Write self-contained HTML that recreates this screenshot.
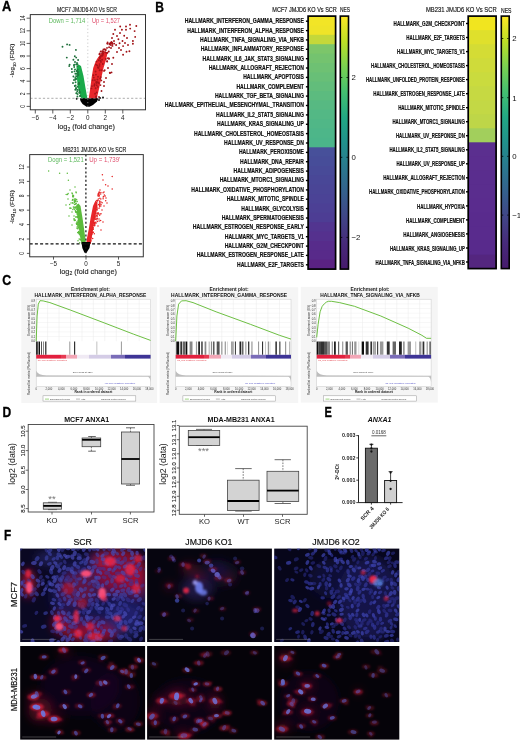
<!DOCTYPE html>
<html><head><meta charset="utf-8"><title>Figure</title><style>html,body{margin:0;padding:0;background:#fff;overflow:hidden}svg{display:block}text{font-family:"Liberation Sans",Arial,sans-serif}</style></head><body>
<svg width="520" height="742" viewBox="0 0 520 742">
<rect width="520" height="742" fill="#fff"/>
<text x="2" y="11.3" font-size="13.9" font-weight="bold" stroke="#000" stroke-width="0.3" textLength="9.3" lengthAdjust="spacingAndGlyphs">A</text>
<text x="155.2" y="11.5" font-size="13.9" font-weight="bold" stroke="#000" stroke-width="0.3" textLength="8.7" lengthAdjust="spacingAndGlyphs">B</text>
<text x="2.2" y="285.2" font-size="13.9" font-weight="bold" stroke="#000" stroke-width="0.3" textLength="8.9" lengthAdjust="spacingAndGlyphs">C</text>
<text x="2.6" y="416.7" font-size="13.9" font-weight="bold" stroke="#000" stroke-width="0.3" textLength="8.7" lengthAdjust="spacingAndGlyphs">D</text>
<text x="324.4" y="416.9" font-size="13.9" font-weight="bold" stroke="#000" stroke-width="0.3" textLength="7.4" lengthAdjust="spacingAndGlyphs">E</text>
<text x="3.9" y="539.8" font-size="13.9" font-weight="bold" stroke="#000" stroke-width="0.3" textLength="7.2" lengthAdjust="spacingAndGlyphs">F</text>
<clipPath id="cpA"><rect x="30.3" y="14.6" width="115.2" height="95.2"/></clipPath>
<g clip-path="url(#cpA)">
<polygon points="81.5,99.5 87.6,99.5 85.5,88 83.5,76 81,66 78.6,64.5 76.5,67 76.8,77 77.8,87 80,95" fill="#1aaa4a"/>
<polygon points="88.5,99.5 96.5,99.5 99,89 101.5,77 103.5,68 106,60 107.5,53 104,51 100.5,54 97,59 95,63 93.2,68 91.7,77 90,90" fill="#e8262a"/>
<circle cx="98.9" cy="83.1" r="0.95" fill="#a8141a"/>
<circle cx="109.5" cy="44.4" r="0.95" fill="#a8141a"/>
<circle cx="106.7" cy="52.9" r="0.95" fill="#a8141a"/>
<circle cx="93.8" cy="77.6" r="0.95" fill="#a8141a"/>
<circle cx="96.2" cy="82" r="0.95" fill="#a8141a"/>
<circle cx="93.3" cy="75.2" r="0.95" fill="#a8141a"/>
<circle cx="107.4" cy="52.7" r="0.95" fill="#a8141a"/>
<circle cx="114.2" cy="43.6" r="0.95" fill="#a8141a"/>
<circle cx="91.4" cy="88.4" r="0.95" fill="#a8141a"/>
<circle cx="108.9" cy="58.4" r="0.95" fill="#a8141a"/>
<circle cx="103.4" cy="49.4" r="0.95" fill="#a8141a"/>
<circle cx="100.7" cy="51.5" r="0.95" fill="#a8141a"/>
<circle cx="109.8" cy="43.4" r="0.95" fill="#a8141a"/>
<circle cx="101.2" cy="55.6" r="0.95" fill="#a8141a"/>
<circle cx="107.6" cy="43.6" r="0.95" fill="#a8141a"/>
<circle cx="102.6" cy="53.5" r="0.95" fill="#a8141a"/>
<circle cx="97.2" cy="82.1" r="0.95" fill="#a8141a"/>
<circle cx="97.3" cy="65.4" r="0.95" fill="#a8141a"/>
<circle cx="96.4" cy="98.2" r="0.95" fill="#a8141a"/>
<circle cx="109.1" cy="47.3" r="0.95" fill="#a8141a"/>
<circle cx="104" cy="70.9" r="0.95" fill="#a8141a"/>
<circle cx="108.8" cy="51.5" r="0.95" fill="#a8141a"/>
<circle cx="98" cy="67.6" r="0.95" fill="#a8141a"/>
<circle cx="107.2" cy="61.5" r="0.95" fill="#a8141a"/>
<circle cx="96.6" cy="83" r="0.95" fill="#a8141a"/>
<circle cx="96.5" cy="61.6" r="0.95" fill="#a8141a"/>
<circle cx="112.5" cy="44" r="0.95" fill="#a8141a"/>
<circle cx="102.3" cy="51.1" r="0.95" fill="#a8141a"/>
<circle cx="105.8" cy="58.9" r="0.95" fill="#a8141a"/>
<circle cx="98.7" cy="67.9" r="0.95" fill="#a8141a"/>
<circle cx="105.3" cy="52.3" r="0.95" fill="#a8141a"/>
<circle cx="98" cy="76.7" r="0.95" fill="#a8141a"/>
<circle cx="105.8" cy="50" r="0.95" fill="#a8141a"/>
<circle cx="104.7" cy="70.2" r="0.95" fill="#a8141a"/>
<circle cx="100.9" cy="61.9" r="0.95" fill="#a8141a"/>
<circle cx="111.5" cy="42" r="0.95" fill="#a8141a"/>
<circle cx="95.9" cy="97" r="0.95" fill="#a8141a"/>
<circle cx="107.9" cy="58.3" r="0.95" fill="#a8141a"/>
<circle cx="110.2" cy="43.7" r="0.95" fill="#a8141a"/>
<circle cx="95.1" cy="93.8" r="0.95" fill="#a8141a"/>
<circle cx="102.4" cy="53.4" r="0.95" fill="#a8141a"/>
<circle cx="109" cy="58.8" r="0.95" fill="#a8141a"/>
<circle cx="100.8" cy="77.1" r="0.95" fill="#a8141a"/>
<circle cx="97.9" cy="86.9" r="0.95" fill="#a8141a"/>
<circle cx="97.4" cy="79.5" r="0.95" fill="#a8141a"/>
<circle cx="102.1" cy="59.7" r="0.95" fill="#a8141a"/>
<circle cx="96.7" cy="85.3" r="0.95" fill="#a8141a"/>
<circle cx="110.9" cy="42.8" r="0.95" fill="#a8141a"/>
<circle cx="102.8" cy="54.9" r="0.95" fill="#a8141a"/>
<circle cx="107" cy="47.9" r="0.95" fill="#a8141a"/>
<circle cx="102.8" cy="64" r="0.95" fill="#a8141a"/>
<circle cx="99.8" cy="53.4" r="0.95" fill="#a8141a"/>
<circle cx="107.3" cy="43.6" r="0.95" fill="#a8141a"/>
<circle cx="107" cy="61.3" r="0.95" fill="#a8141a"/>
<circle cx="100.2" cy="78.5" r="0.95" fill="#a8141a"/>
<circle cx="94.9" cy="80.1" r="0.95" fill="#a8141a"/>
<circle cx="98.2" cy="82.5" r="0.95" fill="#a8141a"/>
<circle cx="95.9" cy="74.6" r="0.95" fill="#a8141a"/>
<circle cx="99.6" cy="64.1" r="0.95" fill="#a8141a"/>
<circle cx="99.7" cy="57.5" r="0.95" fill="#a8141a"/>
<circle cx="110.9" cy="45" r="0.95" fill="#a8141a"/>
<circle cx="103.1" cy="53.2" r="0.95" fill="#a8141a"/>
<circle cx="99.4" cy="54.3" r="0.95" fill="#a8141a"/>
<circle cx="105.2" cy="49.7" r="0.95" fill="#a8141a"/>
<circle cx="107.6" cy="42.5" r="0.95" fill="#a8141a"/>
<circle cx="95.6" cy="88.3" r="0.95" fill="#a8141a"/>
<circle cx="111.6" cy="43" r="0.95" fill="#a8141a"/>
<circle cx="92.7" cy="80.2" r="0.95" fill="#a8141a"/>
<circle cx="95.6" cy="71.5" r="0.95" fill="#a8141a"/>
<circle cx="101.4" cy="70.3" r="0.95" fill="#a8141a"/>
<circle cx="99.9" cy="58.6" r="0.95" fill="#a8141a"/>
<circle cx="96.3" cy="96.3" r="0.95" fill="#a8141a"/>
<circle cx="100.6" cy="56.8" r="0.95" fill="#a8141a"/>
<circle cx="99.5" cy="65.9" r="0.95" fill="#a8141a"/>
<circle cx="100.4" cy="60.7" r="0.95" fill="#a8141a"/>
<circle cx="96" cy="64.6" r="0.95" fill="#a8141a"/>
<circle cx="112.4" cy="45.9" r="0.95" fill="#a8141a"/>
<circle cx="94.3" cy="85.8" r="0.95" fill="#a8141a"/>
<circle cx="94.6" cy="84.2" r="0.95" fill="#a8141a"/>
<circle cx="96.7" cy="92.4" r="0.95" fill="#a8141a"/>
<circle cx="103.1" cy="51.2" r="0.95" fill="#a8141a"/>
<circle cx="91.9" cy="86.1" r="0.95" fill="#a8141a"/>
<circle cx="101.3" cy="80.4" r="0.95" fill="#a8141a"/>
<circle cx="98.6" cy="60.3" r="0.95" fill="#a8141a"/>
<circle cx="100.4" cy="85.1" r="0.95" fill="#a8141a"/>
<circle cx="99.6" cy="70.3" r="0.95" fill="#a8141a"/>
<circle cx="104.7" cy="49.3" r="0.95" fill="#a8141a"/>
<circle cx="112.3" cy="42.9" r="0.95" fill="#a8141a"/>
<circle cx="102.2" cy="52" r="0.95" fill="#a8141a"/>
<circle cx="98" cy="67.3" r="0.95" fill="#a8141a"/>
<circle cx="102.2" cy="55.8" r="0.95" fill="#a8141a"/>
<circle cx="120.2" cy="26.5" r="0.95" fill="#a01216"/>
<circle cx="121.9" cy="29.8" r="0.95" fill="#a01216"/>
<circle cx="126" cy="26.5" r="0.95" fill="#a01216"/>
<circle cx="126" cy="29.8" r="0.95" fill="#a01216"/>
<circle cx="130" cy="24.8" r="0.95" fill="#a01216"/>
<circle cx="130.2" cy="28.6" r="0.95" fill="#a01216"/>
<circle cx="136.3" cy="26" r="0.95" fill="#a01216"/>
<circle cx="134.6" cy="31.1" r="0.95" fill="#a01216"/>
<circle cx="115" cy="29.8" r="0.95" fill="#a01216"/>
<circle cx="113.3" cy="34" r="0.95" fill="#a01216"/>
<circle cx="124.2" cy="35.8" r="0.95" fill="#a01216"/>
<circle cx="135.2" cy="36.9" r="0.95" fill="#a01216"/>
<circle cx="132.9" cy="41" r="0.95" fill="#a01216"/>
<circle cx="132.9" cy="43.8" r="0.95" fill="#a01216"/>
<circle cx="118.4" cy="39.2" r="0.95" fill="#a01216"/>
<circle cx="122.5" cy="41" r="0.95" fill="#a01216"/>
<circle cx="119.6" cy="43.3" r="0.95" fill="#a01216"/>
<circle cx="116.1" cy="45" r="0.95" fill="#a01216"/>
<circle cx="123.1" cy="46.1" r="0.95" fill="#a01216"/>
<circle cx="126.5" cy="51.7" r="0.95" fill="#a01216"/>
<circle cx="129.4" cy="51.3" r="0.95" fill="#a01216"/>
<circle cx="123.1" cy="54.8" r="0.95" fill="#a01216"/>
<circle cx="113.3" cy="57.7" r="0.95" fill="#a01216"/>
<circle cx="109.8" cy="72.7" r="0.95" fill="#a01216"/>
<circle cx="111.5" cy="72.4" r="0.95" fill="#a01216"/>
<circle cx="110" cy="73" r="0.95" fill="#a01216"/>
<circle cx="104" cy="86" r="0.95" fill="#a01216"/>
<circle cx="101.5" cy="91" r="0.95" fill="#a01216"/>
<circle cx="99" cy="97" r="0.95" fill="#a01216"/>
<circle cx="112" cy="38" r="0.95" fill="#a01216"/>
<circle cx="117" cy="36" r="0.95" fill="#a01216"/>
<circle cx="120" cy="33" r="0.95" fill="#a01216"/>
<circle cx="127" cy="38" r="0.95" fill="#a01216"/>
<circle cx="114" cy="41" r="0.95" fill="#a01216"/>
<circle cx="119" cy="48" r="0.95" fill="#a01216"/>
<circle cx="121" cy="50" r="0.95" fill="#a01216"/>
<circle cx="117" cy="52" r="0.95" fill="#a01216"/>
<circle cx="125" cy="43" r="0.95" fill="#a01216"/>
<circle cx="111" cy="48" r="0.95" fill="#a01216"/>
<circle cx="128" cy="45" r="0.95" fill="#a01216"/>
<circle cx="112" cy="64" r="0.95" fill="#a01216"/>
<circle cx="108" cy="68" r="0.95" fill="#a01216"/>
<circle cx="106" cy="78" r="0.95" fill="#a01216"/>
<circle cx="104" cy="82" r="0.95" fill="#a01216"/>
<circle cx="62.5" cy="46.8" r="0.95" fill="#1d6e3a"/>
<circle cx="67.1" cy="44.4" r="0.95" fill="#1d6e3a"/>
<circle cx="69.6" cy="44.9" r="0.95" fill="#1d6e3a"/>
<circle cx="75.9" cy="49.9" r="0.95" fill="#1d6e3a"/>
<circle cx="66.8" cy="57.6" r="0.95" fill="#1d6e3a"/>
<circle cx="74.8" cy="56.2" r="0.95" fill="#1d6e3a"/>
<circle cx="76.2" cy="57.6" r="0.95" fill="#1d6e3a"/>
<circle cx="73.4" cy="59.7" r="0.95" fill="#1d6e3a"/>
<circle cx="78.1" cy="60" r="0.95" fill="#1d6e3a"/>
<circle cx="69.6" cy="64.7" r="0.95" fill="#1d6e3a"/>
<circle cx="69.2" cy="66.1" r="0.95" fill="#1d6e3a"/>
<circle cx="71.8" cy="69" r="0.95" fill="#1d6e3a"/>
<circle cx="73.4" cy="76.5" r="0.95" fill="#1d6e3a"/>
<circle cx="74.8" cy="86" r="0.95" fill="#1d6e3a"/>
<circle cx="75.3" cy="89.7" r="0.95" fill="#1d6e3a"/>
<circle cx="75" cy="62" r="0.95" fill="#1d6e3a"/>
<circle cx="77" cy="63" r="0.95" fill="#1d6e3a"/>
<circle cx="72" cy="72" r="0.95" fill="#1d6e3a"/>
<circle cx="74" cy="80" r="0.95" fill="#1d6e3a"/>
<circle cx="73" cy="83" r="0.95" fill="#1d6e3a"/>
<circle cx="79.7" cy="92.8" r="0.95" fill="#1f7a3e"/>
<circle cx="74.4" cy="64.6" r="0.95" fill="#1f7a3e"/>
<circle cx="78.4" cy="74.8" r="0.95" fill="#1f7a3e"/>
<circle cx="77.2" cy="89.8" r="0.95" fill="#1f7a3e"/>
<circle cx="76.8" cy="71" r="0.95" fill="#1f7a3e"/>
<circle cx="79.7" cy="91.6" r="0.95" fill="#1f7a3e"/>
<circle cx="78.1" cy="75.3" r="0.95" fill="#1f7a3e"/>
<circle cx="77.5" cy="86.7" r="0.95" fill="#1f7a3e"/>
<circle cx="77.4" cy="96.5" r="0.95" fill="#1f7a3e"/>
<circle cx="76" cy="87.9" r="0.95" fill="#1f7a3e"/>
<circle cx="77.7" cy="69.6" r="0.95" fill="#1f7a3e"/>
<circle cx="77.2" cy="71" r="0.95" fill="#1f7a3e"/>
<circle cx="78.7" cy="83.8" r="0.95" fill="#1f7a3e"/>
<circle cx="76" cy="76.1" r="0.95" fill="#1f7a3e"/>
<circle cx="77.8" cy="73.6" r="0.95" fill="#1f7a3e"/>
<circle cx="79.1" cy="83.9" r="0.95" fill="#1f7a3e"/>
<circle cx="76.7" cy="93.3" r="0.95" fill="#1f7a3e"/>
<circle cx="75.6" cy="82.2" r="0.95" fill="#1f7a3e"/>
<circle cx="73.9" cy="65.3" r="0.95" fill="#1f7a3e"/>
<circle cx="79.3" cy="92.6" r="0.95" fill="#1f7a3e"/>
<circle cx="77.3" cy="91.3" r="0.95" fill="#1f7a3e"/>
<circle cx="78.5" cy="84.3" r="0.95" fill="#1f7a3e"/>
<circle cx="76.9" cy="76.5" r="0.95" fill="#1f7a3e"/>
<circle cx="74.5" cy="71.4" r="0.95" fill="#1f7a3e"/>
<circle cx="77.9" cy="72.8" r="0.95" fill="#1f7a3e"/>
<circle cx="78.9" cy="82.6" r="0.95" fill="#1f7a3e"/>
<circle cx="76" cy="79.1" r="0.95" fill="#1f7a3e"/>
<circle cx="79.2" cy="90" r="0.95" fill="#1f7a3e"/>
<circle cx="76.2" cy="64.4" r="0.95" fill="#1f7a3e"/>
<circle cx="74.2" cy="67" r="0.95" fill="#1f7a3e"/>
<circle cx="76.3" cy="93.2" r="0.95" fill="#1f7a3e"/>
<circle cx="78.2" cy="71.9" r="0.95" fill="#1f7a3e"/>
<circle cx="75.2" cy="77.9" r="0.95" fill="#1f7a3e"/>
<circle cx="75" cy="69.5" r="0.95" fill="#1f7a3e"/>
<circle cx="76.1" cy="88.6" r="0.95" fill="#1f7a3e"/>
<circle cx="77.7" cy="94.1" r="0.95" fill="#1f7a3e"/>
<circle cx="80" cy="96" r="0.95" fill="#1f7a3e"/>
<circle cx="75.4" cy="73.7" r="0.95" fill="#1f7a3e"/>
<circle cx="75.3" cy="79.7" r="0.95" fill="#1f7a3e"/>
<circle cx="75.6" cy="85.5" r="0.95" fill="#1f7a3e"/>
<circle cx="77.5" cy="64.3" r="0.95" fill="#1f7a3e"/>
<circle cx="76.8" cy="73.8" r="0.95" fill="#1f7a3e"/>
<circle cx="76.1" cy="78.8" r="0.95" fill="#1f7a3e"/>
<circle cx="77.3" cy="66.1" r="0.95" fill="#1f7a3e"/>
<circle cx="80.3" cy="96" r="0.95" fill="#1f7a3e"/>
<circle cx="76.7" cy="98.7" r="0.95" fill="#000"/>
<circle cx="100" cy="98" r="0.95" fill="#000"/>
<circle cx="103" cy="97.5" r="0.95" fill="#000"/>
<circle cx="99" cy="100" r="0.95" fill="#000"/>
<polygon points="79.8,98.2 98.5,98.2 97,101.5 93,105 89.5,106.8 86.5,106.8 82.5,104 80.5,101" fill="#000"/>
<line x1="30.3" y1="98.3" x2="145.5" y2="98.3" stroke="#8a8a8a" stroke-width="0.7" stroke-dasharray="2.2,2"/>
<line x1="87.8" y1="14.6" x2="87.8" y2="109.8" stroke="#b0b0b0" stroke-width="0.7" stroke-dasharray="1.1,2.4"/>
</g>
<rect x="30.3" y="14.6" width="115.2" height="95.2" fill="none" stroke="#333" stroke-width="1"/>
<line x1="26.6" y1="106.4" x2="30.3" y2="106.4" stroke="#333" stroke-width="0.8"/>
<text transform="translate(24.6,106.4) rotate(-90)" text-anchor="middle" font-size="6.3" fill="#1a1a1a" textLength="2.8" lengthAdjust="spacingAndGlyphs">0</text>
<line x1="26.6" y1="93.8" x2="30.3" y2="93.8" stroke="#333" stroke-width="0.8"/>
<text transform="translate(24.6,93.8) rotate(-90)" text-anchor="middle" font-size="6.3" fill="#1a1a1a" textLength="2.8" lengthAdjust="spacingAndGlyphs">2</text>
<line x1="26.6" y1="81.2" x2="30.3" y2="81.2" stroke="#333" stroke-width="0.8"/>
<text transform="translate(24.6,81.2) rotate(-90)" text-anchor="middle" font-size="6.3" fill="#1a1a1a" textLength="2.8" lengthAdjust="spacingAndGlyphs">4</text>
<line x1="26.6" y1="68.6" x2="30.3" y2="68.6" stroke="#333" stroke-width="0.8"/>
<text transform="translate(24.6,68.6) rotate(-90)" text-anchor="middle" font-size="6.3" fill="#1a1a1a" textLength="2.8" lengthAdjust="spacingAndGlyphs">6</text>
<line x1="26.6" y1="56" x2="30.3" y2="56" stroke="#333" stroke-width="0.8"/>
<text transform="translate(24.6,56) rotate(-90)" text-anchor="middle" font-size="6.3" fill="#1a1a1a" textLength="2.8" lengthAdjust="spacingAndGlyphs">8</text>
<line x1="26.6" y1="43.4" x2="30.3" y2="43.4" stroke="#333" stroke-width="0.8"/>
<text transform="translate(24.6,43.4) rotate(-90)" text-anchor="middle" font-size="6.3" fill="#1a1a1a" textLength="5.6" lengthAdjust="spacingAndGlyphs">10</text>
<line x1="26.6" y1="30.8" x2="30.3" y2="30.8" stroke="#333" stroke-width="0.8"/>
<text transform="translate(24.6,30.8) rotate(-90)" text-anchor="middle" font-size="6.3" fill="#1a1a1a" textLength="5.6" lengthAdjust="spacingAndGlyphs">12</text>
<line x1="26.6" y1="18.2" x2="30.3" y2="18.2" stroke="#333" stroke-width="0.8"/>
<text transform="translate(24.6,18.2) rotate(-90)" text-anchor="middle" font-size="6.3" fill="#1a1a1a" textLength="5.6" lengthAdjust="spacingAndGlyphs">14</text>
<line x1="35.3" y1="109.8" x2="35.3" y2="113.5" stroke="#333" stroke-width="0.8"/>
<text x="35.3" y="120.4" text-anchor="middle" font-size="6.3" fill="#1a1a1a">&#8722;6</text>
<line x1="52.8" y1="109.8" x2="52.8" y2="113.5" stroke="#333" stroke-width="0.8"/>
<text x="52.8" y="120.4" text-anchor="middle" font-size="6.3" fill="#1a1a1a">&#8722;4</text>
<line x1="70.3" y1="109.8" x2="70.3" y2="113.5" stroke="#333" stroke-width="0.8"/>
<text x="70.3" y="120.4" text-anchor="middle" font-size="6.3" fill="#1a1a1a">&#8722;2</text>
<line x1="87.8" y1="109.8" x2="87.8" y2="113.5" stroke="#333" stroke-width="0.8"/>
<text x="87.8" y="120.4" text-anchor="middle" font-size="6.3" fill="#1a1a1a">0</text>
<line x1="105.3" y1="109.8" x2="105.3" y2="113.5" stroke="#333" stroke-width="0.8"/>
<text x="105.3" y="120.4" text-anchor="middle" font-size="6.3" fill="#1a1a1a">2</text>
<line x1="122.8" y1="109.8" x2="122.8" y2="113.5" stroke="#333" stroke-width="0.8"/>
<text x="122.8" y="120.4" text-anchor="middle" font-size="6.3" fill="#1a1a1a">4</text>
<clipPath id="cpB"><rect x="29.7" y="154.6" width="113.6" height="102.2"/></clipPath>
<g clip-path="url(#cpB)">
<polygon points="81.5,244 86,244 84.5,232 82.5,218 80.5,206 78.5,203.5 76.3,205 77.2,215 78.8,228 80.3,238" fill="#5cbb3c"/>
<polygon points="86.2,244 90.8,244 92.3,234 94.3,222 96.6,210 97.6,202.5 95.5,200.5 93,206 90.6,218 88.6,230 87,238" fill="#e8262a"/>
<circle cx="99" cy="194.7" r="0.75" fill="#e52222"/>
<circle cx="91.8" cy="234.6" r="0.75" fill="#e52222"/>
<circle cx="97.3" cy="208" r="0.75" fill="#e52222"/>
<circle cx="96.8" cy="209.2" r="0.75" fill="#e52222"/>
<circle cx="97.1" cy="218.5" r="0.75" fill="#e52222"/>
<circle cx="103.1" cy="192.8" r="0.75" fill="#e52222"/>
<circle cx="94" cy="217.1" r="0.75" fill="#e52222"/>
<circle cx="90.8" cy="240.4" r="0.75" fill="#e52222"/>
<circle cx="95.7" cy="219.2" r="0.75" fill="#e52222"/>
<circle cx="94.9" cy="211.8" r="0.75" fill="#e52222"/>
<circle cx="94.7" cy="223.6" r="0.75" fill="#e52222"/>
<circle cx="99.2" cy="192.5" r="0.75" fill="#e52222"/>
<circle cx="99.2" cy="195.7" r="0.75" fill="#e52222"/>
<circle cx="97.9" cy="195" r="0.75" fill="#e52222"/>
<circle cx="99.1" cy="220.9" r="0.75" fill="#e52222"/>
<circle cx="91.5" cy="229.8" r="0.75" fill="#e52222"/>
<circle cx="97.1" cy="215.8" r="0.75" fill="#e52222"/>
<circle cx="105.2" cy="196" r="0.75" fill="#e52222"/>
<circle cx="96.9" cy="219.8" r="0.75" fill="#e52222"/>
<circle cx="99.6" cy="215.2" r="0.75" fill="#e52222"/>
<circle cx="98.5" cy="204.5" r="0.75" fill="#e52222"/>
<circle cx="93.4" cy="222.1" r="0.75" fill="#e52222"/>
<circle cx="98.4" cy="198.9" r="0.75" fill="#e52222"/>
<circle cx="96.1" cy="223" r="0.75" fill="#e52222"/>
<circle cx="98.5" cy="213.9" r="0.75" fill="#e52222"/>
<circle cx="95.9" cy="210.9" r="0.75" fill="#e52222"/>
<circle cx="98.1" cy="213.2" r="0.75" fill="#e52222"/>
<circle cx="91.4" cy="235.2" r="0.75" fill="#e52222"/>
<circle cx="99.8" cy="198.3" r="0.75" fill="#e52222"/>
<circle cx="90.9" cy="237.2" r="0.75" fill="#e52222"/>
<circle cx="92.7" cy="227.4" r="0.75" fill="#e52222"/>
<circle cx="95.9" cy="212.7" r="0.75" fill="#e52222"/>
<circle cx="93.3" cy="227.9" r="0.75" fill="#e52222"/>
<circle cx="99.3" cy="204.9" r="0.75" fill="#e52222"/>
<circle cx="91.9" cy="230.4" r="0.75" fill="#e52222"/>
<circle cx="104.4" cy="195.1" r="0.75" fill="#e52222"/>
<circle cx="90" cy="242.5" r="0.75" fill="#e52222"/>
<circle cx="92.4" cy="233" r="0.75" fill="#e52222"/>
<circle cx="100.6" cy="220.5" r="0.75" fill="#e52222"/>
<circle cx="92.8" cy="232.2" r="0.75" fill="#e52222"/>
<circle cx="95.3" cy="208.6" r="0.75" fill="#e52222"/>
<circle cx="95.5" cy="222.3" r="0.75" fill="#e52222"/>
<circle cx="96.9" cy="200.5" r="0.75" fill="#e52222"/>
<circle cx="99.9" cy="201.9" r="0.75" fill="#e52222"/>
<circle cx="94.8" cy="217" r="0.75" fill="#e52222"/>
<circle cx="94.8" cy="223.7" r="0.75" fill="#e52222"/>
<circle cx="100.8" cy="199" r="0.75" fill="#e52222"/>
<circle cx="94.9" cy="219.3" r="0.75" fill="#e52222"/>
<circle cx="98.1" cy="196" r="0.75" fill="#e52222"/>
<circle cx="97" cy="218.2" r="0.75" fill="#e52222"/>
<circle cx="91.6" cy="232.7" r="0.75" fill="#e52222"/>
<circle cx="93.4" cy="232.2" r="0.75" fill="#e52222"/>
<circle cx="101" cy="213.7" r="0.75" fill="#e52222"/>
<circle cx="98.5" cy="194.3" r="0.75" fill="#e52222"/>
<circle cx="94.6" cy="225.7" r="0.75" fill="#e52222"/>
<circle cx="97.3" cy="200.4" r="0.75" fill="#e52222"/>
<circle cx="94" cy="217.9" r="0.75" fill="#e52222"/>
<circle cx="90.5" cy="239.8" r="0.75" fill="#e52222"/>
<circle cx="96.2" cy="204.9" r="0.75" fill="#e52222"/>
<circle cx="91.8" cy="230.9" r="0.75" fill="#e52222"/>
<circle cx="97" cy="213.5" r="0.75" fill="#e52222"/>
<circle cx="97.1" cy="210.1" r="0.75" fill="#e52222"/>
<circle cx="98.3" cy="193.4" r="0.75" fill="#e52222"/>
<circle cx="95.3" cy="213.6" r="0.75" fill="#e52222"/>
<circle cx="95.3" cy="218" r="0.75" fill="#e52222"/>
<circle cx="91.2" cy="234.6" r="0.75" fill="#e52222"/>
<circle cx="98" cy="212.8" r="0.75" fill="#e52222"/>
<circle cx="94.7" cy="224.3" r="0.75" fill="#e52222"/>
<circle cx="90" cy="240.5" r="0.75" fill="#e52222"/>
<circle cx="94.5" cy="222.4" r="0.75" fill="#e52222"/>
<circle cx="90.7" cy="241.5" r="0.75" fill="#e52222"/>
<circle cx="95.2" cy="216.2" r="0.75" fill="#e52222"/>
<circle cx="90.8" cy="237.7" r="0.75" fill="#e52222"/>
<circle cx="103.7" cy="196.4" r="0.75" fill="#e52222"/>
<circle cx="93.3" cy="229.2" r="0.75" fill="#e52222"/>
<circle cx="94.2" cy="215" r="0.75" fill="#e52222"/>
<circle cx="91.5" cy="234" r="0.75" fill="#e52222"/>
<circle cx="103.2" cy="197.1" r="0.75" fill="#e52222"/>
<circle cx="100.8" cy="206" r="0.75" fill="#e52222"/>
<circle cx="97.2" cy="201" r="0.75" fill="#e52222"/>
<circle cx="97.3" cy="221.5" r="0.75" fill="#e52222"/>
<circle cx="94.7" cy="225.3" r="0.75" fill="#e52222"/>
<circle cx="100.9" cy="192.6" r="0.75" fill="#e52222"/>
<circle cx="97.7" cy="200.4" r="0.75" fill="#e52222"/>
<circle cx="94.5" cy="215.9" r="0.75" fill="#e52222"/>
<circle cx="99.6" cy="205.7" r="0.75" fill="#e52222"/>
<circle cx="99.7" cy="201" r="0.75" fill="#e52222"/>
<circle cx="100.7" cy="193.9" r="0.75" fill="#e52222"/>
<circle cx="92.7" cy="238.4" r="0.75" fill="#e52222"/>
<circle cx="99.3" cy="193" r="0.75" fill="#e52222"/>
<circle cx="93.1" cy="225.6" r="0.75" fill="#e52222"/>
<circle cx="99.6" cy="206.7" r="0.75" fill="#e52222"/>
<circle cx="94.3" cy="233.7" r="0.75" fill="#e52222"/>
<circle cx="99.9" cy="203.7" r="0.75" fill="#e52222"/>
<circle cx="96.3" cy="206.9" r="0.75" fill="#e52222"/>
<circle cx="94.9" cy="215.1" r="0.75" fill="#e52222"/>
<circle cx="99.1" cy="191.9" r="0.75" fill="#e52222"/>
<circle cx="91.7" cy="232.4" r="0.75" fill="#e52222"/>
<circle cx="96.6" cy="209.6" r="0.75" fill="#e52222"/>
<circle cx="97.3" cy="213.9" r="0.75" fill="#e52222"/>
<circle cx="101" cy="204.4" r="0.75" fill="#e52222"/>
<circle cx="96.5" cy="215.3" r="0.75" fill="#e52222"/>
<circle cx="99.5" cy="202" r="0.75" fill="#e52222"/>
<circle cx="97.8" cy="200.4" r="0.75" fill="#e52222"/>
<circle cx="97" cy="216.5" r="0.75" fill="#e52222"/>
<circle cx="99" cy="208.3" r="0.75" fill="#e52222"/>
<circle cx="99.7" cy="203.9" r="0.75" fill="#e52222"/>
<circle cx="105.7" cy="200.8" r="0.75" fill="#e52222"/>
<circle cx="102.1" cy="202.8" r="0.75" fill="#e52222"/>
<circle cx="103.1" cy="198.8" r="0.75" fill="#e52222"/>
<circle cx="102.4" cy="174.8" r="0.75" fill="#e52222"/>
<circle cx="112.2" cy="176.6" r="0.75" fill="#e52222"/>
<circle cx="105.6" cy="184.7" r="0.75" fill="#e52222"/>
<circle cx="112.2" cy="189" r="0.75" fill="#e52222"/>
<circle cx="103" cy="180" r="0.75" fill="#e52222"/>
<circle cx="108" cy="186" r="0.75" fill="#e52222"/>
<circle cx="100" cy="190" r="0.75" fill="#e52222"/>
<circle cx="104" cy="192" r="0.75" fill="#e52222"/>
<circle cx="106" cy="198" r="0.75" fill="#e52222"/>
<circle cx="99" cy="196" r="0.75" fill="#e52222"/>
<circle cx="101" cy="202" r="0.75" fill="#e52222"/>
<circle cx="97" cy="206" r="0.75" fill="#e52222"/>
<circle cx="104" cy="206" r="0.75" fill="#e52222"/>
<circle cx="107" cy="203" r="0.75" fill="#e52222"/>
<circle cx="102" cy="210" r="0.75" fill="#e52222"/>
<circle cx="100" cy="214" r="0.75" fill="#e52222"/>
<circle cx="99" cy="219" r="0.75" fill="#e52222"/>
<circle cx="103" cy="222" r="0.75" fill="#e52222"/>
<circle cx="98" cy="226" r="0.75" fill="#e52222"/>
<circle cx="101" cy="230" r="0.75" fill="#e52222"/>
<circle cx="75.3" cy="204.1" r="0.75" fill="#5cbb3c"/>
<circle cx="75.9" cy="212.1" r="0.75" fill="#5cbb3c"/>
<circle cx="78.9" cy="232.1" r="0.75" fill="#5cbb3c"/>
<circle cx="77.5" cy="225.9" r="0.75" fill="#5cbb3c"/>
<circle cx="79.1" cy="228.8" r="0.75" fill="#5cbb3c"/>
<circle cx="79.6" cy="242.7" r="0.75" fill="#5cbb3c"/>
<circle cx="77.5" cy="206.1" r="0.75" fill="#5cbb3c"/>
<circle cx="76.2" cy="207.2" r="0.75" fill="#5cbb3c"/>
<circle cx="77.2" cy="214.2" r="0.75" fill="#5cbb3c"/>
<circle cx="74.5" cy="204.6" r="0.75" fill="#5cbb3c"/>
<circle cx="72.5" cy="202.7" r="0.75" fill="#5cbb3c"/>
<circle cx="75.8" cy="201.3" r="0.75" fill="#5cbb3c"/>
<circle cx="78.7" cy="232.1" r="0.75" fill="#5cbb3c"/>
<circle cx="76.6" cy="224.3" r="0.75" fill="#5cbb3c"/>
<circle cx="72.8" cy="195.3" r="0.75" fill="#5cbb3c"/>
<circle cx="74.3" cy="220.5" r="0.75" fill="#5cbb3c"/>
<circle cx="77.8" cy="222.6" r="0.75" fill="#5cbb3c"/>
<circle cx="77.1" cy="212.3" r="0.75" fill="#5cbb3c"/>
<circle cx="75.1" cy="201.5" r="0.75" fill="#5cbb3c"/>
<circle cx="74.9" cy="200.5" r="0.75" fill="#5cbb3c"/>
<circle cx="72.3" cy="200.3" r="0.75" fill="#5cbb3c"/>
<circle cx="74.1" cy="219" r="0.75" fill="#5cbb3c"/>
<circle cx="74.8" cy="200.6" r="0.75" fill="#5cbb3c"/>
<circle cx="78.3" cy="227.6" r="0.75" fill="#5cbb3c"/>
<circle cx="78.4" cy="224.9" r="0.75" fill="#5cbb3c"/>
<circle cx="74.3" cy="201.1" r="0.75" fill="#5cbb3c"/>
<circle cx="77" cy="223.5" r="0.75" fill="#5cbb3c"/>
<circle cx="78.7" cy="231.4" r="0.75" fill="#5cbb3c"/>
<circle cx="72.8" cy="196.8" r="0.75" fill="#5cbb3c"/>
<circle cx="75.1" cy="207.6" r="0.75" fill="#5cbb3c"/>
<circle cx="80.3" cy="235.8" r="0.75" fill="#5cbb3c"/>
<circle cx="75.3" cy="207" r="0.75" fill="#5cbb3c"/>
<circle cx="76.3" cy="203.2" r="0.75" fill="#5cbb3c"/>
<circle cx="72.9" cy="209.4" r="0.75" fill="#5cbb3c"/>
<circle cx="75.3" cy="220.2" r="0.75" fill="#5cbb3c"/>
<circle cx="75.8" cy="211.9" r="0.75" fill="#5cbb3c"/>
<circle cx="77.2" cy="201.6" r="0.75" fill="#5cbb3c"/>
<circle cx="76.2" cy="192.8" r="0.75" fill="#5cbb3c"/>
<circle cx="77.1" cy="223.3" r="0.75" fill="#5cbb3c"/>
<circle cx="77.8" cy="220.9" r="0.75" fill="#5cbb3c"/>
<circle cx="73.5" cy="195.6" r="0.75" fill="#5cbb3c"/>
<circle cx="72.7" cy="199.6" r="0.75" fill="#5cbb3c"/>
<circle cx="78.9" cy="233.6" r="0.75" fill="#5cbb3c"/>
<circle cx="74.8" cy="219.9" r="0.75" fill="#5cbb3c"/>
<circle cx="73" cy="203.3" r="0.75" fill="#5cbb3c"/>
<circle cx="78.7" cy="226.3" r="0.75" fill="#5cbb3c"/>
<circle cx="78.6" cy="224.3" r="0.75" fill="#5cbb3c"/>
<circle cx="78.3" cy="222.9" r="0.75" fill="#5cbb3c"/>
<circle cx="79.8" cy="233.2" r="0.75" fill="#5cbb3c"/>
<circle cx="78.7" cy="218.9" r="0.75" fill="#5cbb3c"/>
<circle cx="79.4" cy="228.1" r="0.75" fill="#5cbb3c"/>
<circle cx="76.4" cy="223.3" r="0.75" fill="#5cbb3c"/>
<circle cx="79.2" cy="239.1" r="0.75" fill="#5cbb3c"/>
<circle cx="78.4" cy="217" r="0.75" fill="#5cbb3c"/>
<circle cx="76.7" cy="212.5" r="0.75" fill="#5cbb3c"/>
<circle cx="74.4" cy="201.9" r="0.75" fill="#5cbb3c"/>
<circle cx="72.4" cy="193.8" r="0.75" fill="#5cbb3c"/>
<circle cx="75.3" cy="210.7" r="0.75" fill="#5cbb3c"/>
<circle cx="74.6" cy="209.2" r="0.75" fill="#5cbb3c"/>
<circle cx="68.1" cy="193.5" r="0.75" fill="#5cbb3c"/>
<circle cx="75.8" cy="217" r="0.75" fill="#5cbb3c"/>
<circle cx="78" cy="240.8" r="0.75" fill="#5cbb3c"/>
<circle cx="78.2" cy="232.8" r="0.75" fill="#5cbb3c"/>
<circle cx="73.5" cy="196.8" r="0.75" fill="#5cbb3c"/>
<circle cx="75.3" cy="201.3" r="0.75" fill="#5cbb3c"/>
<circle cx="78.4" cy="221.9" r="0.75" fill="#5cbb3c"/>
<circle cx="70.1" cy="208.2" r="0.75" fill="#5cbb3c"/>
<circle cx="71" cy="208.3" r="0.75" fill="#5cbb3c"/>
<circle cx="77.2" cy="227.1" r="0.75" fill="#5cbb3c"/>
<circle cx="79.6" cy="232.7" r="0.75" fill="#5cbb3c"/>
<circle cx="77" cy="228.3" r="0.75" fill="#5cbb3c"/>
<circle cx="75.8" cy="211.4" r="0.75" fill="#5cbb3c"/>
<circle cx="79.4" cy="232.7" r="0.75" fill="#5cbb3c"/>
<circle cx="79.5" cy="234.5" r="0.75" fill="#5cbb3c"/>
<circle cx="80.5" cy="239.2" r="0.75" fill="#5cbb3c"/>
<circle cx="73.4" cy="207.1" r="0.75" fill="#5cbb3c"/>
<circle cx="69.6" cy="204.6" r="0.75" fill="#5cbb3c"/>
<circle cx="77.7" cy="232.4" r="0.75" fill="#5cbb3c"/>
<circle cx="77" cy="209.5" r="0.75" fill="#5cbb3c"/>
<circle cx="77.3" cy="224.5" r="0.75" fill="#5cbb3c"/>
<circle cx="77.5" cy="217.3" r="0.75" fill="#5cbb3c"/>
<circle cx="75.6" cy="211.6" r="0.75" fill="#5cbb3c"/>
<circle cx="74.6" cy="202.6" r="0.75" fill="#5cbb3c"/>
<circle cx="75.8" cy="203.9" r="0.75" fill="#5cbb3c"/>
<circle cx="80.2" cy="239.7" r="0.75" fill="#5cbb3c"/>
<circle cx="77.7" cy="228.8" r="0.75" fill="#5cbb3c"/>
<circle cx="77.5" cy="207.1" r="0.75" fill="#5cbb3c"/>
<circle cx="74" cy="215.9" r="0.75" fill="#5cbb3c"/>
<circle cx="74.3" cy="199.1" r="0.75" fill="#5cbb3c"/>
<circle cx="80.7" cy="239.8" r="0.75" fill="#5cbb3c"/>
<circle cx="75.7" cy="208" r="0.75" fill="#5cbb3c"/>
<circle cx="67.5" cy="194.5" r="0.75" fill="#5cbb3c"/>
<circle cx="78" cy="216.6" r="0.75" fill="#5cbb3c"/>
<circle cx="76" cy="199.4" r="0.75" fill="#5cbb3c"/>
<circle cx="72.8" cy="196.5" r="0.75" fill="#5cbb3c"/>
<circle cx="78.2" cy="217.2" r="0.75" fill="#5cbb3c"/>
<circle cx="73.9" cy="208.3" r="0.75" fill="#5cbb3c"/>
<circle cx="78.2" cy="225" r="0.75" fill="#5cbb3c"/>
<circle cx="76.9" cy="222" r="0.75" fill="#5cbb3c"/>
<circle cx="76.5" cy="212.8" r="0.75" fill="#5cbb3c"/>
<circle cx="74.9" cy="200.7" r="0.75" fill="#5cbb3c"/>
<circle cx="76.2" cy="217" r="0.75" fill="#5cbb3c"/>
<circle cx="78.4" cy="216.2" r="0.75" fill="#5cbb3c"/>
<circle cx="77.3" cy="216.4" r="0.75" fill="#5cbb3c"/>
<circle cx="77.3" cy="211.5" r="0.75" fill="#5cbb3c"/>
<circle cx="76.4" cy="209" r="0.75" fill="#5cbb3c"/>
<circle cx="74.2" cy="207.3" r="0.75" fill="#5cbb3c"/>
<circle cx="76.7" cy="206.8" r="0.75" fill="#5cbb3c"/>
<circle cx="76.7" cy="199.8" r="0.75" fill="#5cbb3c"/>
<circle cx="75.6" cy="199.1" r="0.75" fill="#5cbb3c"/>
<circle cx="48.6" cy="171.1" r="0.75" fill="#5cbb3c"/>
<circle cx="59.6" cy="173.3" r="0.75" fill="#5cbb3c"/>
<circle cx="67.3" cy="173.3" r="0.75" fill="#5cbb3c"/>
<circle cx="68.4" cy="180.3" r="0.75" fill="#5cbb3c"/>
<circle cx="75" cy="186.9" r="0.75" fill="#5cbb3c"/>
<circle cx="66.2" cy="194.6" r="0.75" fill="#5cbb3c"/>
<circle cx="70" cy="190" r="0.75" fill="#5cbb3c"/>
<circle cx="72" cy="193" r="0.75" fill="#5cbb3c"/>
<circle cx="68" cy="199" r="0.75" fill="#5cbb3c"/>
<circle cx="74" cy="200" r="0.75" fill="#5cbb3c"/>
<circle cx="71" cy="203" r="0.75" fill="#5cbb3c"/>
<circle cx="66" cy="205" r="0.75" fill="#5cbb3c"/>
<circle cx="73" cy="196" r="0.75" fill="#5cbb3c"/>
<circle cx="76" cy="192" r="0.75" fill="#5cbb3c"/>
<circle cx="70" cy="208" r="0.75" fill="#5cbb3c"/>
<circle cx="72" cy="212" r="0.75" fill="#5cbb3c"/>
<circle cx="69" cy="216" r="0.75" fill="#5cbb3c"/>
<circle cx="74" cy="219" r="0.75" fill="#5cbb3c"/>
<circle cx="72" cy="225" r="0.75" fill="#5cbb3c"/>
<polygon points="81.5,242 90.5,242 89.5,248 86.5,252.8 84.5,252.8 82.3,248" fill="#000"/>
<line x1="29.7" y1="243.9" x2="143.3" y2="243.9" stroke="#111" stroke-width="1.2" stroke-dasharray="3,2.2"/>
<line x1="85.9" y1="154.6" x2="85.9" y2="256.8" stroke="#111" stroke-width="1.2" stroke-dasharray="2,2.2"/>
</g>
<rect x="29.7" y="154.6" width="113.6" height="102.2" fill="none" stroke="#333" stroke-width="1"/>
<line x1="26.9" y1="253.4" x2="29.7" y2="253.4" stroke="#333" stroke-width="0.8"/>
<text transform="translate(24.4,253.4) rotate(-90)" text-anchor="middle" font-size="6.3" fill="#1a1a1a" textLength="2.8" lengthAdjust="spacingAndGlyphs">0</text>
<line x1="26.9" y1="239" x2="29.7" y2="239" stroke="#333" stroke-width="0.8"/>
<text transform="translate(24.4,239) rotate(-90)" text-anchor="middle" font-size="6.3" fill="#1a1a1a" textLength="2.8" lengthAdjust="spacingAndGlyphs">2</text>
<line x1="26.9" y1="224.6" x2="29.7" y2="224.6" stroke="#333" stroke-width="0.8"/>
<text transform="translate(24.4,224.6) rotate(-90)" text-anchor="middle" font-size="6.3" fill="#1a1a1a" textLength="2.8" lengthAdjust="spacingAndGlyphs">4</text>
<line x1="26.9" y1="210.2" x2="29.7" y2="210.2" stroke="#333" stroke-width="0.8"/>
<text transform="translate(24.4,210.2) rotate(-90)" text-anchor="middle" font-size="6.3" fill="#1a1a1a" textLength="2.8" lengthAdjust="spacingAndGlyphs">6</text>
<line x1="26.9" y1="195.8" x2="29.7" y2="195.8" stroke="#333" stroke-width="0.8"/>
<text transform="translate(24.4,195.8) rotate(-90)" text-anchor="middle" font-size="6.3" fill="#1a1a1a" textLength="2.8" lengthAdjust="spacingAndGlyphs">8</text>
<line x1="26.9" y1="181.4" x2="29.7" y2="181.4" stroke="#333" stroke-width="0.8"/>
<text transform="translate(24.4,181.4) rotate(-90)" text-anchor="middle" font-size="6.3" fill="#1a1a1a" textLength="5.6" lengthAdjust="spacingAndGlyphs">10</text>
<line x1="26.9" y1="167" x2="29.7" y2="167" stroke="#333" stroke-width="0.8"/>
<text transform="translate(24.4,167) rotate(-90)" text-anchor="middle" font-size="6.3" fill="#1a1a1a" textLength="5.6" lengthAdjust="spacingAndGlyphs">12</text>
<line x1="53.5" y1="256.8" x2="53.5" y2="259.6" stroke="#333" stroke-width="0.8"/>
<text x="53.5" y="266.2" text-anchor="middle" font-size="6.3" fill="#1a1a1a">&#8722;5</text>
<line x1="86" y1="256.8" x2="86" y2="259.6" stroke="#333" stroke-width="0.8"/>
<text x="86" y="266.2" text-anchor="middle" font-size="6.3" fill="#1a1a1a">0</text>
<line x1="118.5" y1="256.8" x2="118.5" y2="259.6" stroke="#333" stroke-width="0.8"/>
<text x="118.5" y="266.2" text-anchor="middle" font-size="6.3" fill="#1a1a1a">5</text>
<text x="57" y="12.4" font-size="6.9" textLength="60" lengthAdjust="spacingAndGlyphs" fill="#111" stroke="#111" stroke-width="0.12">MCF7 JMJD6-KO Vs SCR</text>
<text x="48.7" y="23.3" font-size="6.3" textLength="36.6" lengthAdjust="spacingAndGlyphs" fill="#5cb85c">Down = 1,714</text>
<text x="91.9" y="23.3" font-size="6.3" textLength="28.1" lengthAdjust="spacingAndGlyphs" fill="#e0506e">Up = 1,527</text>
<text x="62.8" y="151.8" font-size="6.9" textLength="63.4" lengthAdjust="spacingAndGlyphs" fill="#111" stroke="#111" stroke-width="0.12">MB231 JMJD6-KO Vs SCR</text>
<text x="48" y="162.3" font-size="6.3" textLength="35.7" lengthAdjust="spacingAndGlyphs" fill="#5cb85c">Dogn = 1,521</text>
<text x="89.2" y="162.3" font-size="6.3" textLength="31.1" lengthAdjust="spacingAndGlyphs" fill="#e0506e">Up = 1,739'</text>
<text x="86.3" y="129" text-anchor="middle" font-size="7.3" fill="#222" stroke="#222" stroke-width="0.12">log<tspan font-size="5.1" dy="1.6">2</tspan><tspan dy="-1.6"> (fold change)</tspan></text>
<text transform="translate(14.2,60.6) rotate(-90)" text-anchor="middle" font-size="6.2" fill="#222" stroke="#222" stroke-width="0.12">-log<tspan font-size="4.3" dy="1.4">10</tspan><tspan dy="-1.4"> (FDR)</tspan></text>
<text x="88.3" y="273.5" text-anchor="middle" font-size="7.3" fill="#222" stroke="#222" stroke-width="0.12">log<tspan font-size="5.1" dy="1.6">2</tspan><tspan dy="-1.6"> (fold change)</tspan></text>
<text transform="translate(14.2,207) rotate(-90)" text-anchor="middle" font-size="6.2" fill="#222" stroke="#222" stroke-width="0.12">-log<tspan font-size="4.3" dy="1.4">10</tspan><tspan dy="-1.4"> (FDR)</tspan></text>
<rect x="308.1" y="16.1" width="27.5" height="10.6" fill="#f2e526"/>
<text x="303.9" y="23.1" text-anchor="end" font-size="6.7" font-weight="bold" fill="#111" stroke="#111" stroke-width="0.22" textLength="119.2" lengthAdjust="spacingAndGlyphs">HALLMARK_INTERFERON_GAMMA_RESPONSE</text>
<line x1="305.9" y1="21.2" x2="308.1" y2="21.2" stroke="#000" stroke-width="1.4"/>
<rect x="308.1" y="25.5" width="27.5" height="10.6" fill="#efe428"/>
<text x="303.9" y="32.5" text-anchor="end" font-size="6.7" font-weight="bold" fill="#111" stroke="#111" stroke-width="0.22" textLength="116.7" lengthAdjust="spacingAndGlyphs">HALLMARK_INTERFERON_ALPHA_RESPONSE</text>
<line x1="305.9" y1="30.6" x2="308.1" y2="30.6" stroke="#000" stroke-width="1.4"/>
<rect x="308.1" y="34.8" width="27.5" height="10.6" fill="#c4d83a"/>
<text x="303.9" y="41.8" text-anchor="end" font-size="6.7" font-weight="bold" fill="#111" stroke="#111" stroke-width="0.22" textLength="103.8" lengthAdjust="spacingAndGlyphs">HALLMARK_TNFA_SIGNALING_VIA_NFKB</text>
<line x1="305.9" y1="39.9" x2="308.1" y2="39.9" stroke="#000" stroke-width="1.4"/>
<rect x="308.1" y="44.2" width="27.5" height="10.6" fill="#7cc66a"/>
<text x="303.9" y="51.2" text-anchor="end" font-size="6.7" font-weight="bold" fill="#111" stroke="#111" stroke-width="0.22" textLength="103.2" lengthAdjust="spacingAndGlyphs">HALLMARK_INFLAMMATORY_RESPONSE</text>
<line x1="305.9" y1="49.3" x2="308.1" y2="49.3" stroke="#000" stroke-width="1.4"/>
<rect x="308.1" y="53.6" width="27.5" height="10.6" fill="#74c36f"/>
<text x="303.9" y="60.6" text-anchor="end" font-size="6.7" font-weight="bold" fill="#111" stroke="#111" stroke-width="0.22" textLength="101.3" lengthAdjust="spacingAndGlyphs">HALLMARK_IL6_JAK_STAT3_SIGNALING</text>
<line x1="305.9" y1="58.7" x2="308.1" y2="58.7" stroke="#000" stroke-width="1.4"/>
<rect x="308.1" y="63" width="27.5" height="10.6" fill="#6ec173"/>
<text x="303.9" y="69.9" text-anchor="end" font-size="6.7" font-weight="bold" fill="#111" stroke="#111" stroke-width="0.22" textLength="95.2" lengthAdjust="spacingAndGlyphs">HALLMARK_ALLOGRAFT_REJECTION</text>
<line x1="305.9" y1="68" x2="308.1" y2="68" stroke="#000" stroke-width="1.4"/>
<rect x="308.1" y="72.3" width="27.5" height="10.6" fill="#68bf77"/>
<text x="303.9" y="79.3" text-anchor="end" font-size="6.7" font-weight="bold" fill="#111" stroke="#111" stroke-width="0.22" textLength="60.7" lengthAdjust="spacingAndGlyphs">HALLMARK_APOPTOSIS</text>
<line x1="305.9" y1="77.4" x2="308.1" y2="77.4" stroke="#000" stroke-width="1.4"/>
<rect x="308.1" y="81.7" width="27.5" height="10.6" fill="#62bd7b"/>
<text x="303.9" y="88.7" text-anchor="end" font-size="6.7" font-weight="bold" fill="#111" stroke="#111" stroke-width="0.22" textLength="67.5" lengthAdjust="spacingAndGlyphs">HALLMARK_COMPLEMENT</text>
<line x1="305.9" y1="86.8" x2="308.1" y2="86.8" stroke="#000" stroke-width="1.4"/>
<rect x="308.1" y="91.1" width="27.5" height="10.6" fill="#5cbb7f"/>
<text x="303.9" y="98.1" text-anchor="end" font-size="6.7" font-weight="bold" fill="#111" stroke="#111" stroke-width="0.22" textLength="89" lengthAdjust="spacingAndGlyphs">HALLMARK_TGF_BETA_SIGNALING</text>
<line x1="305.9" y1="96.1" x2="308.1" y2="96.1" stroke="#000" stroke-width="1.4"/>
<rect x="308.1" y="100.4" width="27.5" height="10.6" fill="#57b982"/>
<text x="303.9" y="107.4" text-anchor="end" font-size="6.7" font-weight="bold" fill="#111" stroke="#111" stroke-width="0.22" textLength="139.2" lengthAdjust="spacingAndGlyphs">HALLMARK_EPITHELIAL_MESENCHYMAL_TRANSITION</text>
<line x1="305.9" y1="105.5" x2="308.1" y2="105.5" stroke="#000" stroke-width="1.4"/>
<rect x="308.1" y="109.8" width="27.5" height="10.6" fill="#53b885"/>
<text x="303.9" y="116.8" text-anchor="end" font-size="6.7" font-weight="bold" fill="#111" stroke="#111" stroke-width="0.22" textLength="87.8" lengthAdjust="spacingAndGlyphs">HALLMARK_IL2_STAT5_SIGNALING</text>
<line x1="305.9" y1="114.9" x2="308.1" y2="114.9" stroke="#000" stroke-width="1.4"/>
<rect x="308.1" y="119.2" width="27.5" height="10.6" fill="#50b787"/>
<text x="303.9" y="126.2" text-anchor="end" font-size="6.7" font-weight="bold" fill="#111" stroke="#111" stroke-width="0.22" textLength="86.8" lengthAdjust="spacingAndGlyphs">HALLMARK_KRAS_SIGNALING_UP</text>
<line x1="305.9" y1="124.3" x2="308.1" y2="124.3" stroke="#000" stroke-width="1.4"/>
<rect x="308.1" y="128.5" width="27.5" height="10.6" fill="#4db689"/>
<text x="303.9" y="135.5" text-anchor="end" font-size="6.7" font-weight="bold" fill="#111" stroke="#111" stroke-width="0.22" textLength="109.9" lengthAdjust="spacingAndGlyphs">HALLMARK_CHOLESTEROL_HOMEOSTASIS</text>
<line x1="305.9" y1="133.6" x2="308.1" y2="133.6" stroke="#000" stroke-width="1.4"/>
<rect x="308.1" y="137.9" width="27.5" height="10.6" fill="#4bb58a"/>
<text x="303.9" y="144.9" text-anchor="end" font-size="6.7" font-weight="bold" fill="#111" stroke="#111" stroke-width="0.22" textLength="79.8" lengthAdjust="spacingAndGlyphs">HALLMARK_UV_RESPONSE_DN</text>
<line x1="305.9" y1="143" x2="308.1" y2="143" stroke="#000" stroke-width="1.4"/>
<rect x="308.1" y="147.3" width="27.5" height="10.6" fill="#47509a"/>
<text x="303.9" y="154.3" text-anchor="end" font-size="6.7" font-weight="bold" fill="#111" stroke="#111" stroke-width="0.22" textLength="64.9" lengthAdjust="spacingAndGlyphs">HALLMARK_PEROXISOME</text>
<line x1="305.9" y1="152.4" x2="308.1" y2="152.4" stroke="#000" stroke-width="1.4"/>
<rect x="308.1" y="156.7" width="27.5" height="10.6" fill="#474d99"/>
<text x="303.9" y="163.7" text-anchor="end" font-size="6.7" font-weight="bold" fill="#111" stroke="#111" stroke-width="0.22" textLength="63.8" lengthAdjust="spacingAndGlyphs">HALLMARK_DNA_REPAIR</text>
<line x1="305.9" y1="161.7" x2="308.1" y2="161.7" stroke="#000" stroke-width="1.4"/>
<rect x="308.1" y="166" width="27.5" height="10.6" fill="#484a98"/>
<text x="303.9" y="173" text-anchor="end" font-size="6.7" font-weight="bold" fill="#111" stroke="#111" stroke-width="0.22" textLength="70.3" lengthAdjust="spacingAndGlyphs">HALLMARK_ADIPOGENESIS</text>
<line x1="305.9" y1="171.1" x2="308.1" y2="171.1" stroke="#000" stroke-width="1.4"/>
<rect x="308.1" y="175.4" width="27.5" height="10.6" fill="#494797"/>
<text x="303.9" y="182.4" text-anchor="end" font-size="6.7" font-weight="bold" fill="#111" stroke="#111" stroke-width="0.22" textLength="84.2" lengthAdjust="spacingAndGlyphs">HALLMARK_MTORC1_SIGNALING</text>
<line x1="305.9" y1="180.5" x2="308.1" y2="180.5" stroke="#000" stroke-width="1.4"/>
<rect x="308.1" y="184.8" width="27.5" height="10.6" fill="#4a4596"/>
<text x="303.9" y="191.8" text-anchor="end" font-size="6.7" font-weight="bold" fill="#111" stroke="#111" stroke-width="0.22" textLength="112.6" lengthAdjust="spacingAndGlyphs">HALLMARK_OXIDATIVE_PHOSPHORYLATION</text>
<line x1="305.9" y1="189.9" x2="308.1" y2="189.9" stroke="#000" stroke-width="1.4"/>
<rect x="308.1" y="194.1" width="27.5" height="10.6" fill="#4b4396"/>
<text x="303.9" y="201.1" text-anchor="end" font-size="6.7" font-weight="bold" fill="#111" stroke="#111" stroke-width="0.22" textLength="77.2" lengthAdjust="spacingAndGlyphs">HALLMARK_MITOTIC_SPINDLE</text>
<line x1="305.9" y1="199.2" x2="308.1" y2="199.2" stroke="#000" stroke-width="1.4"/>
<rect x="308.1" y="203.5" width="27.5" height="10.6" fill="#4c4095"/>
<text x="303.9" y="210.5" text-anchor="end" font-size="6.7" font-weight="bold" fill="#111" stroke="#111" stroke-width="0.22" textLength="62.6" lengthAdjust="spacingAndGlyphs">HALLMARK_GLYCOLYSIS</text>
<line x1="305.9" y1="208.6" x2="308.1" y2="208.6" stroke="#000" stroke-width="1.4"/>
<rect x="308.1" y="212.9" width="27.5" height="10.6" fill="#4d3d94"/>
<text x="303.9" y="219.9" text-anchor="end" font-size="6.7" font-weight="bold" fill="#111" stroke="#111" stroke-width="0.22" textLength="82.2" lengthAdjust="spacingAndGlyphs">HALLMARK_SPERMATOGENESIS</text>
<line x1="305.9" y1="218" x2="308.1" y2="218" stroke="#000" stroke-width="1.4"/>
<rect x="308.1" y="222.2" width="27.5" height="10.6" fill="#523590"/>
<text x="303.9" y="229.2" text-anchor="end" font-size="6.7" font-weight="bold" fill="#111" stroke="#111" stroke-width="0.22" textLength="111.1" lengthAdjust="spacingAndGlyphs">HALLMARK_ESTROGEN_RESPONSE_EARLY</text>
<line x1="305.9" y1="227.3" x2="308.1" y2="227.3" stroke="#000" stroke-width="1.4"/>
<rect x="308.1" y="231.6" width="27.5" height="10.6" fill="#55318e"/>
<text x="303.9" y="238.6" text-anchor="end" font-size="6.7" font-weight="bold" fill="#111" stroke="#111" stroke-width="0.22" textLength="79.2" lengthAdjust="spacingAndGlyphs">HALLMARK_MYC_TARGETS_V1</text>
<line x1="305.9" y1="236.7" x2="308.1" y2="236.7" stroke="#000" stroke-width="1.4"/>
<rect x="308.1" y="241" width="27.5" height="10.6" fill="#572c8b"/>
<text x="303.9" y="248" text-anchor="end" font-size="6.7" font-weight="bold" fill="#111" stroke="#111" stroke-width="0.22" textLength="79.2" lengthAdjust="spacingAndGlyphs">HALLMARK_G2M_CHECKPOINT</text>
<line x1="305.9" y1="246.1" x2="308.1" y2="246.1" stroke="#000" stroke-width="1.4"/>
<rect x="308.1" y="250.4" width="27.5" height="10.6" fill="#582a8a"/>
<text x="303.9" y="257.4" text-anchor="end" font-size="6.7" font-weight="bold" fill="#111" stroke="#111" stroke-width="0.22" textLength="107.2" lengthAdjust="spacingAndGlyphs">HALLMARK_ESTROGEN_RESPONSE_LATE</text>
<line x1="305.9" y1="255.4" x2="308.1" y2="255.4" stroke="#000" stroke-width="1.4"/>
<rect x="308.1" y="259.7" width="27.5" height="9.4" fill="#5a2282"/>
<text x="303.9" y="266.7" text-anchor="end" font-size="6.7" font-weight="bold" fill="#111" stroke="#111" stroke-width="0.22" textLength="66.8" lengthAdjust="spacingAndGlyphs">HALLMARK_E2F_TARGETS</text>
<line x1="305.9" y1="264.8" x2="308.1" y2="264.8" stroke="#000" stroke-width="1.4"/>
<rect x="308.1" y="16.1" width="27.5" height="253" fill="none" stroke="#000" stroke-width="1.7"/>
<linearGradient id="cb1" x1="0" y1="0" x2="0" y2="1"><stop offset="0" stop-color="#fde725"/><stop offset="0.1" stop-color="#bddf26"/><stop offset="0.2" stop-color="#7ad151"/><stop offset="0.3" stop-color="#44bf70"/><stop offset="0.4" stop-color="#22a884"/><stop offset="0.5" stop-color="#21918c"/><stop offset="0.6" stop-color="#2a788e"/><stop offset="0.7" stop-color="#355f8d"/><stop offset="0.8" stop-color="#414487"/><stop offset="0.9" stop-color="#472a7a"/><stop offset="1" stop-color="#461a6c"/></linearGradient>
<rect x="340.3" y="16.1" width="8.2" height="253" fill="url(#cb1)" stroke="#000" stroke-width="1.6"/>
<line x1="340.9" y1="77.5" x2="342.3" y2="77.5" stroke="#000" stroke-width="0.8"/>
<line x1="346.5" y1="77.5" x2="347.9" y2="77.5" stroke="#000" stroke-width="0.8"/>
<text x="351.5" y="80.3" font-size="7.8" fill="#111">2</text>
<line x1="340.9" y1="157.3" x2="342.3" y2="157.3" stroke="#000" stroke-width="0.8"/>
<line x1="346.5" y1="157.3" x2="347.9" y2="157.3" stroke="#000" stroke-width="0.8"/>
<text x="351.5" y="160.1" font-size="7.8" fill="#111">0</text>
<line x1="340.9" y1="237.4" x2="342.3" y2="237.4" stroke="#000" stroke-width="0.8"/>
<line x1="346.5" y1="237.4" x2="347.9" y2="237.4" stroke="#000" stroke-width="0.8"/>
<text x="351.5" y="240.2" font-size="7.8" fill="#111">&#8722;2</text>
<text x="272.3" y="11.8" font-size="8" fill="#1a1a1a" stroke="#1a1a1a" stroke-width="0.2" textLength="64.5" lengthAdjust="spacingAndGlyphs">MCF7 JMJD6 KO Vs SCR</text>
<text x="340" y="11.8" font-size="8" fill="#1a1a1a" stroke="#1a1a1a" stroke-width="0.2" textLength="10" lengthAdjust="spacingAndGlyphs">NES</text>
<rect x="468.2" y="16.1" width="27.9" height="15.2" fill="#f1e51f"/>
<text x="464.9" y="26.1" text-anchor="end" font-size="6.9" font-weight="bold" fill="#111" stroke="#111" stroke-width="0.22" textLength="71.3" lengthAdjust="spacingAndGlyphs">HALLMARK_G2M_CHECKPOINT</text>
<line x1="466" y1="23.5" x2="468.2" y2="23.5" stroke="#000" stroke-width="1.4"/>
<rect x="468.2" y="30.1" width="27.9" height="15.2" fill="#dfe02c"/>
<text x="464.9" y="40.1" text-anchor="end" font-size="6.9" font-weight="bold" fill="#111" stroke="#111" stroke-width="0.22" textLength="58.6" lengthAdjust="spacingAndGlyphs">HALLMARK_E2F_TARGETS</text>
<line x1="466" y1="37.5" x2="468.2" y2="37.5" stroke="#000" stroke-width="1.4"/>
<rect x="468.2" y="44.2" width="27.9" height="15.2" fill="#d4dc35"/>
<text x="464.9" y="54.2" text-anchor="end" font-size="6.9" font-weight="bold" fill="#111" stroke="#111" stroke-width="0.22" textLength="67.9" lengthAdjust="spacingAndGlyphs">HALLMARK_MYC_TARGETS_V1</text>
<line x1="466" y1="51.6" x2="468.2" y2="51.6" stroke="#000" stroke-width="1.4"/>
<rect x="468.2" y="58.2" width="27.9" height="15.2" fill="#cfdb3a"/>
<text x="464.9" y="68.2" text-anchor="end" font-size="6.9" font-weight="bold" fill="#111" stroke="#111" stroke-width="0.22" textLength="93.9" lengthAdjust="spacingAndGlyphs">HALLMARK_CHOLESTEROL_HOMEOSTASIS</text>
<line x1="466" y1="65.6" x2="468.2" y2="65.6" stroke="#000" stroke-width="1.4"/>
<rect x="468.2" y="72.2" width="27.9" height="15.2" fill="#cadb3e"/>
<text x="464.9" y="82.2" text-anchor="end" font-size="6.9" font-weight="bold" fill="#111" stroke="#111" stroke-width="0.22" textLength="99" lengthAdjust="spacingAndGlyphs">HALLMARK_UNFOLDED_PROTEIN_RESPONSE</text>
<line x1="466" y1="79.6" x2="468.2" y2="79.6" stroke="#000" stroke-width="1.4"/>
<rect x="468.2" y="86.2" width="27.9" height="15.2" fill="#c6d942"/>
<text x="464.9" y="96.2" text-anchor="end" font-size="6.9" font-weight="bold" fill="#111" stroke="#111" stroke-width="0.22" textLength="91.6" lengthAdjust="spacingAndGlyphs">HALLMARK_ESTROGEN_RESPONSE_LATE</text>
<line x1="466" y1="93.7" x2="468.2" y2="93.7" stroke="#000" stroke-width="1.4"/>
<rect x="468.2" y="100.3" width="27.9" height="15.2" fill="#c3d845"/>
<text x="464.9" y="110.3" text-anchor="end" font-size="6.9" font-weight="bold" fill="#111" stroke="#111" stroke-width="0.22" textLength="66.7" lengthAdjust="spacingAndGlyphs">HALLMARK_MITOTIC_SPINDLE</text>
<line x1="466" y1="107.7" x2="468.2" y2="107.7" stroke="#000" stroke-width="1.4"/>
<rect x="468.2" y="114.3" width="27.9" height="15.2" fill="#bed648"/>
<text x="464.9" y="124.3" text-anchor="end" font-size="6.9" font-weight="bold" fill="#111" stroke="#111" stroke-width="0.22" textLength="72.5" lengthAdjust="spacingAndGlyphs">HALLMARK_MTORC1_SIGNALING</text>
<line x1="466" y1="121.7" x2="468.2" y2="121.7" stroke="#000" stroke-width="1.4"/>
<rect x="468.2" y="128.3" width="27.9" height="15.2" fill="#a2cf5c"/>
<text x="464.9" y="138.3" text-anchor="end" font-size="6.9" font-weight="bold" fill="#111" stroke="#111" stroke-width="0.22" textLength="69" lengthAdjust="spacingAndGlyphs">HALLMARK_UV_RESPONSE_DN</text>
<line x1="466" y1="135.7" x2="468.2" y2="135.7" stroke="#000" stroke-width="1.4"/>
<rect x="468.2" y="142.3" width="27.9" height="15.2" fill="#5b2f8f"/>
<text x="464.9" y="152.3" text-anchor="end" font-size="6.9" font-weight="bold" fill="#111" stroke="#111" stroke-width="0.22" textLength="75.5" lengthAdjust="spacingAndGlyphs">HALLMARK_IL2_STAT5_SIGNALING</text>
<line x1="466" y1="149.8" x2="468.2" y2="149.8" stroke="#000" stroke-width="1.4"/>
<rect x="468.2" y="156.4" width="27.9" height="15.2" fill="#5b2e8f"/>
<text x="464.9" y="166.4" text-anchor="end" font-size="6.9" font-weight="bold" fill="#111" stroke="#111" stroke-width="0.22" textLength="68.5" lengthAdjust="spacingAndGlyphs">HALLMARK_UV_RESPONSE_UP</text>
<line x1="466" y1="163.8" x2="468.2" y2="163.8" stroke="#000" stroke-width="1.4"/>
<rect x="468.2" y="170.4" width="27.9" height="15.2" fill="#5a2d8e"/>
<text x="464.9" y="180.4" text-anchor="end" font-size="6.9" font-weight="bold" fill="#111" stroke="#111" stroke-width="0.22" textLength="81.7" lengthAdjust="spacingAndGlyphs">HALLMARK_ALLOGRAFT_REJECTION</text>
<line x1="466" y1="177.8" x2="468.2" y2="177.8" stroke="#000" stroke-width="1.4"/>
<rect x="468.2" y="184.4" width="27.9" height="15.2" fill="#5a2d8e"/>
<text x="464.9" y="194.4" text-anchor="end" font-size="6.9" font-weight="bold" fill="#111" stroke="#111" stroke-width="0.22" textLength="95.8" lengthAdjust="spacingAndGlyphs">HALLMARK_OXIDATIVE_PHOSPHORYLATION</text>
<line x1="466" y1="191.8" x2="468.2" y2="191.8" stroke="#000" stroke-width="1.4"/>
<rect x="468.2" y="198.5" width="27.9" height="15.2" fill="#5a2c8e"/>
<text x="464.9" y="208.5" text-anchor="end" font-size="6.9" font-weight="bold" fill="#111" stroke="#111" stroke-width="0.22" textLength="47.8" lengthAdjust="spacingAndGlyphs">HALLMARK_HYPOXIA</text>
<line x1="466" y1="205.9" x2="468.2" y2="205.9" stroke="#000" stroke-width="1.4"/>
<rect x="468.2" y="212.5" width="27.9" height="15.2" fill="#592b8d"/>
<text x="464.9" y="222.5" text-anchor="end" font-size="6.9" font-weight="bold" fill="#111" stroke="#111" stroke-width="0.22" textLength="58.9" lengthAdjust="spacingAndGlyphs">HALLMARK_COMPLEMENT</text>
<line x1="466" y1="219.9" x2="468.2" y2="219.9" stroke="#000" stroke-width="1.4"/>
<rect x="468.2" y="226.5" width="27.9" height="15.2" fill="#592b8d"/>
<text x="464.9" y="236.5" text-anchor="end" font-size="6.9" font-weight="bold" fill="#111" stroke="#111" stroke-width="0.22" textLength="61.6" lengthAdjust="spacingAndGlyphs">HALLMARK_ANGIOGENESIS</text>
<line x1="466" y1="233.9" x2="468.2" y2="233.9" stroke="#000" stroke-width="1.4"/>
<rect x="468.2" y="240.5" width="27.9" height="15.2" fill="#582a8c"/>
<text x="464.9" y="250.5" text-anchor="end" font-size="6.9" font-weight="bold" fill="#111" stroke="#111" stroke-width="0.22" textLength="75" lengthAdjust="spacingAndGlyphs">HALLMARK_KRAS_SIGNALING_UP</text>
<line x1="466" y1="248" x2="468.2" y2="248" stroke="#000" stroke-width="1.4"/>
<rect x="468.2" y="254.6" width="27.9" height="14" fill="#54267f"/>
<text x="464.9" y="264.6" text-anchor="end" font-size="6.9" font-weight="bold" fill="#111" stroke="#111" stroke-width="0.22" textLength="89.3" lengthAdjust="spacingAndGlyphs">HALLMARK_TNFA_SIGNALING_VIA_NFKB</text>
<line x1="466" y1="262" x2="468.2" y2="262" stroke="#000" stroke-width="1.4"/>
<rect x="468.2" y="16.1" width="27.9" height="252.5" fill="none" stroke="#000" stroke-width="1.7"/>
<linearGradient id="cb2" x1="0" y1="0" x2="0" y2="1"><stop offset="0" stop-color="#fde725"/><stop offset="0.1" stop-color="#bddf26"/><stop offset="0.2" stop-color="#7ad151"/><stop offset="0.3" stop-color="#44bf70"/><stop offset="0.4" stop-color="#22a884"/><stop offset="0.5" stop-color="#21918c"/><stop offset="0.6" stop-color="#2a788e"/><stop offset="0.7" stop-color="#355f8d"/><stop offset="0.8" stop-color="#414487"/><stop offset="0.9" stop-color="#472a7a"/><stop offset="1" stop-color="#461a6c"/></linearGradient>
<rect x="501.3" y="16.1" width="7.9" height="252.5" fill="url(#cb2)" stroke="#000" stroke-width="1.6"/>
<line x1="501.9" y1="38.5" x2="503.3" y2="38.5" stroke="#000" stroke-width="0.8"/>
<line x1="507.2" y1="38.5" x2="508.6" y2="38.5" stroke="#000" stroke-width="0.8"/>
<text x="512.2" y="41.3" font-size="7.8" fill="#111">2</text>
<line x1="501.9" y1="97.7" x2="503.3" y2="97.7" stroke="#000" stroke-width="0.8"/>
<line x1="507.2" y1="97.7" x2="508.6" y2="97.7" stroke="#000" stroke-width="0.8"/>
<text x="512.2" y="100.5" font-size="7.8" fill="#111">1</text>
<line x1="501.9" y1="156.3" x2="503.3" y2="156.3" stroke="#000" stroke-width="0.8"/>
<line x1="507.2" y1="156.3" x2="508.6" y2="156.3" stroke="#000" stroke-width="0.8"/>
<text x="512.2" y="159.1" font-size="7.8" fill="#111">0</text>
<line x1="501.9" y1="215.1" x2="503.3" y2="215.1" stroke="#000" stroke-width="0.8"/>
<line x1="507.2" y1="215.1" x2="508.6" y2="215.1" stroke="#000" stroke-width="0.8"/>
<text x="512.2" y="217.9" font-size="7.8" fill="#111">&#8722;1</text>
<text x="426" y="11.8" font-size="8" fill="#1a1a1a" stroke="#1a1a1a" stroke-width="0.2" textLength="70.7" lengthAdjust="spacingAndGlyphs">MB231 JMJD6 KO Vs SCR</text>
<text x="501" y="12.8" font-size="8" fill="#1a1a1a" stroke="#1a1a1a" stroke-width="0.2" textLength="10.5" lengthAdjust="spacingAndGlyphs">NES</text>
<filter id="fbc" x="-20%" y="-5%" width="140%" height="110%"><feGaussianBlur stdDeviation="0.35,0.01"/></filter>
<rect x="21.3" y="287.2" width="135.8" height="115.8" fill="#f5f5f5"/>
<rect x="36.2" y="299.2" width="114.4" height="87.4" fill="#fff" stroke="#c8c8c8" stroke-width="0.5"/>
<line x1="47.6" y1="299.2" x2="47.6" y2="341.2" stroke="#e6e6e6" stroke-width="0.4"/>
<line x1="59.1" y1="299.2" x2="59.1" y2="341.2" stroke="#e6e6e6" stroke-width="0.4"/>
<line x1="70.5" y1="299.2" x2="70.5" y2="341.2" stroke="#e6e6e6" stroke-width="0.4"/>
<line x1="82" y1="299.2" x2="82" y2="341.2" stroke="#e6e6e6" stroke-width="0.4"/>
<line x1="93.4" y1="299.2" x2="93.4" y2="341.2" stroke="#e6e6e6" stroke-width="0.4"/>
<line x1="104.8" y1="299.2" x2="104.8" y2="341.2" stroke="#e6e6e6" stroke-width="0.4"/>
<line x1="116.3" y1="299.2" x2="116.3" y2="341.2" stroke="#e6e6e6" stroke-width="0.4"/>
<line x1="127.7" y1="299.2" x2="127.7" y2="341.2" stroke="#e6e6e6" stroke-width="0.4"/>
<line x1="139.2" y1="299.2" x2="139.2" y2="341.2" stroke="#e6e6e6" stroke-width="0.4"/>
<line x1="36.2" y1="303.9" x2="150.6" y2="303.9" stroke="#ececec" stroke-width="0.4"/>
<line x1="36.2" y1="308.5" x2="150.6" y2="308.5" stroke="#ececec" stroke-width="0.4"/>
<line x1="36.2" y1="313.2" x2="150.6" y2="313.2" stroke="#ececec" stroke-width="0.4"/>
<line x1="36.2" y1="317.9" x2="150.6" y2="317.9" stroke="#ececec" stroke-width="0.4"/>
<line x1="36.2" y1="322.5" x2="150.6" y2="322.5" stroke="#ececec" stroke-width="0.4"/>
<line x1="36.2" y1="327.2" x2="150.6" y2="327.2" stroke="#ececec" stroke-width="0.4"/>
<line x1="36.2" y1="331.9" x2="150.6" y2="331.9" stroke="#ececec" stroke-width="0.4"/>
<line x1="36.2" y1="336.5" x2="150.6" y2="336.5" stroke="#ececec" stroke-width="0.4"/>
<polyline points="36.2,341.2 37.1,316 38.3,304.2 40,300.7 43.1,300.9 49.9,302.6 70.5,310.1 104.8,323.1 133.4,334.1 150.6,340.4" fill="none" stroke="#5cb82e" stroke-width="0.9"/>
<g filter="url(#fbc)">
<rect x="36.2" y="341.5" width="1.5" height="13.3" fill="#000"/>
<rect x="38.5" y="341.5" width="1.5" height="13.3" fill="#111"/>
<rect x="41" y="341.5" width="1" height="13.3" fill="#555"/>
<rect x="43" y="341.5" width="1" height="13.3" fill="#888"/>
<rect x="45.2" y="341.5" width="1.2" height="13.3" fill="#222"/>
<rect x="69.3" y="341.5" width="1" height="13.3" fill="#999"/>
<rect x="74" y="341.5" width="1.2" height="13.3" fill="#333"/>
<rect x="96.4" y="341.5" width="0.9" height="13.3" fill="#bbb"/>
<rect x="120.9" y="341.5" width="1" height="13.3" fill="#999"/>
</g>
<linearGradient id="g1" x1="0" y1="0" x2="1" y2="0"><stop offset="0.000" stop-color="#e2203e"/><stop offset="0.221" stop-color="#e2203e"/><stop offset="0.221" stop-color="#e63a52"/><stop offset="0.260" stop-color="#e63a52"/><stop offset="0.260" stop-color="#f2a6b6"/><stop offset="0.360" stop-color="#f2a6b6"/><stop offset="0.360" stop-color="#f0eaf4"/><stop offset="0.460" stop-color="#f0eaf4"/><stop offset="0.460" stop-color="#d4cce6"/><stop offset="0.650" stop-color="#d4cce6"/><stop offset="0.650" stop-color="#7a6cb8"/><stop offset="0.780" stop-color="#7a6cb8"/><stop offset="0.780" stop-color="#3e3496"/><stop offset="1.000" stop-color="#3e3496"/></linearGradient>
<rect x="36.2" y="354.8" width="114.4" height="3.8" fill="url(#g1)"/>
<text x="37.7" y="360.8" font-size="2.2" fill="#e0303a">'na_pos' (positively correlated)</text>
<line x1="36.2" y1="376.2" x2="150.6" y2="376.2" stroke="#999" stroke-width="0.6"/>
<path d="M36.2,376.2 L36.2,370.7 Q38.2,375 46.2,375.6 L147.6,376 L147.6,376.4 Q150.1,377.2 150.6,382.2 L150.6,376.2 Z" fill="#bdbdbd"/>
<text x="72.8" y="373.2" font-size="2.4" fill="#444">Zero cross at 7279</text>
<text x="104.8" y="383.7" font-size="2.2" fill="#4040c0">'na_neg' (negatively correlated)</text>
<text x="36.2" y="389.8" text-anchor="middle" font-size="2.7" fill="#333">0</text>
<text x="48.8" y="389.8" text-anchor="middle" font-size="2.7" fill="#333">2,000</text>
<text x="61.3" y="389.8" text-anchor="middle" font-size="2.7" fill="#333">4,000</text>
<text x="73.9" y="389.8" text-anchor="middle" font-size="2.7" fill="#333">6,000</text>
<text x="86.5" y="389.8" text-anchor="middle" font-size="2.7" fill="#333">8,000</text>
<text x="99.1" y="389.8" text-anchor="middle" font-size="2.7" fill="#333">10,000</text>
<text x="111.6" y="389.8" text-anchor="middle" font-size="2.7" fill="#333">12,000</text>
<text x="124.2" y="389.8" text-anchor="middle" font-size="2.7" fill="#333">14,000</text>
<text x="136.8" y="389.8" text-anchor="middle" font-size="2.7" fill="#333">16,000</text>
<text x="149.3" y="389.8" text-anchor="middle" font-size="2.7" fill="#333">18,000</text>
<text x="35.2" y="342.2" text-anchor="end" font-size="2.9" fill="#333">0.0</text>
<text x="35.2" y="337.7" text-anchor="end" font-size="2.9" fill="#333">0.1</text>
<text x="35.2" y="333.3" text-anchor="end" font-size="2.9" fill="#333">0.2</text>
<text x="35.2" y="328.8" text-anchor="end" font-size="2.9" fill="#333">0.3</text>
<text x="35.2" y="324.3" text-anchor="end" font-size="2.9" fill="#333">0.4</text>
<text x="35.2" y="319.9" text-anchor="end" font-size="2.9" fill="#333">0.5</text>
<text x="35.2" y="315.4" text-anchor="end" font-size="2.9" fill="#333">0.6</text>
<text x="35.2" y="310.9" text-anchor="end" font-size="2.9" fill="#333">0.7</text>
<text x="35.2" y="306.5" text-anchor="end" font-size="2.9" fill="#333">0.8</text>
<text x="35.2" y="302" text-anchor="end" font-size="2.9" fill="#333">0.9</text>
<text transform="translate(29.7,320.2) rotate(-90)" text-anchor="middle" font-size="3.1" fill="#333">Enrichment score (ES)</text>
<text transform="translate(29.7,373.6) rotate(-90)" text-anchor="middle" font-size="3.1" fill="#333">Ranked list metric (PreRanked)</text>
<text x="93.4" y="393.2" text-anchor="middle" font-size="4.4" font-weight="bold" fill="#222" textLength="38" lengthAdjust="spacingAndGlyphs">Rank in ordered dataset</text>
<rect x="43" y="395.8" width="92.8" height="5.3" fill="#fff" stroke="#999" stroke-width="0.5"/>
<line x1="45" y1="399.1" x2="49" y2="399.1" stroke="#5cb82e" stroke-width="0.6"/>
<text x="50" y="400" font-size="2.5" fill="#444">Enrichment profile</text>
<line x1="76" y1="399.1" x2="80" y2="399.1" stroke="#888" stroke-width="0.6"/>
<text x="81" y="400" font-size="2.5" fill="#444">Hits</text>
<text x="101" y="400" font-size="2.5" fill="#444">Ranking metric scores</text>
<text x="90.4" y="291.3" text-anchor="middle" font-size="4.6" font-weight="bold" fill="#222" textLength="39" lengthAdjust="spacingAndGlyphs">Enrichment plot:</text>
<text x="34.6" y="297.2" font-size="5.1" font-weight="bold" fill="#111" textLength="111.6" lengthAdjust="spacingAndGlyphs">HALLMARK_INTERFERON_ALPHA_RESPONSE</text>
<rect x="159.6" y="287.2" width="138.6" height="115.8" fill="#f5f5f5"/>
<rect x="175.7" y="299.2" width="115.3" height="87.4" fill="#fff" stroke="#c8c8c8" stroke-width="0.5"/>
<line x1="187.2" y1="299.2" x2="187.2" y2="341.2" stroke="#e6e6e6" stroke-width="0.4"/>
<line x1="198.8" y1="299.2" x2="198.8" y2="341.2" stroke="#e6e6e6" stroke-width="0.4"/>
<line x1="210.3" y1="299.2" x2="210.3" y2="341.2" stroke="#e6e6e6" stroke-width="0.4"/>
<line x1="221.8" y1="299.2" x2="221.8" y2="341.2" stroke="#e6e6e6" stroke-width="0.4"/>
<line x1="233.3" y1="299.2" x2="233.3" y2="341.2" stroke="#e6e6e6" stroke-width="0.4"/>
<line x1="244.9" y1="299.2" x2="244.9" y2="341.2" stroke="#e6e6e6" stroke-width="0.4"/>
<line x1="256.4" y1="299.2" x2="256.4" y2="341.2" stroke="#e6e6e6" stroke-width="0.4"/>
<line x1="267.9" y1="299.2" x2="267.9" y2="341.2" stroke="#e6e6e6" stroke-width="0.4"/>
<line x1="279.5" y1="299.2" x2="279.5" y2="341.2" stroke="#e6e6e6" stroke-width="0.4"/>
<line x1="175.7" y1="303.9" x2="291" y2="303.9" stroke="#ececec" stroke-width="0.4"/>
<line x1="175.7" y1="308.5" x2="291" y2="308.5" stroke="#ececec" stroke-width="0.4"/>
<line x1="175.7" y1="313.2" x2="291" y2="313.2" stroke="#ececec" stroke-width="0.4"/>
<line x1="175.7" y1="317.9" x2="291" y2="317.9" stroke="#ececec" stroke-width="0.4"/>
<line x1="175.7" y1="322.5" x2="291" y2="322.5" stroke="#ececec" stroke-width="0.4"/>
<line x1="175.7" y1="327.2" x2="291" y2="327.2" stroke="#ececec" stroke-width="0.4"/>
<line x1="175.7" y1="331.9" x2="291" y2="331.9" stroke="#ececec" stroke-width="0.4"/>
<line x1="175.7" y1="336.5" x2="291" y2="336.5" stroke="#ececec" stroke-width="0.4"/>
<polyline points="175.7,341.2 176.9,316 178.6,304.2 181.5,300.9 186.1,300.7 193,302.6 216.1,311.8 250.6,324.4 279.5,335.3 291,339.1" fill="none" stroke="#5cb82e" stroke-width="0.9"/>
<g filter="url(#fbc)">
<rect x="176.3" y="341.5" width="2.9" height="13.3" fill="#111"/>
<rect x="180.3" y="341.5" width="1.8" height="13.3" fill="#333"/>
<rect x="182.7" y="341.5" width="2.3" height="13.3" fill="#666"/>
<rect x="185.5" y="341.5" width="1.8" height="13.3" fill="#111"/>
<rect x="189.6" y="341.5" width="2.9" height="13.3" fill="#888"/>
<rect x="195.9" y="341.5" width="1.2" height="13.3" fill="#999"/>
<rect x="198.2" y="341.5" width="1.8" height="13.3" fill="#222"/>
<rect x="201.1" y="341.5" width="1.7" height="13.3" fill="#555"/>
<rect x="204.6" y="341.5" width="1.7" height="13.3" fill="#888"/>
<rect x="208.6" y="341.5" width="1.2" height="13.3" fill="#bbb"/>
<rect x="210.9" y="341.5" width="1.2" height="13.3" fill="#888"/>
<rect x="213.2" y="341.5" width="1.2" height="13.3" fill="#333"/>
<rect x="216.7" y="341.5" width="2.9" height="13.3" fill="#555"/>
<rect x="221.3" y="341.5" width="1.1" height="13.3" fill="#888"/>
<rect x="224.7" y="341.5" width="1.2" height="13.3" fill="#999"/>
<rect x="227.3" y="341.5" width="0.7" height="13.3" fill="#ccc"/>
<rect x="231.1" y="341.5" width="1.1" height="13.3" fill="#999"/>
<rect x="232.2" y="341.5" width="1.5" height="13.3" fill="#999"/>
<rect x="234.9" y="341.5" width="1.1" height="13.3" fill="#444"/>
<rect x="239.5" y="341.5" width="1.7" height="13.3" fill="#222"/>
<rect x="241.8" y="341.5" width="1.7" height="13.3" fill="#666"/>
<rect x="245.3" y="341.5" width="1.1" height="13.3" fill="#999"/>
<rect x="248.1" y="341.5" width="1.2" height="13.3" fill="#222"/>
<rect x="251" y="341.5" width="1.8" height="13.3" fill="#bbb"/>
<rect x="258" y="341.5" width="1.1" height="13.3" fill="#999"/>
<rect x="262" y="341.5" width="1.1" height="13.3" fill="#333"/>
<rect x="265" y="341.5" width="0.8" height="13.3" fill="#bbb"/>
<rect x="267.8" y="341.5" width="1.1" height="13.3" fill="#888"/>
<rect x="269.6" y="341.5" width="0.8" height="13.3" fill="#ccc"/>
<rect x="275.3" y="341.5" width="1.7" height="13.3" fill="#444"/>
<rect x="279.3" y="341.5" width="1.1" height="13.3" fill="#333"/>
<rect x="285" y="341.5" width="1.2" height="13.3" fill="#999"/>
<rect x="289" y="341.5" width="1.2" height="13.3" fill="#bbb"/>
</g>
<linearGradient id="g2" x1="0" y1="0" x2="1" y2="0"><stop offset="0.000" stop-color="#e2203e"/><stop offset="0.246" stop-color="#e2203e"/><stop offset="0.246" stop-color="#e63a52"/><stop offset="0.290" stop-color="#e63a52"/><stop offset="0.290" stop-color="#f2a6b6"/><stop offset="0.390" stop-color="#f2a6b6"/><stop offset="0.390" stop-color="#f0eaf4"/><stop offset="0.490" stop-color="#f0eaf4"/><stop offset="0.490" stop-color="#d4cce6"/><stop offset="0.650" stop-color="#d4cce6"/><stop offset="0.650" stop-color="#7a6cb8"/><stop offset="0.780" stop-color="#7a6cb8"/><stop offset="0.780" stop-color="#3e3496"/><stop offset="1.000" stop-color="#3e3496"/></linearGradient>
<rect x="175.7" y="354.8" width="115.3" height="3.8" fill="url(#g2)"/>
<text x="177.2" y="360.8" font-size="2.2" fill="#e0303a">'na_pos' (positively correlated)</text>
<line x1="175.7" y1="376.2" x2="291" y2="376.2" stroke="#999" stroke-width="0.6"/>
<path d="M175.7,376.2 L175.7,370.7 Q177.7,375 185.7,375.6 L288,376 L288,376.4 Q290.5,377.2 291,382.2 L291,376.2 Z" fill="#bdbdbd"/>
<text x="212.6" y="373.2" font-size="2.4" fill="#444">Zero cross at 7279</text>
<text x="244.9" y="383.7" font-size="2.2" fill="#4040c0">'na_neg' (negatively correlated)</text>
<text x="175.7" y="389.8" text-anchor="middle" font-size="2.7" fill="#333">0</text>
<text x="188.4" y="389.8" text-anchor="middle" font-size="2.7" fill="#333">2,000</text>
<text x="201" y="389.8" text-anchor="middle" font-size="2.7" fill="#333">4,000</text>
<text x="213.7" y="389.8" text-anchor="middle" font-size="2.7" fill="#333">6,000</text>
<text x="226.4" y="389.8" text-anchor="middle" font-size="2.7" fill="#333">8,000</text>
<text x="239.1" y="389.8" text-anchor="middle" font-size="2.7" fill="#333">10,000</text>
<text x="251.7" y="389.8" text-anchor="middle" font-size="2.7" fill="#333">12,000</text>
<text x="264.4" y="389.8" text-anchor="middle" font-size="2.7" fill="#333">14,000</text>
<text x="277.1" y="389.8" text-anchor="middle" font-size="2.7" fill="#333">16,000</text>
<text x="289.7" y="389.8" text-anchor="middle" font-size="2.7" fill="#333">18,000</text>
<text x="174.7" y="342.2" text-anchor="end" font-size="2.9" fill="#333">0.0</text>
<text x="174.7" y="337.7" text-anchor="end" font-size="2.9" fill="#333">0.1</text>
<text x="174.7" y="333.3" text-anchor="end" font-size="2.9" fill="#333">0.2</text>
<text x="174.7" y="328.8" text-anchor="end" font-size="2.9" fill="#333">0.3</text>
<text x="174.7" y="324.3" text-anchor="end" font-size="2.9" fill="#333">0.4</text>
<text x="174.7" y="319.9" text-anchor="end" font-size="2.9" fill="#333">0.5</text>
<text x="174.7" y="315.4" text-anchor="end" font-size="2.9" fill="#333">0.6</text>
<text x="174.7" y="310.9" text-anchor="end" font-size="2.9" fill="#333">0.7</text>
<text x="174.7" y="306.5" text-anchor="end" font-size="2.9" fill="#333">0.8</text>
<text x="174.7" y="302" text-anchor="end" font-size="2.9" fill="#333">0.9</text>
<text transform="translate(169.2,320.2) rotate(-90)" text-anchor="middle" font-size="3.1" fill="#333">Enrichment score (ES)</text>
<text transform="translate(169.2,373.6) rotate(-90)" text-anchor="middle" font-size="3.1" fill="#333">Ranked list metric (PreRanked)</text>
<text x="233.3" y="393.2" text-anchor="middle" font-size="4.4" font-weight="bold" fill="#222" textLength="38" lengthAdjust="spacingAndGlyphs">Rank in ordered dataset</text>
<rect x="182.9" y="395.8" width="92.8" height="5.3" fill="#fff" stroke="#999" stroke-width="0.5"/>
<line x1="184.9" y1="399.1" x2="188.9" y2="399.1" stroke="#5cb82e" stroke-width="0.6"/>
<text x="189.9" y="400" font-size="2.5" fill="#444">Enrichment profile</text>
<line x1="215.9" y1="399.1" x2="219.9" y2="399.1" stroke="#888" stroke-width="0.6"/>
<text x="220.9" y="400" font-size="2.5" fill="#444">Hits</text>
<text x="240.9" y="400" font-size="2.5" fill="#444">Ranking metric scores</text>
<text x="229.1" y="291.3" text-anchor="middle" font-size="4.6" font-weight="bold" fill="#222" textLength="39" lengthAdjust="spacingAndGlyphs">Enrichment plot:</text>
<text x="171.1" y="297.2" font-size="5.1" font-weight="bold" fill="#111" textLength="116.1" lengthAdjust="spacingAndGlyphs">HALLMARK_INTERFERON_GAMMA_RESPONSE</text>
<rect x="300.8" y="286.9" width="137" height="115.7" fill="#f5f5f5"/>
<rect x="316.7" y="299.2" width="114.4" height="87.4" fill="#fff" stroke="#c8c8c8" stroke-width="0.5"/>
<line x1="328.1" y1="299.2" x2="328.1" y2="341.2" stroke="#e6e6e6" stroke-width="0.4"/>
<line x1="339.6" y1="299.2" x2="339.6" y2="341.2" stroke="#e6e6e6" stroke-width="0.4"/>
<line x1="351" y1="299.2" x2="351" y2="341.2" stroke="#e6e6e6" stroke-width="0.4"/>
<line x1="362.5" y1="299.2" x2="362.5" y2="341.2" stroke="#e6e6e6" stroke-width="0.4"/>
<line x1="373.9" y1="299.2" x2="373.9" y2="341.2" stroke="#e6e6e6" stroke-width="0.4"/>
<line x1="385.3" y1="299.2" x2="385.3" y2="341.2" stroke="#e6e6e6" stroke-width="0.4"/>
<line x1="396.8" y1="299.2" x2="396.8" y2="341.2" stroke="#e6e6e6" stroke-width="0.4"/>
<line x1="408.2" y1="299.2" x2="408.2" y2="341.2" stroke="#e6e6e6" stroke-width="0.4"/>
<line x1="419.7" y1="299.2" x2="419.7" y2="341.2" stroke="#e6e6e6" stroke-width="0.4"/>
<line x1="316.7" y1="303.9" x2="431.1" y2="303.9" stroke="#ececec" stroke-width="0.4"/>
<line x1="316.7" y1="308.5" x2="431.1" y2="308.5" stroke="#ececec" stroke-width="0.4"/>
<line x1="316.7" y1="313.2" x2="431.1" y2="313.2" stroke="#ececec" stroke-width="0.4"/>
<line x1="316.7" y1="317.9" x2="431.1" y2="317.9" stroke="#ececec" stroke-width="0.4"/>
<line x1="316.7" y1="322.5" x2="431.1" y2="322.5" stroke="#ececec" stroke-width="0.4"/>
<line x1="316.7" y1="327.2" x2="431.1" y2="327.2" stroke="#ececec" stroke-width="0.4"/>
<line x1="316.7" y1="331.9" x2="431.1" y2="331.9" stroke="#ececec" stroke-width="0.4"/>
<line x1="316.7" y1="336.5" x2="431.1" y2="336.5" stroke="#ececec" stroke-width="0.4"/>
<polyline points="316.7,337.4 318.1,324.4 320.1,311.8 322.2,306.3 324.3,303.8 326.4,302.1 328.4,301.3 331.6,301.3 339.6,302.6 354.5,306.3 380.8,316 408.2,328.2 421.9,335.3 426.5,338.3 431.1,338.3" fill="none" stroke="#5cb82e" stroke-width="0.9"/>
<g filter="url(#fbc)">
<rect x="316.7" y="341.5" width="1.8" height="13.3" fill="#111"/>
<rect x="318.5" y="341.5" width="2.5" height="13.3" fill="#444"/>
<rect x="321" y="341.5" width="3" height="13.3" fill="#333"/>
<rect x="324" y="341.5" width="3" height="13.3" fill="#555"/>
<rect x="327" y="341.5" width="3" height="13.3" fill="#888"/>
<rect x="331.7" y="341.5" width="1.2" height="13.3" fill="#999"/>
<rect x="334" y="341.5" width="1.8" height="13.3" fill="#222"/>
<rect x="338" y="341.5" width="1.2" height="13.3" fill="#666"/>
<rect x="342.1" y="341.5" width="1.2" height="13.3" fill="#999"/>
<rect x="345.6" y="341.5" width="2.3" height="13.3" fill="#555"/>
<rect x="349.6" y="341.5" width="1.2" height="13.3" fill="#888"/>
<rect x="351.9" y="341.5" width="1.1" height="13.3" fill="#777"/>
<rect x="354.2" y="341.5" width="2.3" height="13.3" fill="#999"/>
<rect x="358.5" y="341.5" width="0.7" height="13.3" fill="#ccc"/>
<rect x="361.7" y="341.5" width="2.3" height="13.3" fill="#111"/>
<rect x="365.7" y="341.5" width="2.9" height="13.3" fill="#333"/>
<rect x="370.4" y="341.5" width="1.7" height="13.3" fill="#333"/>
<rect x="373.2" y="341.5" width="1.2" height="13.3" fill="#888"/>
<rect x="374.4" y="341.5" width="1.5" height="13.3" fill="#999"/>
<rect x="377" y="341.5" width="1.2" height="13.3" fill="#444"/>
<rect x="379.9" y="341.5" width="3.5" height="13.3" fill="#999"/>
<rect x="386.8" y="341.5" width="2.9" height="13.3" fill="#333"/>
<rect x="392.6" y="341.5" width="3.4" height="13.3" fill="#666"/>
<rect x="399" y="341.5" width="2.8" height="13.3" fill="#222"/>
<rect x="403" y="341.5" width="1.7" height="13.3" fill="#999"/>
<rect x="407.6" y="341.5" width="3.4" height="13.3" fill="#999"/>
<rect x="415" y="341.5" width="1.3" height="13.3" fill="#ccc"/>
<rect x="419.1" y="341.5" width="2.3" height="13.3" fill="#999"/>
<rect x="422.6" y="341.5" width="1.7" height="13.3" fill="#333"/>
<rect x="426.6" y="341.5" width="1.2" height="13.3" fill="#999"/>
<rect x="429.5" y="341.5" width="1.2" height="13.3" fill="#333"/>
</g>
<linearGradient id="g3" x1="0" y1="0" x2="1" y2="0"><stop offset="0.000" stop-color="#e2203e"/><stop offset="0.246" stop-color="#e2203e"/><stop offset="0.246" stop-color="#e63a52"/><stop offset="0.290" stop-color="#e63a52"/><stop offset="0.290" stop-color="#f2a6b6"/><stop offset="0.390" stop-color="#f2a6b6"/><stop offset="0.390" stop-color="#f0eaf4"/><stop offset="0.490" stop-color="#f0eaf4"/><stop offset="0.490" stop-color="#d4cce6"/><stop offset="0.645" stop-color="#d4cce6"/><stop offset="0.645" stop-color="#7a6cb8"/><stop offset="0.775" stop-color="#7a6cb8"/><stop offset="0.775" stop-color="#3e3496"/><stop offset="1.000" stop-color="#3e3496"/></linearGradient>
<rect x="316.7" y="354.8" width="114.4" height="3.8" fill="url(#g3)"/>
<text x="318.2" y="360.8" font-size="2.2" fill="#e0303a">'na_pos' (positively correlated)</text>
<line x1="316.7" y1="376.2" x2="431.1" y2="376.2" stroke="#999" stroke-width="0.6"/>
<path d="M316.7,376.2 L316.7,370.7 Q318.7,375 326.7,375.6 L428.1,376 L428.1,376.4 Q430.6,377.2 431.1,382.2 L431.1,376.2 Z" fill="#bdbdbd"/>
<text x="353.3" y="373.2" font-size="2.4" fill="#444">Zero cross at 7279</text>
<text x="385.3" y="383.7" font-size="2.2" fill="#4040c0">'na_neg' (negatively correlated)</text>
<text x="316.7" y="389.8" text-anchor="middle" font-size="2.7" fill="#333">0</text>
<text x="329.3" y="389.8" text-anchor="middle" font-size="2.7" fill="#333">2,000</text>
<text x="341.8" y="389.8" text-anchor="middle" font-size="2.7" fill="#333">4,000</text>
<text x="354.4" y="389.8" text-anchor="middle" font-size="2.7" fill="#333">6,000</text>
<text x="367" y="389.8" text-anchor="middle" font-size="2.7" fill="#333">8,000</text>
<text x="379.6" y="389.8" text-anchor="middle" font-size="2.7" fill="#333">10,000</text>
<text x="392.1" y="389.8" text-anchor="middle" font-size="2.7" fill="#333">12,000</text>
<text x="404.7" y="389.8" text-anchor="middle" font-size="2.7" fill="#333">14,000</text>
<text x="417.3" y="389.8" text-anchor="middle" font-size="2.7" fill="#333">16,000</text>
<text x="429.8" y="389.8" text-anchor="middle" font-size="2.7" fill="#333">18,000</text>
<text x="315.7" y="342.2" text-anchor="end" font-size="2.9" fill="#333">0.0</text>
<text x="315.7" y="337.7" text-anchor="end" font-size="2.9" fill="#333">0.1</text>
<text x="315.7" y="333.3" text-anchor="end" font-size="2.9" fill="#333">0.2</text>
<text x="315.7" y="328.8" text-anchor="end" font-size="2.9" fill="#333">0.3</text>
<text x="315.7" y="324.3" text-anchor="end" font-size="2.9" fill="#333">0.4</text>
<text x="315.7" y="319.9" text-anchor="end" font-size="2.9" fill="#333">0.5</text>
<text x="315.7" y="315.4" text-anchor="end" font-size="2.9" fill="#333">0.6</text>
<text x="315.7" y="310.9" text-anchor="end" font-size="2.9" fill="#333">0.7</text>
<text x="315.7" y="306.5" text-anchor="end" font-size="2.9" fill="#333">0.8</text>
<text x="315.7" y="302" text-anchor="end" font-size="2.9" fill="#333">0.9</text>
<text transform="translate(310.2,320.2) rotate(-90)" text-anchor="middle" font-size="3.1" fill="#333">Enrichment score (ES)</text>
<text transform="translate(310.2,373.6) rotate(-90)" text-anchor="middle" font-size="3.1" fill="#333">Ranked list metric (PreRanked)</text>
<text x="373.9" y="393.2" text-anchor="middle" font-size="4.4" font-weight="bold" fill="#222" textLength="38" lengthAdjust="spacingAndGlyphs">Rank in ordered dataset</text>
<rect x="323.5" y="395.8" width="92.8" height="5.3" fill="#fff" stroke="#999" stroke-width="0.5"/>
<line x1="325.5" y1="399.1" x2="329.5" y2="399.1" stroke="#5cb82e" stroke-width="0.6"/>
<text x="330.5" y="400" font-size="2.5" fill="#444">Enrichment profile</text>
<line x1="356.5" y1="399.1" x2="360.5" y2="399.1" stroke="#888" stroke-width="0.6"/>
<text x="361.5" y="400" font-size="2.5" fill="#444">Hits</text>
<text x="381.5" y="400" font-size="2.5" fill="#444">Ranking metric scores</text>
<text x="370" y="291.3" text-anchor="middle" font-size="4.6" font-weight="bold" fill="#222" textLength="39" lengthAdjust="spacingAndGlyphs">Enrichment plot:</text>
<text x="320.2" y="297.2" font-size="5.1" font-weight="bold" fill="#111" textLength="99.6" lengthAdjust="spacingAndGlyphs">HALLMARK_TNFA_SIGNALING_VIA_NFKB</text>
<rect x="28.2" y="424.5" width="125.8" height="87.5" fill="none" stroke="#444" stroke-width="0.9"/>
<line x1="25.7" y1="508.6" x2="28.2" y2="508.6" stroke="#444" stroke-width="0.8"/>
<text transform="translate(25.4,508.6) rotate(-90)" text-anchor="middle" font-size="6" fill="#222" stroke="#222" stroke-width="0.12">8.5</text>
<line x1="25.7" y1="489.5" x2="28.2" y2="489.5" stroke="#444" stroke-width="0.8"/>
<text transform="translate(25.4,489.5) rotate(-90)" text-anchor="middle" font-size="6" fill="#222" stroke="#222" stroke-width="0.12">9.0</text>
<line x1="25.7" y1="470.2" x2="28.2" y2="470.2" stroke="#444" stroke-width="0.8"/>
<text transform="translate(25.4,470.2) rotate(-90)" text-anchor="middle" font-size="6" fill="#222" stroke="#222" stroke-width="0.12">9.5</text>
<line x1="25.7" y1="450.6" x2="28.2" y2="450.6" stroke="#444" stroke-width="0.8"/>
<text transform="translate(25.4,450.6) rotate(-90)" text-anchor="middle" font-size="6" fill="#222" stroke="#222" stroke-width="0.12">10.0</text>
<line x1="25.7" y1="431.2" x2="28.2" y2="431.2" stroke="#444" stroke-width="0.8"/>
<text transform="translate(25.4,431.2) rotate(-90)" text-anchor="middle" font-size="6" fill="#222" stroke="#222" stroke-width="0.12">10.5</text>
<line x1="52.3" y1="502.3" x2="52.3" y2="502.8" stroke="#555" stroke-width="0.8" stroke-dasharray="1.6,1.2"/>
<line x1="52.3" y1="509.2" x2="52.3" y2="509.6" stroke="#555" stroke-width="0.8" stroke-dasharray="1.6,1.2"/>
<line x1="48" y1="502.3" x2="57" y2="502.3" stroke="#444" stroke-width="0.8"/>
<line x1="48" y1="509.6" x2="57" y2="509.6" stroke="#444" stroke-width="0.8"/>
<rect x="43.3" y="502.8" width="18.1" height="6.4" fill="#d3d3d3" stroke="#444" stroke-width="0.8"/>
<line x1="43.3" y1="505.9" x2="61.4" y2="505.9" stroke="#000" stroke-width="1.8"/>
<text x="52" y="501.8" text-anchor="middle" font-size="9.5" fill="#777">**</text>
<line x1="91.4" y1="436.5" x2="91.4" y2="438" stroke="#555" stroke-width="0.8" stroke-dasharray="1.6,1.2"/>
<line x1="91.4" y1="446.7" x2="91.4" y2="451.2" stroke="#555" stroke-width="0.8" stroke-dasharray="1.6,1.2"/>
<line x1="88.2" y1="436.5" x2="95.8" y2="436.5" stroke="#444" stroke-width="0.8"/>
<line x1="88.2" y1="451.2" x2="95.8" y2="451.2" stroke="#444" stroke-width="0.8"/>
<rect x="82.1" y="438" width="18.6" height="8.7" fill="#d3d3d3" stroke="#444" stroke-width="0.8"/>
<line x1="82.1" y1="439.8" x2="100.7" y2="439.8" stroke="#000" stroke-width="1.8"/>
<line x1="130.5" y1="427.8" x2="130.5" y2="432" stroke="#555" stroke-width="0.8" stroke-dasharray="1.6,1.2"/>
<line x1="130.5" y1="484" x2="130.5" y2="485.3" stroke="#555" stroke-width="0.8" stroke-dasharray="1.6,1.2"/>
<line x1="126" y1="427.8" x2="135" y2="427.8" stroke="#444" stroke-width="0.8"/>
<line x1="126" y1="485.3" x2="135" y2="485.3" stroke="#444" stroke-width="0.8"/>
<rect x="121.4" y="432" width="18.2" height="52" fill="#d3d3d3" stroke="#444" stroke-width="0.8"/>
<line x1="121.4" y1="459" x2="139.6" y2="459" stroke="#000" stroke-width="1.8"/>
<line x1="52" y1="512" x2="52" y2="514.5" stroke="#444" stroke-width="0.8"/>
<text x="52" y="523" text-anchor="middle" font-size="7.6" fill="#222">KO</text>
<line x1="91.5" y1="512" x2="91.5" y2="514.5" stroke="#444" stroke-width="0.8"/>
<text x="91.5" y="523" text-anchor="middle" font-size="7.6" fill="#222">WT</text>
<line x1="130.4" y1="512" x2="130.4" y2="514.5" stroke="#444" stroke-width="0.8"/>
<text x="130.4" y="523" text-anchor="middle" font-size="7.6" fill="#222">SCR</text>
<text x="64.2" y="421.8" font-size="6.6" font-weight="bold" fill="#111" textLength="45" lengthAdjust="spacingAndGlyphs">MCF7 ANXA1</text>
<text transform="translate(14.6,463.9) rotate(-90)" text-anchor="middle" font-size="8.7" fill="#1a1a1a">log2 (data)</text>
<rect x="179.3" y="426.2" width="127.9" height="88.1" fill="none" stroke="#444" stroke-width="0.9"/>
<line x1="176.8" y1="510.3" x2="179.3" y2="510.3" stroke="#444" stroke-width="0.8"/>
<text transform="translate(175.8,510.3) rotate(-90)" text-anchor="middle" font-size="6" fill="#222" stroke="#222" stroke-width="0.12">12.8</text>
<line x1="176.8" y1="496.3" x2="179.3" y2="496.3" stroke="#444" stroke-width="0.8"/>
<text transform="translate(175.8,496.3) rotate(-90)" text-anchor="middle" font-size="6" fill="#222" stroke="#222" stroke-width="0.12">12.9</text>
<line x1="176.8" y1="482.1" x2="179.3" y2="482.1" stroke="#444" stroke-width="0.8"/>
<text transform="translate(175.8,482.1) rotate(-90)" text-anchor="middle" font-size="6" fill="#222" stroke="#222" stroke-width="0.12">12.9</text>
<line x1="176.8" y1="468" x2="179.3" y2="468" stroke="#444" stroke-width="0.8"/>
<text transform="translate(175.8,468) rotate(-90)" text-anchor="middle" font-size="6" fill="#222" stroke="#222" stroke-width="0.12">13.0</text>
<line x1="176.8" y1="453.8" x2="179.3" y2="453.8" stroke="#444" stroke-width="0.8"/>
<text transform="translate(175.8,453.8) rotate(-90)" text-anchor="middle" font-size="6" fill="#222" stroke="#222" stroke-width="0.12">13.0</text>
<line x1="176.8" y1="439.7" x2="179.3" y2="439.7" stroke="#444" stroke-width="0.8"/>
<text transform="translate(175.8,439.7) rotate(-90)" text-anchor="middle" font-size="6" fill="#222" stroke="#222" stroke-width="0.12">13.1</text>
<line x1="176.8" y1="425.5" x2="179.3" y2="425.5" stroke="#444" stroke-width="0.8"/>
<text transform="translate(175.8,425.5) rotate(-90)" text-anchor="middle" font-size="6" fill="#222" stroke="#222" stroke-width="0.12">13.1</text>
<line x1="204" y1="429.4" x2="204" y2="430.4" stroke="#555" stroke-width="0.8" stroke-dasharray="1.6,1.2"/>
<line x1="204" y1="445.5" x2="204" y2="445.5" stroke="#555" stroke-width="0.8" stroke-dasharray="1.6,1.2"/>
<line x1="196" y1="429.4" x2="212" y2="429.4" stroke="#444" stroke-width="0.8"/>
<line x1="196" y1="445.5" x2="212" y2="445.5" stroke="#444" stroke-width="0.8"/>
<rect x="188.3" y="430.4" width="31.4" height="15.1" fill="#d3d3d3" stroke="#444" stroke-width="0.8"/>
<line x1="188.3" y1="437.2" x2="219.7" y2="437.2" stroke="#000" stroke-width="1.8"/>
<text x="203.5" y="454" text-anchor="middle" font-size="9.5" fill="#777">***</text>
<line x1="243.2" y1="468.6" x2="243.2" y2="480.2" stroke="#555" stroke-width="0.8" stroke-dasharray="1.6,1.2"/>
<line x1="243.2" y1="510.5" x2="243.2" y2="511.1" stroke="#555" stroke-width="0.8" stroke-dasharray="1.6,1.2"/>
<line x1="235.2" y1="468.6" x2="251.7" y2="468.6" stroke="#444" stroke-width="0.8"/>
<line x1="235.2" y1="511.1" x2="251.7" y2="511.1" stroke="#444" stroke-width="0.8"/>
<rect x="227.4" y="480.2" width="31.7" height="30.3" fill="#d3d3d3" stroke="#444" stroke-width="0.8"/>
<line x1="227.4" y1="501" x2="259.1" y2="501" stroke="#000" stroke-width="1.8"/>
<line x1="282.9" y1="459.7" x2="282.9" y2="471.3" stroke="#555" stroke-width="0.8" stroke-dasharray="1.6,1.2"/>
<line x1="282.9" y1="501.6" x2="282.9" y2="503.5" stroke="#555" stroke-width="0.8" stroke-dasharray="1.6,1.2"/>
<line x1="274.6" y1="459.7" x2="290.9" y2="459.7" stroke="#444" stroke-width="0.8"/>
<line x1="274.6" y1="503.5" x2="290.9" y2="503.5" stroke="#444" stroke-width="0.8"/>
<rect x="267" y="471.3" width="31.7" height="30.3" fill="#d3d3d3" stroke="#444" stroke-width="0.8"/>
<line x1="267" y1="490.6" x2="298.7" y2="490.6" stroke="#000" stroke-width="1.8"/>
<line x1="204.5" y1="514.3" x2="204.5" y2="516.8" stroke="#444" stroke-width="0.8"/>
<text x="204.5" y="523.5" text-anchor="middle" font-size="7.6" fill="#222">KO</text>
<line x1="243.5" y1="514.3" x2="243.5" y2="516.8" stroke="#444" stroke-width="0.8"/>
<text x="243.5" y="523.5" text-anchor="middle" font-size="7.6" fill="#222">WT</text>
<line x1="282.5" y1="514.3" x2="282.5" y2="516.8" stroke="#444" stroke-width="0.8"/>
<text x="282.5" y="523.5" text-anchor="middle" font-size="7.6" fill="#222">SCR</text>
<text x="207.6" y="421.8" font-size="6.6" font-weight="bold" fill="#111" textLength="67" lengthAdjust="spacingAndGlyphs">MDA-MB231 ANXA1</text>
<text transform="translate(166.2,464) rotate(-90)" text-anchor="middle" font-size="8.7" fill="#1a1a1a">log2 (data)</text>
<line x1="358.5" y1="435.2" x2="358.5" y2="502.6" stroke="#111" stroke-width="0.9"/>
<line x1="358.5" y1="502.6" x2="402.6" y2="502.6" stroke="#111" stroke-width="0.9"/>
<line x1="371.4" y1="502.6" x2="371.4" y2="504.6" stroke="#111" stroke-width="0.8"/><line x1="390.6" y1="502.6" x2="390.6" y2="504.6" stroke="#111" stroke-width="0.8"/>
<line x1="356.3" y1="502.6" x2="358.5" y2="502.6" stroke="#111" stroke-width="0.8"/>
<text x="355.5" y="504.3" text-anchor="end" font-size="4.8" font-weight="bold" fill="#222" textLength="13.4" lengthAdjust="spacingAndGlyphs">0.000</text>
<line x1="356.3" y1="480.2" x2="358.5" y2="480.2" stroke="#111" stroke-width="0.8"/>
<text x="355.5" y="481.9" text-anchor="end" font-size="4.8" font-weight="bold" fill="#222" textLength="13.4" lengthAdjust="spacingAndGlyphs">0.001</text>
<line x1="356.3" y1="457.9" x2="358.5" y2="457.9" stroke="#111" stroke-width="0.8"/>
<text x="355.5" y="459.6" text-anchor="end" font-size="4.8" font-weight="bold" fill="#222" textLength="13.4" lengthAdjust="spacingAndGlyphs">0.002</text>
<line x1="356.3" y1="435.6" x2="358.5" y2="435.6" stroke="#111" stroke-width="0.8"/>
<text x="355.5" y="437.2" text-anchor="end" font-size="4.8" font-weight="bold" fill="#222" textLength="13.4" lengthAdjust="spacingAndGlyphs">0.003</text>
<rect x="365.4" y="448.2" width="12" height="54.4" fill="#6b6b6b" stroke="#111" stroke-width="0.9"/>
<rect x="384.6" y="480.5" width="12" height="22.1" fill="#d0d0d0" stroke="#111" stroke-width="0.9"/>
<line x1="371.4" y1="444.3" x2="371.4" y2="448.2" stroke="#111" stroke-width="0.8"/><line x1="369.4" y1="444.3" x2="373.4" y2="444.3" stroke="#111" stroke-width="0.8"/>
<line x1="390.6" y1="471.6" x2="390.6" y2="480.5" stroke="#111" stroke-width="0.8"/><line x1="388.6" y1="471.6" x2="392.6" y2="471.6" stroke="#111" stroke-width="0.8"/>
<circle cx="371.4" cy="444.6" r="1.15" fill="#111"/>
<circle cx="371.4" cy="448.3" r="1.15" fill="#111"/>
<circle cx="371.4" cy="451.5" r="1.15" fill="#111"/>
<circle cx="390.6" cy="472.6" r="1.15" fill="#111"/>
<circle cx="390.6" cy="480.8" r="1.15" fill="#111"/>
<circle cx="390.6" cy="489" r="1.15" fill="#111"/>
<line x1="371.4" y1="435.8" x2="386.3" y2="435.8" stroke="#222" stroke-width="0.7"/>
<text x="378.9" y="434.3" text-anchor="middle" font-size="4.6" fill="#333" textLength="14" lengthAdjust="spacingAndGlyphs">0.0168</text>
<text x="379.6" y="421.6" text-anchor="middle" font-size="6.8" font-weight="bold" font-style="italic" fill="#111" textLength="23.8" lengthAdjust="spacingAndGlyphs">ANXA1</text>
<text transform="translate(338.6,472) rotate(-90)" text-anchor="middle" font-size="4.8" font-weight="bold" fill="#222">2^-DCt</text>
<text transform="translate(374.2,508.8) rotate(-46)" text-anchor="end" font-size="5.4" font-weight="bold" fill="#222" textLength="16.6" lengthAdjust="spacingAndGlyphs">SCR 4</text>
<text transform="translate(389.6,509.4) rotate(-48)" text-anchor="end" font-size="5.4" font-weight="bold" fill="#222" textLength="27" lengthAdjust="spacingAndGlyphs">JMJD6 KO 6</text>
<filter id="fb0" x="-50%" y="-50%" width="200%" height="200%"><feGaussianBlur stdDeviation="0.45"/></filter>
<filter id="fb1" x="-50%" y="-50%" width="200%" height="200%"><feGaussianBlur stdDeviation="0.9"/></filter>
<filter id="fb2" x="-50%" y="-50%" width="200%" height="200%"><feGaussianBlur stdDeviation="1.8"/></filter>
<filter id="fb3" x="-50%" y="-50%" width="200%" height="200%"><feGaussianBlur stdDeviation="4"/></filter>
<clipPath id="cf0"><rect x="20.2" y="548.6" width="124.9" height="93.4"/></clipPath>
<rect x="20.2" y="548.6" width="124.9" height="93.4" fill="#0a0822"/>
<g clip-path="url(#cf0)">
<g filter="url(#fb3)">
<ellipse cx="100.2" cy="593.6" rx="50" ry="40" fill="#24247a" fill-opacity="0.50"/>
<ellipse cx="120.2" cy="570.6" rx="26" ry="22" fill="#b01030" fill-opacity="0.70"/>
<ellipse cx="102.2" cy="558.6" rx="10" ry="8" fill="#c01838" fill-opacity="0.60"/>
<ellipse cx="137.2" cy="580.6" rx="9" ry="16" fill="#b81030" fill-opacity="0.60"/>
<ellipse cx="78.2" cy="588.6" rx="18" ry="16" fill="#901040" fill-opacity="0.60"/>
<ellipse cx="90.2" cy="632.6" rx="28" ry="10" fill="#b01030" fill-opacity="0.70"/>
<ellipse cx="28.2" cy="583.6" rx="6" ry="14" fill="#d01838" fill-opacity="0.80"/>
<ellipse cx="125.2" cy="620.6" rx="18" ry="18" fill="#2a3090" fill-opacity="0.45"/>
<ellipse cx="50.2" cy="558.6" rx="15" ry="8" fill="#30308a" fill-opacity="0.45"/>
<ellipse cx="60.2" cy="623.6" rx="8" ry="10" fill="#c01030" fill-opacity="0.70"/>
</g>
<g filter="url(#fb0)">
<g fill="#363aa0" fill-opacity="0.5">
<ellipse transform="translate(20.7,548.4) rotate(121)" rx="2.6" ry="1.8"/>
<ellipse transform="translate(46.4,550.5) rotate(59)" rx="2.3" ry="1.6"/>
<ellipse transform="translate(62.8,549.2) rotate(116)" rx="2.9" ry="2"/>
<ellipse transform="translate(78.5,548.4) rotate(143)" rx="2.8" ry="1.9"/>
<ellipse transform="translate(109,549.2) rotate(44)" rx="2.4" ry="1.6"/>
<ellipse transform="translate(79.1,555.4) rotate(36)" rx="2.9" ry="2"/>
<ellipse transform="translate(86.4,554.2) rotate(18)" rx="2.6" ry="1.8"/>
<ellipse transform="translate(106.2,553.5) rotate(2)" rx="2.8" ry="1.9"/>
<ellipse transform="translate(84.1,560.4) rotate(141)" rx="2.8" ry="1.9"/>
<ellipse transform="translate(109.8,558.8) rotate(174)" rx="2.7" ry="1.8"/>
<ellipse transform="translate(114.9,560) rotate(100)" rx="2.8" ry="1.9"/>
<ellipse transform="translate(118.8,559.1) rotate(170)" rx="2.5" ry="1.7"/>
<ellipse transform="translate(125.1,559.2) rotate(89)" rx="3" ry="2"/>
<ellipse transform="translate(134.5,557.8) rotate(139)" rx="2.5" ry="1.7"/>
<ellipse transform="translate(141.4,558.5) rotate(94)" rx="2.5" ry="1.7"/>
<ellipse transform="translate(144.2,557.8) rotate(79)" rx="2.6" ry="1.8"/>
<ellipse transform="translate(60.5,563.8) rotate(149)" rx="2.3" ry="1.6"/>
<ellipse transform="translate(64.8,562) rotate(59)" rx="2.4" ry="1.6"/>
<ellipse transform="translate(96.9,561.3) rotate(79)" rx="2.7" ry="1.8"/>
<ellipse transform="translate(103.8,562.4) rotate(90)" rx="2.9" ry="1.9"/>
<ellipse transform="translate(113.2,563) rotate(131)" rx="2.6" ry="1.8"/>
<ellipse transform="translate(128.7,563.3) rotate(170)" rx="2.7" ry="1.8"/>
<ellipse transform="translate(83.6,569.3) rotate(152)" rx="2.9" ry="1.9"/>
<ellipse transform="translate(99.5,568.7) rotate(8)" rx="2.8" ry="1.9"/>
<ellipse transform="translate(103.7,568.8) rotate(36)" rx="2.5" ry="1.7"/>
<ellipse transform="translate(136.8,566.8) rotate(42)" rx="2.5" ry="1.7"/>
<ellipse transform="translate(140.6,569.1) rotate(116)" rx="2.5" ry="1.7"/>
<ellipse transform="translate(146.7,568.7) rotate(141)" rx="2.9" ry="2"/>
<ellipse transform="translate(23.4,572.1) rotate(52)" rx="2.6" ry="1.8"/>
<ellipse transform="translate(39.5,571.6) rotate(52)" rx="2.7" ry="1.8"/>
<ellipse transform="translate(64.1,573.1) rotate(163)" rx="2.6" ry="1.8"/>
<ellipse transform="translate(80.1,571.7) rotate(38)" rx="2.9" ry="2"/>
<ellipse transform="translate(85.6,572.7) rotate(12)" rx="2.8" ry="1.9"/>
<ellipse transform="translate(107.1,572.8) rotate(170)" rx="3" ry="2"/>
<ellipse transform="translate(117.9,573.5) rotate(177)" rx="2.9" ry="2"/>
<ellipse transform="translate(127.8,570.8) rotate(14)" rx="2.8" ry="1.9"/>
<ellipse transform="translate(133.8,572.2) rotate(101)" rx="2.6" ry="1.7"/>
<ellipse transform="translate(40.8,577.3) rotate(132)" rx="2.5" ry="1.7"/>
<ellipse transform="translate(67.5,578) rotate(135)" rx="2.9" ry="2"/>
<ellipse transform="translate(74,576.4) rotate(71)" rx="2.7" ry="1.9"/>
<ellipse transform="translate(89.8,575.3) rotate(155)" rx="2.7" ry="1.9"/>
<ellipse transform="translate(104.1,577.4) rotate(21)" rx="2.6" ry="1.8"/>
<ellipse transform="translate(110.4,576.2) rotate(47)" rx="2.8" ry="1.9"/>
<ellipse transform="translate(126.9,575.6) rotate(157)" rx="2.9" ry="2"/>
<ellipse transform="translate(130.4,576.5) rotate(162)" rx="2.5" ry="1.7"/>
<ellipse transform="translate(23,581.8) rotate(144)" rx="2.8" ry="1.9"/>
<ellipse transform="translate(29.1,580.6) rotate(40)" rx="2.3" ry="1.6"/>
<ellipse transform="translate(42.6,581.1) rotate(117)" rx="2.7" ry="1.9"/>
<ellipse transform="translate(66.5,581.1) rotate(47)" rx="2.9" ry="2"/>
<ellipse transform="translate(70.6,580.3) rotate(128)" rx="2.7" ry="1.8"/>
<ellipse transform="translate(76.7,580.3) rotate(75)" rx="2.7" ry="1.9"/>
<ellipse transform="translate(83.6,582.4) rotate(130)" rx="2.4" ry="1.6"/>
<ellipse transform="translate(121.9,581.2) rotate(47)" rx="2.4" ry="1.6"/>
<ellipse transform="translate(131,580.9) rotate(13)" rx="2.7" ry="1.9"/>
<ellipse transform="translate(136.4,581.5) rotate(101)" rx="2.7" ry="1.9"/>
<ellipse transform="translate(31.9,586.8) rotate(86)" rx="2.4" ry="1.6"/>
<ellipse transform="translate(46.5,586.6) rotate(116)" rx="2.5" ry="1.7"/>
<ellipse transform="translate(76.7,583.9) rotate(127)" rx="2.3" ry="1.6"/>
<ellipse transform="translate(89.4,583.5) rotate(134)" rx="2.5" ry="1.7"/>
<ellipse transform="translate(94.1,585.3) rotate(51)" rx="2.7" ry="1.8"/>
<ellipse transform="translate(115.3,585.6) rotate(70)" rx="2.9" ry="1.9"/>
<ellipse transform="translate(131.3,584) rotate(176)" rx="2.9" ry="2"/>
<ellipse transform="translate(142.3,585.6) rotate(138)" rx="2.5" ry="1.7"/>
<ellipse transform="translate(34.2,589.5) rotate(152)" rx="2.8" ry="1.9"/>
<ellipse transform="translate(74.8,590.1) rotate(36)" rx="2.5" ry="1.7"/>
<ellipse transform="translate(101.3,590.7) rotate(87)" rx="2.9" ry="2"/>
<ellipse transform="translate(25.7,596.1) rotate(111)" rx="2.5" ry="1.7"/>
<ellipse transform="translate(31.9,594.3) rotate(154)" rx="2.7" ry="1.9"/>
<ellipse transform="translate(73.9,593.7) rotate(52)" rx="2.8" ry="1.9"/>
<ellipse transform="translate(33.8,599.8) rotate(117)" rx="2.8" ry="1.9"/>
<ellipse transform="translate(60,600.2) rotate(54)" rx="2.5" ry="1.7"/>
<ellipse transform="translate(75.4,598.8) rotate(99)" rx="2.7" ry="1.8"/>
<ellipse transform="translate(79.7,599) rotate(22)" rx="2.9" ry="2"/>
<ellipse transform="translate(97,600.7) rotate(59)" rx="2.8" ry="1.9"/>
<ellipse transform="translate(106.5,600.3) rotate(55)" rx="2.6" ry="1.8"/>
<ellipse transform="translate(118,598.6) rotate(111)" rx="2.9" ry="2"/>
<ellipse transform="translate(128.2,599.8) rotate(35)" rx="2.9" ry="2"/>
<ellipse transform="translate(62.7,604.7) rotate(179)" rx="2.7" ry="1.8"/>
<ellipse transform="translate(82.6,603.8) rotate(20)" rx="2.5" ry="1.7"/>
<ellipse transform="translate(89.3,604) rotate(124)" rx="3" ry="2"/>
<ellipse transform="translate(103.2,603.6) rotate(127)" rx="2.3" ry="1.6"/>
<ellipse transform="translate(125.3,605) rotate(29)" rx="3" ry="2"/>
<ellipse transform="translate(143.7,603.9) rotate(29)" rx="2.3" ry="1.6"/>
<ellipse transform="translate(61.2,607.7) rotate(173)" rx="2.6" ry="1.8"/>
<ellipse transform="translate(85.3,609.8) rotate(37)" rx="2.7" ry="1.8"/>
<ellipse transform="translate(91.2,608.7) rotate(103)" rx="2.5" ry="1.7"/>
<ellipse transform="translate(117.8,608.6) rotate(101)" rx="2.7" ry="1.8"/>
<ellipse transform="translate(122.1,609.1) rotate(46)" rx="2.4" ry="1.6"/>
<ellipse transform="translate(128.2,609.6) rotate(64)" rx="2.5" ry="1.7"/>
<ellipse transform="translate(138.4,608.1) rotate(142)" rx="2.6" ry="1.8"/>
<ellipse transform="translate(141.6,609.6) rotate(120)" rx="2.3" ry="1.6"/>
<ellipse transform="translate(36.4,612.8) rotate(127)" rx="2.3" ry="1.6"/>
<ellipse transform="translate(83.4,612.5) rotate(56)" rx="2.3" ry="1.6"/>
<ellipse transform="translate(99.3,612.1) rotate(32)" rx="2.3" ry="1.6"/>
<ellipse transform="translate(106.6,612.3) rotate(82)" rx="2.4" ry="1.6"/>
<ellipse transform="translate(136,613.3) rotate(113)" rx="2.5" ry="1.7"/>
<ellipse transform="translate(97.2,618.2) rotate(147)" rx="2.9" ry="2"/>
<ellipse transform="translate(139.7,616.9) rotate(146)" rx="2.6" ry="1.8"/>
<ellipse transform="translate(62.9,622.1) rotate(153)" rx="2.5" ry="1.7"/>
<ellipse transform="translate(77.6,621.3) rotate(81)" rx="2.9" ry="2"/>
<ellipse transform="translate(116.8,621.4) rotate(129)" rx="2.7" ry="1.8"/>
<ellipse transform="translate(24.6,625.9) rotate(163)" rx="2.6" ry="1.8"/>
<ellipse transform="translate(75.6,627.1) rotate(138)" rx="2.7" ry="1.8"/>
<ellipse transform="translate(93.6,627) rotate(169)" rx="2.5" ry="1.7"/>
<ellipse transform="translate(101.6,628) rotate(72)" rx="2.4" ry="1.6"/>
<ellipse transform="translate(121.1,626.8) rotate(99)" rx="2.9" ry="2"/>
<ellipse transform="translate(143.5,627.9) rotate(69)" rx="2.9" ry="2"/>
<ellipse transform="translate(52.8,631.3) rotate(6)" rx="2.6" ry="1.8"/>
<ellipse transform="translate(62,630.6) rotate(173)" rx="2.3" ry="1.6"/>
<ellipse transform="translate(68.6,631.3) rotate(113)" rx="2.6" ry="1.8"/>
<ellipse transform="translate(89.4,631.2) rotate(125)" rx="3" ry="2"/>
<ellipse transform="translate(126.7,629.6) rotate(137)" rx="2.4" ry="1.6"/>
<ellipse transform="translate(130.9,631.1) rotate(74)" rx="2.6" ry="1.8"/>
<ellipse transform="translate(135.9,632.3) rotate(175)" rx="2.7" ry="1.9"/>
<ellipse transform="translate(74.6,634.3) rotate(177)" rx="2.4" ry="1.6"/>
<ellipse transform="translate(118.3,636) rotate(79)" rx="2.6" ry="1.7"/>
<ellipse transform="translate(126.3,636.1) rotate(68)" rx="2.8" ry="1.9"/>
<ellipse transform="translate(89,639.9) rotate(16)" rx="2.9" ry="1.9"/>
<ellipse transform="translate(110.4,641.2) rotate(169)" rx="2.7" ry="1.8"/>
<ellipse transform="translate(120.1,638.3) rotate(7)" rx="2.5" ry="1.7"/>
<ellipse transform="translate(129.6,639.2) rotate(34)" rx="2.9" ry="2"/>
<ellipse transform="translate(141.1,639) rotate(119)" rx="2.6" ry="1.8"/>
</g>
<g fill="#3c42ac" fill-opacity="0.6">
<ellipse transform="translate(49.7,550.7) rotate(157)" rx="2.8" ry="1.9"/>
<ellipse transform="translate(89.8,549.3) rotate(98)" rx="2.5" ry="1.7"/>
<ellipse transform="translate(94.3,549.1) rotate(0)" rx="2.8" ry="1.9"/>
<ellipse transform="translate(104,549.2) rotate(85)" rx="2.4" ry="1.6"/>
<ellipse transform="translate(122.3,549.4) rotate(125)" rx="2.7" ry="1.8"/>
<ellipse transform="translate(129.2,550.4) rotate(13)" rx="2.3" ry="1.6"/>
<ellipse transform="translate(49.8,553.9) rotate(39)" rx="2.4" ry="1.7"/>
<ellipse transform="translate(59.1,554.7) rotate(35)" rx="2.9" ry="2"/>
<ellipse transform="translate(97.4,554.9) rotate(56)" rx="2.5" ry="1.7"/>
<ellipse transform="translate(117.1,553.4) rotate(39)" rx="2.3" ry="1.6"/>
<ellipse transform="translate(37.1,558.8) rotate(129)" rx="2.9" ry="2"/>
<ellipse transform="translate(46.6,557.9) rotate(102)" rx="2.7" ry="1.8"/>
<ellipse transform="translate(53.7,558.9) rotate(150)" rx="2.3" ry="1.6"/>
<ellipse transform="translate(57.4,557.7) rotate(83)" rx="2.5" ry="1.7"/>
<ellipse transform="translate(61.2,556.9) rotate(44)" rx="2.3" ry="1.6"/>
<ellipse transform="translate(49.4,563.8) rotate(163)" rx="2.5" ry="1.7"/>
<ellipse transform="translate(81.3,562.6) rotate(155)" rx="2.3" ry="1.6"/>
<ellipse transform="translate(85.8,562.8) rotate(122)" rx="2.8" ry="1.9"/>
<ellipse transform="translate(117.6,561.7) rotate(21)" rx="2.9" ry="2"/>
<ellipse transform="translate(121.9,562.7) rotate(146)" rx="2.8" ry="1.9"/>
<ellipse transform="translate(133,562.6) rotate(131)" rx="2.7" ry="1.8"/>
<ellipse transform="translate(138.9,564.3) rotate(126)" rx="2.7" ry="1.9"/>
<ellipse transform="translate(57.5,566.2) rotate(36)" rx="3" ry="2"/>
<ellipse transform="translate(68.2,569.1) rotate(172)" rx="2.9" ry="2"/>
<ellipse transform="translate(72,568.9) rotate(90)" rx="2.6" ry="1.8"/>
<ellipse transform="translate(77.6,566.8) rotate(26)" rx="2.8" ry="1.9"/>
<ellipse transform="translate(94.3,567.1) rotate(165)" rx="2.8" ry="1.9"/>
<ellipse transform="translate(115.5,567.7) rotate(128)" rx="2.8" ry="1.9"/>
<ellipse transform="translate(119.1,567.4) rotate(36)" rx="2.3" ry="1.6"/>
<ellipse transform="translate(130.4,567.5) rotate(56)" rx="2.7" ry="1.9"/>
<ellipse transform="translate(51.1,571.6) rotate(77)" rx="2.9" ry="2"/>
<ellipse transform="translate(75.1,573) rotate(13)" rx="2.5" ry="1.7"/>
<ellipse transform="translate(113.6,570.3) rotate(135)" rx="2.5" ry="1.7"/>
<ellipse transform="translate(47.3,576.8) rotate(28)" rx="2.3" ry="1.6"/>
<ellipse transform="translate(56.3,577.2) rotate(141)" rx="2.6" ry="1.8"/>
<ellipse transform="translate(62,577.9) rotate(118)" rx="2.9" ry="2"/>
<ellipse transform="translate(79.6,578.8) rotate(177)" rx="2.3" ry="1.6"/>
<ellipse transform="translate(95.7,577.9) rotate(83)" rx="2.5" ry="1.7"/>
<ellipse transform="translate(114.5,576.9) rotate(21)" rx="2.6" ry="1.7"/>
<ellipse transform="translate(137,575.6) rotate(23)" rx="3" ry="2"/>
<ellipse transform="translate(49.4,582.9) rotate(71)" rx="2.8" ry="1.9"/>
<ellipse transform="translate(60.2,580) rotate(52)" rx="2.9" ry="2"/>
<ellipse transform="translate(97.1,582.6) rotate(50)" rx="3" ry="2"/>
<ellipse transform="translate(106.9,582.7) rotate(125)" rx="2.8" ry="1.9"/>
<ellipse transform="translate(112.1,580.6) rotate(95)" rx="2.8" ry="1.9"/>
<ellipse transform="translate(25.5,586.1) rotate(30)" rx="3" ry="2"/>
<ellipse transform="translate(38.4,585.5) rotate(122)" rx="2.5" ry="1.7"/>
<ellipse transform="translate(62.1,585.9) rotate(59)" rx="2.9" ry="1.9"/>
<ellipse transform="translate(69.4,585.1) rotate(48)" rx="2.6" ry="1.7"/>
<ellipse transform="translate(98.3,586.4) rotate(125)" rx="3" ry="2"/>
<ellipse transform="translate(121.3,585.9) rotate(153)" rx="2.4" ry="1.7"/>
<ellipse transform="translate(125,585.2) rotate(72)" rx="2.4" ry="1.6"/>
<ellipse transform="translate(136.8,584.2) rotate(88)" rx="2.9" ry="2"/>
<ellipse transform="translate(54.4,591.2) rotate(18)" rx="2.8" ry="1.9"/>
<ellipse transform="translate(85.1,589) rotate(123)" rx="2.4" ry="1.7"/>
<ellipse transform="translate(91.7,590) rotate(171)" rx="2.5" ry="1.7"/>
<ellipse transform="translate(122.8,590.4) rotate(172)" rx="2.6" ry="1.8"/>
<ellipse transform="translate(128.1,589.9) rotate(111)" rx="3" ry="2"/>
<ellipse transform="translate(139,591.1) rotate(67)" rx="2.6" ry="1.8"/>
<ellipse transform="translate(36.6,593.8) rotate(43)" rx="2.7" ry="1.9"/>
<ellipse transform="translate(43.2,593.8) rotate(141)" rx="2.8" ry="1.9"/>
<ellipse transform="translate(63,594) rotate(153)" rx="2.8" ry="1.9"/>
<ellipse transform="translate(68.7,596.2) rotate(29)" rx="2.6" ry="1.7"/>
<ellipse transform="translate(121.1,595.5) rotate(98)" rx="2.9" ry="2"/>
<ellipse transform="translate(124.8,594.8) rotate(57)" rx="2.9" ry="2"/>
<ellipse transform="translate(130.5,593) rotate(2)" rx="2.9" ry="2"/>
<ellipse transform="translate(53.9,599.7) rotate(19)" rx="2.4" ry="1.6"/>
<ellipse transform="translate(64.6,598.8) rotate(72)" rx="2.5" ry="1.7"/>
<ellipse transform="translate(70.3,600.3) rotate(155)" rx="2.8" ry="1.9"/>
<ellipse transform="translate(90.7,600.1) rotate(158)" rx="2.9" ry="2"/>
<ellipse transform="translate(102.6,599.3) rotate(25)" rx="2.3" ry="1.6"/>
<ellipse transform="translate(122.9,598.8) rotate(50)" rx="2.7" ry="1.8"/>
<ellipse transform="translate(132.5,600.9) rotate(129)" rx="2.4" ry="1.6"/>
<ellipse transform="translate(139.3,599.6) rotate(145)" rx="2.9" ry="2"/>
<ellipse transform="translate(79.3,604.5) rotate(82)" rx="2.4" ry="1.6"/>
<ellipse transform="translate(92.8,604.2) rotate(106)" rx="2.5" ry="1.7"/>
<ellipse transform="translate(109.7,604.3) rotate(57)" rx="2.8" ry="1.9"/>
<ellipse transform="translate(120.1,603.4) rotate(111)" rx="2.7" ry="1.8"/>
<ellipse transform="translate(82.7,607.5) rotate(68)" rx="2.8" ry="1.9"/>
<ellipse transform="translate(96.7,608) rotate(60)" rx="2.9" ry="2"/>
<ellipse transform="translate(107.3,609.2) rotate(47)" rx="2.8" ry="1.9"/>
<ellipse transform="translate(45.6,613.2) rotate(158)" rx="2.4" ry="1.7"/>
<ellipse transform="translate(51.9,612.7) rotate(68)" rx="2.7" ry="1.8"/>
<ellipse transform="translate(58.6,613.3) rotate(74)" rx="2.3" ry="1.6"/>
<ellipse transform="translate(68.5,613.9) rotate(129)" rx="2.8" ry="1.9"/>
<ellipse transform="translate(78.6,612.5) rotate(160)" rx="2.8" ry="1.9"/>
<ellipse transform="translate(110,613.3) rotate(13)" rx="2.7" ry="1.8"/>
<ellipse transform="translate(115.9,614.5) rotate(152)" rx="2.8" ry="1.9"/>
<ellipse transform="translate(119.8,612.5) rotate(131)" rx="3" ry="2"/>
<ellipse transform="translate(75.6,617.2) rotate(41)" rx="3" ry="2"/>
<ellipse transform="translate(81.4,619.1) rotate(101)" rx="2.5" ry="1.7"/>
<ellipse transform="translate(90.8,617.8) rotate(176)" rx="2.7" ry="1.9"/>
<ellipse transform="translate(107.5,617.2) rotate(178)" rx="2.8" ry="1.9"/>
<ellipse transform="translate(145.4,618.1) rotate(144)" rx="2.9" ry="2"/>
<ellipse transform="translate(68.7,621.5) rotate(176)" rx="2.8" ry="1.9"/>
<ellipse transform="translate(84.1,623.2) rotate(82)" rx="2.9" ry="2"/>
<ellipse transform="translate(88.1,619.1) rotate(104)" rx="3" ry="2"/>
<ellipse transform="translate(93.6,622.3) rotate(122)" rx="2.7" ry="1.8"/>
<ellipse transform="translate(99.7,623) rotate(47)" rx="2.4" ry="1.6"/>
<ellipse transform="translate(125.6,622.4) rotate(57)" rx="2.7" ry="1.9"/>
<ellipse transform="translate(130.3,620.8) rotate(132)" rx="2.9" ry="2"/>
<ellipse transform="translate(43.7,626.7) rotate(162)" rx="2.9" ry="2"/>
<ellipse transform="translate(70.9,626.5) rotate(18)" rx="2.9" ry="2"/>
<ellipse transform="translate(118.8,626.2) rotate(68)" rx="2.9" ry="2"/>
<ellipse transform="translate(127.2,627.8) rotate(142)" rx="3" ry="2"/>
<ellipse transform="translate(137.1,624.2) rotate(165)" rx="3" ry="2"/>
<ellipse transform="translate(57.7,631.3) rotate(143)" rx="2.8" ry="1.9"/>
<ellipse transform="translate(78.8,632) rotate(66)" rx="2.4" ry="1.6"/>
<ellipse transform="translate(114.3,630.8) rotate(134)" rx="2.6" ry="1.8"/>
<ellipse transform="translate(140.6,629.2) rotate(106)" rx="3" ry="2"/>
<ellipse transform="translate(60.9,633.9) rotate(39)" rx="2.4" ry="1.7"/>
<ellipse transform="translate(65.1,636.8) rotate(29)" rx="2.6" ry="1.8"/>
<ellipse transform="translate(80.3,637.5) rotate(69)" rx="2.4" ry="1.6"/>
<ellipse transform="translate(86.4,636.2) rotate(112)" rx="2.9" ry="2"/>
<ellipse transform="translate(102.6,634.4) rotate(133)" rx="3" ry="2"/>
<ellipse transform="translate(121.8,636.4) rotate(8)" rx="2.5" ry="1.7"/>
<ellipse transform="translate(135.9,635.7) rotate(144)" rx="2.9" ry="2"/>
<ellipse transform="translate(72.9,639.3) rotate(138)" rx="2.3" ry="1.6"/>
<ellipse transform="translate(85.5,640.8) rotate(46)" rx="2.8" ry="1.9"/>
<ellipse transform="translate(147.4,641.8) rotate(110)" rx="2.3" ry="1.6"/>
</g>
<g fill="#4648b4" fill-opacity="0.7">
<ellipse transform="translate(58.7,549.3) rotate(94)" rx="2.8" ry="1.9"/>
<ellipse transform="translate(67.9,548.7) rotate(9)" rx="2.4" ry="1.6"/>
<ellipse transform="translate(73.4,549.3) rotate(168)" rx="2.4" ry="1.7"/>
<ellipse transform="translate(83.9,549.1) rotate(104)" rx="2.9" ry="2"/>
<ellipse transform="translate(97.8,549.1) rotate(81)" rx="2.4" ry="1.7"/>
<ellipse transform="translate(113.8,550.6) rotate(61)" rx="2.8" ry="1.9"/>
<ellipse transform="translate(124.1,547.8) rotate(17)" rx="2.5" ry="1.7"/>
<ellipse transform="translate(146,550.5) rotate(37)" rx="2.9" ry="2"/>
<ellipse transform="translate(65.1,555.6) rotate(32)" rx="2.3" ry="1.6"/>
<ellipse transform="translate(74.7,553.4) rotate(107)" rx="2.9" ry="2"/>
<ellipse transform="translate(102.5,555.7) rotate(140)" rx="2.4" ry="1.7"/>
<ellipse transform="translate(112.8,553.4) rotate(59)" rx="2.7" ry="1.8"/>
<ellipse transform="translate(123.2,553.7) rotate(125)" rx="2.6" ry="1.8"/>
<ellipse transform="translate(132.1,553.5) rotate(79)" rx="2.8" ry="1.9"/>
<ellipse transform="translate(137.1,553.1) rotate(83)" rx="2.4" ry="1.7"/>
<ellipse transform="translate(67.6,556.8) rotate(161)" rx="2.8" ry="1.9"/>
<ellipse transform="translate(72.3,557.1) rotate(67)" rx="2.8" ry="1.9"/>
<ellipse transform="translate(79.2,558.2) rotate(1)" rx="2.7" ry="1.9"/>
<ellipse transform="translate(87.6,558.5) rotate(118)" rx="2.6" ry="1.7"/>
<ellipse transform="translate(103.2,559.2) rotate(174)" rx="2.5" ry="1.7"/>
<ellipse transform="translate(131.7,558.1) rotate(148)" rx="2.3" ry="1.6"/>
<ellipse transform="translate(22.9,563.8) rotate(119)" rx="2.4" ry="1.7"/>
<ellipse transform="translate(33.9,563) rotate(168)" rx="2.9" ry="2"/>
<ellipse transform="translate(40.9,563.8) rotate(125)" rx="2.7" ry="1.9"/>
<ellipse transform="translate(55.3,563) rotate(25)" rx="2.3" ry="1.6"/>
<ellipse transform="translate(74.6,563.9) rotate(108)" rx="2.8" ry="1.9"/>
<ellipse transform="translate(92.4,561.9) rotate(14)" rx="2.9" ry="2"/>
<ellipse transform="translate(107,563.4) rotate(41)" rx="2.6" ry="1.7"/>
<ellipse transform="translate(52.2,567.8) rotate(112)" rx="2.9" ry="2"/>
<ellipse transform="translate(64.1,567.7) rotate(117)" rx="2.7" ry="1.8"/>
<ellipse transform="translate(89.1,567.5) rotate(33)" rx="2.5" ry="1.7"/>
<ellipse transform="translate(109.5,569.4) rotate(167)" rx="2.3" ry="1.6"/>
<ellipse transform="translate(125.2,566.4) rotate(150)" rx="2.6" ry="1.8"/>
<ellipse transform="translate(59.5,570.5) rotate(127)" rx="2.6" ry="1.8"/>
<ellipse transform="translate(72.1,571.9) rotate(41)" rx="2.8" ry="1.9"/>
<ellipse transform="translate(92,571.5) rotate(121)" rx="2.8" ry="1.9"/>
<ellipse transform="translate(97.7,571.3) rotate(77)" rx="2.3" ry="1.6"/>
<ellipse transform="translate(100.4,572.8) rotate(51)" rx="2.3" ry="1.6"/>
<ellipse transform="translate(123.1,572.9) rotate(37)" rx="2.9" ry="2"/>
<ellipse transform="translate(136.4,571.3) rotate(59)" rx="2.4" ry="1.7"/>
<ellipse transform="translate(32.6,576.6) rotate(54)" rx="2.8" ry="1.9"/>
<ellipse transform="translate(53.6,577.1) rotate(149)" rx="2.4" ry="1.6"/>
<ellipse transform="translate(85.2,577) rotate(174)" rx="2.4" ry="1.6"/>
<ellipse transform="translate(97.9,577.7) rotate(10)" rx="2.9" ry="2"/>
<ellipse transform="translate(38,580.7) rotate(29)" rx="2.6" ry="1.8"/>
<ellipse transform="translate(54.7,580.5) rotate(123)" rx="2.7" ry="1.9"/>
<ellipse transform="translate(84.6,581.2) rotate(110)" rx="2.7" ry="1.9"/>
<ellipse transform="translate(93.1,581.2) rotate(177)" rx="2.6" ry="1.8"/>
<ellipse transform="translate(126.7,579.6) rotate(44)" rx="2.4" ry="1.6"/>
<ellipse transform="translate(21.8,583.3) rotate(97)" rx="2.4" ry="1.6"/>
<ellipse transform="translate(42.8,583.9) rotate(147)" rx="2.3" ry="1.6"/>
<ellipse transform="translate(51.5,584.4) rotate(14)" rx="2.8" ry="1.9"/>
<ellipse transform="translate(57.4,585.6) rotate(147)" rx="2.9" ry="1.9"/>
<ellipse transform="translate(73.6,585.2) rotate(114)" rx="2.9" ry="2"/>
<ellipse transform="translate(102.5,585.6) rotate(102)" rx="2.3" ry="1.6"/>
<ellipse transform="translate(21.6,590.5) rotate(118)" rx="2.6" ry="1.7"/>
<ellipse transform="translate(30,589.7) rotate(175)" rx="2.5" ry="1.7"/>
<ellipse transform="translate(45.1,589.4) rotate(133)" rx="2.4" ry="1.6"/>
<ellipse transform="translate(50.2,590.4) rotate(22)" rx="2.6" ry="1.8"/>
<ellipse transform="translate(59,589) rotate(86)" rx="2.5" ry="1.7"/>
<ellipse transform="translate(66,591.2) rotate(101)" rx="2.7" ry="1.9"/>
<ellipse transform="translate(81.2,589.9) rotate(57)" rx="2.9" ry="2"/>
<ellipse transform="translate(112.3,589.7) rotate(147)" rx="2.5" ry="1.7"/>
<ellipse transform="translate(117.6,591.5) rotate(2)" rx="2.5" ry="1.7"/>
<ellipse transform="translate(133.2,591.4) rotate(10)" rx="3" ry="2"/>
<ellipse transform="translate(21.8,594.4) rotate(47)" rx="2.5" ry="1.7"/>
<ellipse transform="translate(57.4,595.4) rotate(57)" rx="2.5" ry="1.7"/>
<ellipse transform="translate(78,594) rotate(101)" rx="3" ry="2"/>
<ellipse transform="translate(83.9,595.8) rotate(125)" rx="2.7" ry="1.8"/>
<ellipse transform="translate(89.8,595.1) rotate(50)" rx="2.6" ry="1.8"/>
<ellipse transform="translate(94,594.8) rotate(165)" rx="2.3" ry="1.6"/>
<ellipse transform="translate(99.6,595.3) rotate(131)" rx="2.8" ry="1.9"/>
<ellipse transform="translate(104.8,595.6) rotate(151)" rx="2.6" ry="1.8"/>
<ellipse transform="translate(108.7,594.5) rotate(10)" rx="2.5" ry="1.7"/>
<ellipse transform="translate(115.3,594.8) rotate(176)" rx="2.9" ry="2"/>
<ellipse transform="translate(136.3,595.8) rotate(177)" rx="2.6" ry="1.8"/>
<ellipse transform="translate(113.7,598.9) rotate(158)" rx="2.3" ry="1.6"/>
<ellipse transform="translate(52.5,603.3) rotate(11)" rx="2.5" ry="1.7"/>
<ellipse transform="translate(59.4,604) rotate(47)" rx="2.4" ry="1.6"/>
<ellipse transform="translate(68.6,603.4) rotate(133)" rx="2.8" ry="1.9"/>
<ellipse transform="translate(74.7,604.1) rotate(106)" rx="2.9" ry="2"/>
<ellipse transform="translate(97.4,604.7) rotate(27)" rx="2.4" ry="1.6"/>
<ellipse transform="translate(113.1,605.2) rotate(174)" rx="2.5" ry="1.7"/>
<ellipse transform="translate(54.3,608.5) rotate(111)" rx="2.3" ry="1.6"/>
<ellipse transform="translate(100.9,608.4) rotate(5)" rx="2.9" ry="2"/>
<ellipse transform="translate(111.6,607.8) rotate(106)" rx="2.6" ry="1.8"/>
<ellipse transform="translate(63.3,612.8) rotate(39)" rx="2.8" ry="1.9"/>
<ellipse transform="translate(88.7,612.1) rotate(142)" rx="2.8" ry="1.9"/>
<ellipse transform="translate(125.2,613.5) rotate(55)" rx="2.7" ry="1.8"/>
<ellipse transform="translate(54.7,617.2) rotate(108)" rx="2.5" ry="1.7"/>
<ellipse transform="translate(59.9,618) rotate(48)" rx="2.8" ry="1.9"/>
<ellipse transform="translate(65.5,619) rotate(56)" rx="2.9" ry="2"/>
<ellipse transform="translate(71.1,617.2) rotate(18)" rx="2.6" ry="1.8"/>
<ellipse transform="translate(86.8,617.2) rotate(85)" rx="2.7" ry="1.9"/>
<ellipse transform="translate(112.4,617.3) rotate(64)" rx="2.7" ry="1.8"/>
<ellipse transform="translate(117.9,618.3) rotate(68)" rx="2.9" ry="2"/>
<ellipse transform="translate(123.6,616.4) rotate(134)" rx="2.4" ry="1.7"/>
<ellipse transform="translate(134.1,617.1) rotate(157)" rx="2.3" ry="1.6"/>
<ellipse transform="translate(54.3,624.1) rotate(133)" rx="2.8" ry="1.9"/>
<ellipse transform="translate(57.2,620.6) rotate(128)" rx="2.9" ry="2"/>
<ellipse transform="translate(74.1,623.1) rotate(162)" rx="2.9" ry="2"/>
<ellipse transform="translate(102.9,622.3) rotate(18)" rx="2.7" ry="1.9"/>
<ellipse transform="translate(120.8,622.4) rotate(103)" rx="2.8" ry="1.9"/>
<ellipse transform="translate(136.6,622.6) rotate(112)" rx="2.8" ry="1.9"/>
<ellipse transform="translate(140.5,623.3) rotate(5)" rx="3" ry="2"/>
<ellipse transform="translate(56,627.4) rotate(116)" rx="2.4" ry="1.7"/>
<ellipse transform="translate(61.7,626.5) rotate(134)" rx="2.5" ry="1.7"/>
<ellipse transform="translate(64.7,628.6) rotate(83)" rx="2.5" ry="1.7"/>
<ellipse transform="translate(86.8,625.4) rotate(73)" rx="2.4" ry="1.7"/>
<ellipse transform="translate(98.2,625.5) rotate(93)" rx="2.4" ry="1.6"/>
<ellipse transform="translate(134.5,628.3) rotate(27)" rx="2.3" ry="1.6"/>
<ellipse transform="translate(20.8,631.6) rotate(15)" rx="2.5" ry="1.7"/>
<ellipse transform="translate(95.4,631.2) rotate(98)" rx="2.6" ry="1.8"/>
<ellipse transform="translate(98,632.4) rotate(141)" rx="2.3" ry="1.6"/>
<ellipse transform="translate(103.9,631.3) rotate(126)" rx="2.7" ry="1.8"/>
<ellipse transform="translate(110.1,631) rotate(38)" rx="2.9" ry="2"/>
<ellipse transform="translate(70.4,635.8) rotate(118)" rx="2.5" ry="1.7"/>
<ellipse transform="translate(90.2,634.5) rotate(91)" rx="2.8" ry="1.9"/>
<ellipse transform="translate(96.8,637.9) rotate(81)" rx="2.9" ry="2"/>
<ellipse transform="translate(111.7,634.8) rotate(116)" rx="2.8" ry="1.9"/>
<ellipse transform="translate(32.6,641.3) rotate(86)" rx="3" ry="2"/>
<ellipse transform="translate(51.9,640.2) rotate(169)" rx="2.8" ry="1.9"/>
<ellipse transform="translate(57.9,642.4) rotate(129)" rx="2.5" ry="1.7"/>
<ellipse transform="translate(62.8,639) rotate(127)" rx="2.8" ry="1.9"/>
<ellipse transform="translate(68.2,639.6) rotate(150)" rx="3" ry="2"/>
<ellipse transform="translate(93,641.4) rotate(142)" rx="2.9" ry="2"/>
<ellipse transform="translate(99.5,639) rotate(12)" rx="2.8" ry="1.9"/>
</g>
</g>
<g filter="url(#fb1)">
<ellipse cx="110.2" cy="561.6" rx="6" ry="4.5" fill="#f02848" fill-opacity="0.80"/>
<ellipse cx="130.2" cy="569.6" rx="5" ry="6" fill="#f02848" fill-opacity="0.75"/>
<ellipse cx="120.2" cy="578.6" rx="5" ry="4" fill="#f02848" fill-opacity="0.55"/>
<ellipse cx="29.2" cy="587.6" rx="3.2" ry="6" fill="#ff5078" fill-opacity="0.95"/>
<ellipse cx="28.2" cy="573.6" rx="3" ry="4" fill="#f02848" fill-opacity="0.75"/>
<ellipse cx="86.2" cy="573.6" rx="5.5" ry="3.5" fill="#ff5078" fill-opacity="0.95"/>
<ellipse cx="102.2" cy="593.6" rx="4" ry="6" fill="#ff5078" fill-opacity="0.95"/>
<ellipse cx="57.2" cy="618.6" rx="3.5" ry="3" fill="#f02848" fill-opacity="0.95"/>
<ellipse cx="59.2" cy="626.6" rx="3.8" ry="3.8" fill="#ff5078" fill-opacity="0.95"/>
<ellipse cx="76.2" cy="616.6" rx="3" ry="7" fill="#f02848" fill-opacity="0.75"/>
<ellipse cx="117.2" cy="618.6" rx="4" ry="3" fill="#f02848" fill-opacity="0.65"/>
<ellipse cx="95.2" cy="636.6" rx="8" ry="4" fill="#f02848" fill-opacity="0.60"/>
<ellipse cx="68.2" cy="588.6" rx="6" ry="6" fill="#b0102c" fill-opacity="0.60"/>
<ellipse cx="136.2" cy="588.6" rx="4" ry="5" fill="#f02848" fill-opacity="0.60"/>
<ellipse cx="78.2" cy="633.6" rx="4" ry="4" fill="#f02848" fill-opacity="0.75"/>
<ellipse cx="90.2" cy="626.6" rx="4" ry="4" fill="#f02848" fill-opacity="0.60"/>
<ellipse cx="124.2" cy="628.6" rx="3" ry="3" fill="#f02848" fill-opacity="0.60"/>
<ellipse cx="104.2" cy="598.6" rx="3" ry="3" fill="#f02848" fill-opacity="0.60"/>
<ellipse cx="82.2" cy="603.6" rx="5" ry="5" fill="#b0102c" fill-opacity="0.55"/>
<ellipse cx="138.2" cy="558.6" rx="4" ry="4" fill="#f02848" fill-opacity="0.60"/>
</g>
</g>
<line x1="22.2" y1="639.4" x2="56.2" y2="639.4" stroke="#9a9a9a" stroke-width="0.5" stroke-opacity="0.8"/>
<clipPath id="cf1"><rect x="147.1" y="548.6" width="124.8" height="93.4"/></clipPath>
<rect x="147.1" y="548.6" width="124.8" height="93.4" fill="#06050f"/>
<g clip-path="url(#cf1)">
<g filter="url(#fb3)">
<ellipse cx="197.1" cy="588.6" rx="16" ry="12" fill="#3a2a80" fill-opacity="0.45"/>
<ellipse cx="217.1" cy="573.6" rx="22" ry="14" fill="#201040" fill-opacity="0.35"/>
<ellipse cx="189.1" cy="568.6" rx="8" ry="6" fill="#801030" fill-opacity="0.45"/>
<ellipse cx="199.1" cy="576.6" rx="6" ry="5" fill="#801030" fill-opacity="0.40"/>
<ellipse cx="169.1" cy="586.6" rx="5" ry="4" fill="#801030" fill-opacity="0.40"/>
<ellipse cx="229.1" cy="578.6" rx="5" ry="5" fill="#801030" fill-opacity="0.35"/>
<ellipse cx="217.1" cy="570.6" rx="10" ry="8" fill="#2a1a60" fill-opacity="0.40"/>
</g>
<g filter="url(#fb0)">
<g fill="#3a40a0" fill-opacity="0.4">
<circle cx="174.1" cy="560.6" r="2"/>
<circle cx="164.1" cy="614.6" r="2.2"/>
<circle cx="230.1" cy="584.6" r="2"/>
<circle cx="235.1" cy="558.6" r="2"/>
<circle cx="159.1" cy="568.6" r="1.8"/>
<circle cx="207.1" cy="603.6" r="1.8"/>
<circle cx="242.1" cy="568.6" r="2.2"/>
<circle cx="171.1" cy="556.6" r="2"/>
<circle cx="183.1" cy="610.6" r="2"/>
<circle cx="222.1" cy="618.6" r="2"/>
<circle cx="262.1" cy="628.6" r="2"/>
<circle cx="247.1" cy="593.6" r="2"/>
<circle cx="192.1" cy="628.6" r="2"/>
</g>
<g fill="#4a58c8" fill-opacity="0.65">
<circle cx="199.1" cy="560.6" r="2"/>
<circle cx="211.1" cy="565.6" r="2.2"/>
<circle cx="213.1" cy="570.6" r="2.2"/>
<circle cx="257.1" cy="610.6" r="2.4"/>
<circle cx="177.1" cy="600.6" r="2.2"/>
</g>
<g fill="#6a70d8" fill-opacity="0.8">
<circle cx="217.1" cy="574.6" r="2.6"/>
<circle cx="253.1" cy="635.6" r="2.6"/>
</g>
</g>
<g filter="url(#fb1)">
<ellipse cx="186.1" cy="590.6" rx="3" ry="3" fill="#f02848" fill-opacity="0.85"/>
<ellipse cx="188.1" cy="566.6" rx="3" ry="3" fill="#b0102c" fill-opacity="0.60"/>
<ellipse cx="199.1" cy="587.6" rx="4" ry="6" fill="#7080f0" fill-opacity="0.90"/>
<ellipse cx="203.1" cy="592.6" rx="4" ry="3" fill="#7080f0" fill-opacity="0.80"/>
<ellipse cx="195.1" cy="582.6" rx="2.5" ry="2.5" fill="#9a9af0" fill-opacity="0.90"/>
<ellipse cx="197.1" cy="576.6" rx="2" ry="2" fill="#b0102c" fill-opacity="0.50"/>
<ellipse cx="171.8" cy="558.5" rx="4" ry="2.2" fill="#b81838" fill-opacity="0.30"/>
<ellipse cx="183.4" cy="564.4" rx="4" ry="2.2" fill="#b81838" fill-opacity="0.40"/>
<ellipse cx="207.2" cy="561.5" rx="4.3" ry="2.4" fill="#b81838" fill-opacity="0.35"/>
<ellipse cx="213" cy="569.3" rx="4.3" ry="2.4" fill="#b81838" fill-opacity="0.40"/>
<ellipse cx="218.6" cy="578.1" rx="4.7" ry="2.6" fill="#b81838" fill-opacity="0.35"/>
<ellipse cx="228.2" cy="580.3" rx="4" ry="2.2" fill="#b81838" fill-opacity="0.40"/>
<ellipse cx="178.7" cy="596" rx="4" ry="2.2" fill="#b81838" fill-opacity="0.30"/>
<ellipse cx="169.3" cy="585.5" rx="4" ry="2.2" fill="#b81838" fill-opacity="0.45"/>
<ellipse cx="237.3" cy="562.1" rx="3.6" ry="2" fill="#b81838" fill-opacity="0.30"/>
<ellipse cx="246.7" cy="592.7" rx="3.6" ry="2" fill="#b81838" fill-opacity="0.25"/>
<ellipse cx="256.9" cy="609.5" rx="4.3" ry="2.4" fill="#b81838" fill-opacity="0.30"/>
<ellipse cx="253.4" cy="634" rx="4.3" ry="2.4" fill="#b81838" fill-opacity="0.30"/>
<ellipse cx="164.7" cy="614" rx="4" ry="2.2" fill="#b81838" fill-opacity="0.35"/>
<ellipse cx="210.6" cy="598.4" rx="3.6" ry="2" fill="#b81838" fill-opacity="0.30"/>
<ellipse cx="222.5" cy="608.8" rx="3.6" ry="2" fill="#b81838" fill-opacity="0.30"/>
<ellipse cx="195.8" cy="610.7" rx="3.6" ry="2" fill="#b81838" fill-opacity="0.30"/>
<ellipse cx="158.4" cy="571" rx="3.6" ry="2" fill="#b81838" fill-opacity="0.20"/>
<ellipse cx="242" cy="572.5" rx="4" ry="2.2" fill="#b81838" fill-opacity="0.30"/>
<ellipse cx="203.3" cy="555.8" rx="3.6" ry="2" fill="#b81838" fill-opacity="0.30"/>
<ellipse cx="190.2" cy="619.8" rx="3.6" ry="2" fill="#b81838" fill-opacity="0.25"/>
</g>
<g filter="url(#fb0)">
<ellipse transform="translate(173.1,558.6) rotate(77)" rx="2.4" ry="1.7" fill="#5a5cc8" fill-opacity="0.50"/>
<ellipse transform="translate(183.1,564.6) rotate(93)" rx="2.4" ry="1.7" fill="#5a5cc8" fill-opacity="0.45"/>
<ellipse transform="translate(207.1,562.6) rotate(171)" rx="2.6" ry="1.8" fill="#5a5cc8" fill-opacity="0.60"/>
<ellipse transform="translate(213.1,570.6) rotate(27)" rx="2.6" ry="1.8" fill="#5a5cc8" fill-opacity="0.65"/>
<ellipse transform="translate(219.1,576.6) rotate(61)" rx="2.9" ry="2" fill="#5a5cc8" fill-opacity="0.60"/>
<ellipse transform="translate(229.1,580.6) rotate(160)" rx="2.4" ry="1.7" fill="#5a5cc8" fill-opacity="0.50"/>
<ellipse transform="translate(177.1,596.6) rotate(71)" rx="2.4" ry="1.7" fill="#5a5cc8" fill-opacity="0.50"/>
<ellipse transform="translate(169.1,586.6) rotate(99)" rx="2.4" ry="1.7" fill="#5a5cc8" fill-opacity="0.40"/>
<ellipse transform="translate(237.1,562.6) rotate(163)" rx="2.2" ry="1.5" fill="#5a5cc8" fill-opacity="0.40"/>
<ellipse transform="translate(247.1,592.6) rotate(152)" rx="2.2" ry="1.5" fill="#5a5cc8" fill-opacity="0.40"/>
<ellipse transform="translate(255.1,610.6) rotate(94)" rx="2.6" ry="1.8" fill="#5a5cc8" fill-opacity="0.55"/>
<ellipse transform="translate(252.1,634.6) rotate(138)" rx="2.6" ry="1.8" fill="#5a5cc8" fill-opacity="0.60"/>
<ellipse transform="translate(164.1,614.6) rotate(111)" rx="2.4" ry="1.7" fill="#5a5cc8" fill-opacity="0.45"/>
<ellipse transform="translate(209.1,598.6) rotate(97)" rx="2.2" ry="1.5" fill="#5a5cc8" fill-opacity="0.40"/>
<ellipse transform="translate(222.1,608.6) rotate(155)" rx="2.2" ry="1.5" fill="#5a5cc8" fill-opacity="0.35"/>
<ellipse transform="translate(195.1,610.6) rotate(121)" rx="2.2" ry="1.5" fill="#5a5cc8" fill-opacity="0.35"/>
<ellipse transform="translate(159.1,570.6) rotate(124)" rx="2.2" ry="1.5" fill="#5a5cc8" fill-opacity="0.35"/>
<ellipse transform="translate(242.1,572.6) rotate(57)" rx="2.4" ry="1.7" fill="#5a5cc8" fill-opacity="0.45"/>
<ellipse transform="translate(204.1,556.6) rotate(123)" rx="2.2" ry="1.5" fill="#5a5cc8" fill-opacity="0.40"/>
<ellipse transform="translate(189.1,620.6) rotate(25)" rx="2.2" ry="1.5" fill="#5a5cc8" fill-opacity="0.30"/>
</g>
</g>
<line x1="149.1" y1="639.4" x2="183.1" y2="639.4" stroke="#9a9a9a" stroke-width="0.5" stroke-opacity="0.8"/>
<clipPath id="cf2"><rect x="274.2" y="548.6" width="125.1" height="93.4"/></clipPath>
<rect x="274.2" y="548.6" width="125.1" height="93.4" fill="#07061a"/>
<g clip-path="url(#cf2)">
<g filter="url(#fb3)">
<ellipse cx="369.2" cy="598.6" rx="32" ry="42" fill="#1c1c68" fill-opacity="0.60"/>
<ellipse cx="334.2" cy="578.6" rx="25" ry="20" fill="#181850" fill-opacity="0.50"/>
</g>
<g filter="url(#fb0)">
<g fill="#3038a0" fill-opacity="0.45">
<ellipse transform="translate(289.4,549.1) rotate(49)" rx="2.4" ry="1.7"/>
<ellipse transform="translate(310.1,548.8) rotate(150)" rx="2.1" ry="1.4"/>
<ellipse transform="translate(326.4,549.4) rotate(123)" rx="2.6" ry="1.8"/>
<ellipse transform="translate(329,550) rotate(136)" rx="2.2" ry="1.5"/>
<ellipse transform="translate(335.4,549.1) rotate(109)" rx="2.1" ry="1.5"/>
<ellipse transform="translate(361.4,549.9) rotate(57)" rx="2.3" ry="1.6"/>
<ellipse transform="translate(368.8,551.6) rotate(9)" rx="2.3" ry="1.6"/>
<ellipse transform="translate(345.4,552.3) rotate(134)" rx="2.6" ry="1.7"/>
<ellipse transform="translate(352.4,556.8) rotate(127)" rx="2.2" ry="1.5"/>
<ellipse transform="translate(362.9,553.3) rotate(99)" rx="2.7" ry="1.9"/>
<ellipse transform="translate(373.2,554.3) rotate(128)" rx="2.2" ry="1.5"/>
<ellipse transform="translate(393,553.3) rotate(159)" rx="2.3" ry="1.6"/>
<ellipse transform="translate(296.3,559.3) rotate(156)" rx="2.7" ry="1.9"/>
<ellipse transform="translate(310.8,557.8) rotate(11)" rx="2.6" ry="1.8"/>
<ellipse transform="translate(325.5,558.6) rotate(109)" rx="2.7" ry="1.8"/>
<ellipse transform="translate(354.1,559.4) rotate(125)" rx="2.6" ry="1.8"/>
<ellipse transform="translate(360,556.8) rotate(80)" rx="2.4" ry="1.7"/>
<ellipse transform="translate(365.9,558.6) rotate(150)" rx="2.3" ry="1.6"/>
<ellipse transform="translate(375.4,558.2) rotate(102)" rx="2.3" ry="1.5"/>
<ellipse transform="translate(389.7,558.5) rotate(116)" rx="2.6" ry="1.8"/>
<ellipse transform="translate(312.9,562.9) rotate(164)" rx="2.4" ry="1.6"/>
<ellipse transform="translate(357.9,562.3) rotate(122)" rx="2.1" ry="1.4"/>
<ellipse transform="translate(388.8,562.1) rotate(145)" rx="2.3" ry="1.6"/>
<ellipse transform="translate(392.5,562.8) rotate(3)" rx="2.1" ry="1.4"/>
<ellipse transform="translate(279.6,568.2) rotate(53)" rx="2.5" ry="1.7"/>
<ellipse transform="translate(296.1,568.4) rotate(157)" rx="2.5" ry="1.7"/>
<ellipse transform="translate(318.8,566) rotate(29)" rx="2.6" ry="1.7"/>
<ellipse transform="translate(331,568) rotate(40)" rx="2.3" ry="1.6"/>
<ellipse transform="translate(335.4,566.2) rotate(33)" rx="2.4" ry="1.7"/>
<ellipse transform="translate(340.9,567.9) rotate(114)" rx="2.5" ry="1.7"/>
<ellipse transform="translate(356,567.5) rotate(103)" rx="2.4" ry="1.6"/>
<ellipse transform="translate(371.2,565.8) rotate(171)" rx="2.5" ry="1.7"/>
<ellipse transform="translate(389.5,566.2) rotate(153)" rx="2.5" ry="1.7"/>
<ellipse transform="translate(296.4,572.1) rotate(29)" rx="2.1" ry="1.4"/>
<ellipse transform="translate(301.2,570.1) rotate(154)" rx="2.3" ry="1.6"/>
<ellipse transform="translate(306.7,570.4) rotate(54)" rx="2.2" ry="1.5"/>
<ellipse transform="translate(337.7,571) rotate(29)" rx="2.1" ry="1.5"/>
<ellipse transform="translate(377.9,573.2) rotate(9)" rx="2.5" ry="1.7"/>
<ellipse transform="translate(398.1,572.7) rotate(104)" rx="2.7" ry="1.9"/>
<ellipse transform="translate(304.8,574.7) rotate(105)" rx="2.3" ry="1.6"/>
<ellipse transform="translate(310.4,575.6) rotate(18)" rx="2.4" ry="1.7"/>
<ellipse transform="translate(323.9,575.8) rotate(69)" rx="2.1" ry="1.4"/>
<ellipse transform="translate(330.3,575.7) rotate(21)" rx="2.1" ry="1.4"/>
<ellipse transform="translate(369.3,574.2) rotate(124)" rx="2.6" ry="1.8"/>
<ellipse transform="translate(384.6,577.2) rotate(166)" rx="2.2" ry="1.5"/>
<ellipse transform="translate(287.1,580) rotate(138)" rx="2.3" ry="1.6"/>
<ellipse transform="translate(323.3,579.8) rotate(138)" rx="2.2" ry="1.5"/>
<ellipse transform="translate(377.9,580.6) rotate(95)" rx="2.1" ry="1.4"/>
<ellipse transform="translate(383.1,580.2) rotate(87)" rx="2.3" ry="1.6"/>
<ellipse transform="translate(387.3,579.8) rotate(144)" rx="2.3" ry="1.6"/>
<ellipse transform="translate(391.3,580.4) rotate(80)" rx="2.6" ry="1.8"/>
<ellipse transform="translate(313.8,583.5) rotate(0)" rx="2.5" ry="1.7"/>
<ellipse transform="translate(355.9,584.5) rotate(38)" rx="2.2" ry="1.5"/>
<ellipse transform="translate(359.5,583.9) rotate(121)" rx="2.6" ry="1.8"/>
<ellipse transform="translate(371.1,583.4) rotate(20)" rx="2.3" ry="1.6"/>
<ellipse transform="translate(326.6,588.1) rotate(96)" rx="2.4" ry="1.7"/>
<ellipse transform="translate(332.8,589.2) rotate(74)" rx="2.2" ry="1.5"/>
<ellipse transform="translate(337.4,591.4) rotate(3)" rx="2.6" ry="1.8"/>
<ellipse transform="translate(371.1,590.8) rotate(73)" rx="2.6" ry="1.8"/>
<ellipse transform="translate(392.4,587.8) rotate(38)" rx="2.1" ry="1.4"/>
<ellipse transform="translate(334.8,593.7) rotate(129)" rx="2.2" ry="1.5"/>
<ellipse transform="translate(369.9,593) rotate(91)" rx="2.1" ry="1.4"/>
<ellipse transform="translate(385.4,593.4) rotate(72)" rx="2.3" ry="1.6"/>
<ellipse transform="translate(292.7,597.2) rotate(40)" rx="2.7" ry="1.9"/>
<ellipse transform="translate(338.7,597.1) rotate(147)" rx="2.5" ry="1.7"/>
<ellipse transform="translate(372.6,597) rotate(88)" rx="2.2" ry="1.5"/>
<ellipse transform="translate(392.2,598.7) rotate(0)" rx="2.5" ry="1.7"/>
<ellipse transform="translate(396.8,598.2) rotate(162)" rx="2.6" ry="1.8"/>
<ellipse transform="translate(304.8,600.3) rotate(129)" rx="2.5" ry="1.7"/>
<ellipse transform="translate(343.4,600.3) rotate(56)" rx="2.1" ry="1.5"/>
<ellipse transform="translate(349.7,600.3) rotate(50)" rx="2.1" ry="1.4"/>
<ellipse transform="translate(355,601.7) rotate(84)" rx="2.7" ry="1.9"/>
<ellipse transform="translate(360.5,601) rotate(147)" rx="2.6" ry="1.8"/>
<ellipse transform="translate(394.4,601.6) rotate(100)" rx="2.5" ry="1.7"/>
<ellipse transform="translate(297.7,607.2) rotate(14)" rx="2.5" ry="1.7"/>
<ellipse transform="translate(347.7,607.3) rotate(26)" rx="2.1" ry="1.4"/>
<ellipse transform="translate(384.3,606.2) rotate(50)" rx="2.7" ry="1.8"/>
<ellipse transform="translate(369.6,611.6) rotate(109)" rx="2.5" ry="1.7"/>
<ellipse transform="translate(384.3,611) rotate(49)" rx="2.4" ry="1.6"/>
<ellipse transform="translate(390,610.5) rotate(14)" rx="2.5" ry="1.7"/>
<ellipse transform="translate(306.4,620.6) rotate(156)" rx="2.1" ry="1.4"/>
<ellipse transform="translate(310.6,619) rotate(29)" rx="2.3" ry="1.6"/>
<ellipse transform="translate(344.7,620.1) rotate(120)" rx="2.6" ry="1.8"/>
<ellipse transform="translate(356.4,619.8) rotate(14)" rx="2.5" ry="1.7"/>
<ellipse transform="translate(364.2,620) rotate(163)" rx="2.4" ry="1.6"/>
<ellipse transform="translate(370.5,620.7) rotate(42)" rx="2.5" ry="1.7"/>
<ellipse transform="translate(303.2,624) rotate(38)" rx="2.2" ry="1.5"/>
<ellipse transform="translate(336,624.2) rotate(163)" rx="2.7" ry="1.8"/>
<ellipse transform="translate(357.1,622.7) rotate(52)" rx="2.5" ry="1.7"/>
<ellipse transform="translate(362,623.1) rotate(87)" rx="2.5" ry="1.7"/>
<ellipse transform="translate(368.1,623.2) rotate(114)" rx="2.5" ry="1.7"/>
<ellipse transform="translate(377.8,623.1) rotate(106)" rx="2.5" ry="1.7"/>
<ellipse transform="translate(333.4,626.7) rotate(166)" rx="2.1" ry="1.4"/>
<ellipse transform="translate(349,627.2) rotate(39)" rx="2.3" ry="1.6"/>
<ellipse transform="translate(355.3,627.3) rotate(62)" rx="2.4" ry="1.6"/>
<ellipse transform="translate(380.8,629.1) rotate(122)" rx="2.6" ry="1.8"/>
<ellipse transform="translate(302.8,632.2) rotate(105)" rx="2.4" ry="1.7"/>
<ellipse transform="translate(311.9,632.3) rotate(109)" rx="2.3" ry="1.6"/>
<ellipse transform="translate(321.4,631.8) rotate(149)" rx="2.7" ry="1.9"/>
<ellipse transform="translate(382.5,632) rotate(178)" rx="2.4" ry="1.6"/>
<ellipse transform="translate(298.5,636.6) rotate(101)" rx="2.1" ry="1.4"/>
<ellipse transform="translate(330.7,636.5) rotate(167)" rx="2.4" ry="1.6"/>
<ellipse transform="translate(350.3,635.6) rotate(29)" rx="2.2" ry="1.5"/>
<ellipse transform="translate(355.9,635.4) rotate(110)" rx="2.7" ry="1.9"/>
<ellipse transform="translate(359.3,636.8) rotate(80)" rx="2.3" ry="1.6"/>
<ellipse transform="translate(380.4,636.8) rotate(149)" rx="2.1" ry="1.4"/>
<ellipse transform="translate(281.9,640.4) rotate(163)" rx="2.1" ry="1.4"/>
<ellipse transform="translate(332.9,639) rotate(10)" rx="2.1" ry="1.4"/>
<ellipse transform="translate(377.6,639.9) rotate(103)" rx="2.2" ry="1.5"/>
<ellipse transform="translate(392.1,641.1) rotate(66)" rx="2.7" ry="1.9"/>
<ellipse transform="translate(397.5,639.7) rotate(94)" rx="2.1" ry="1.4"/>
</g>
<g fill="#3840b0" fill-opacity="0.55">
<ellipse transform="translate(340,550.8) rotate(27)" rx="2.6" ry="1.8"/>
<ellipse transform="translate(351.4,550.6) rotate(60)" rx="2.5" ry="1.7"/>
<ellipse transform="translate(356.1,550.8) rotate(42)" rx="2.1" ry="1.4"/>
<ellipse transform="translate(374.6,549.7) rotate(55)" rx="2.7" ry="1.9"/>
<ellipse transform="translate(383.5,550.5) rotate(168)" rx="2.4" ry="1.6"/>
<ellipse transform="translate(312.9,553.6) rotate(143)" rx="2.5" ry="1.7"/>
<ellipse transform="translate(331.6,555.1) rotate(52)" rx="2.1" ry="1.5"/>
<ellipse transform="translate(341.9,552.7) rotate(179)" rx="2.7" ry="1.9"/>
<ellipse transform="translate(368.7,553.1) rotate(137)" rx="2.6" ry="1.8"/>
<ellipse transform="translate(375.7,552.1) rotate(1)" rx="2.2" ry="1.5"/>
<ellipse transform="translate(275.1,557.4) rotate(20)" rx="2.5" ry="1.7"/>
<ellipse transform="translate(340.4,559.4) rotate(168)" rx="2.6" ry="1.8"/>
<ellipse transform="translate(386.3,558.1) rotate(155)" rx="2.5" ry="1.7"/>
<ellipse transform="translate(396.8,562.1) rotate(2)" rx="2.7" ry="1.8"/>
<ellipse transform="translate(324.8,567.5) rotate(25)" rx="2.4" ry="1.6"/>
<ellipse transform="translate(395,565.6) rotate(76)" rx="2.6" ry="1.8"/>
<ellipse transform="translate(327.5,569.9) rotate(94)" rx="2.6" ry="1.8"/>
<ellipse transform="translate(331.2,570.4) rotate(80)" rx="2.1" ry="1.4"/>
<ellipse transform="translate(348.1,571.7) rotate(85)" rx="2.7" ry="1.8"/>
<ellipse transform="translate(368,569.9) rotate(138)" rx="2.6" ry="1.8"/>
<ellipse transform="translate(372.4,571) rotate(163)" rx="2" ry="1.4"/>
<ellipse transform="translate(382.9,570.8) rotate(150)" rx="2.3" ry="1.5"/>
<ellipse transform="translate(319.2,576.8) rotate(179)" rx="2.1" ry="1.4"/>
<ellipse transform="translate(360.6,576.4) rotate(0)" rx="2.6" ry="1.8"/>
<ellipse transform="translate(365.3,576.9) rotate(133)" rx="2.5" ry="1.7"/>
<ellipse transform="translate(375.4,576.4) rotate(163)" rx="2.7" ry="1.8"/>
<ellipse transform="translate(292.4,579.9) rotate(24)" rx="2.2" ry="1.5"/>
<ellipse transform="translate(306.5,582) rotate(15)" rx="2.4" ry="1.7"/>
<ellipse transform="translate(328.9,579.2) rotate(40)" rx="2.7" ry="1.9"/>
<ellipse transform="translate(353.2,578.6) rotate(138)" rx="2.6" ry="1.8"/>
<ellipse transform="translate(367.8,579.9) rotate(74)" rx="2.4" ry="1.7"/>
<ellipse transform="translate(310.2,583.6) rotate(3)" rx="2.7" ry="1.8"/>
<ellipse transform="translate(320.1,584.3) rotate(87)" rx="2.4" ry="1.6"/>
<ellipse transform="translate(326.2,583.8) rotate(97)" rx="2.6" ry="1.8"/>
<ellipse transform="translate(365.7,584.8) rotate(119)" rx="2.7" ry="1.8"/>
<ellipse transform="translate(394.6,583.9) rotate(32)" rx="2.8" ry="1.9"/>
<ellipse transform="translate(357.7,588.6) rotate(105)" rx="2.8" ry="1.9"/>
<ellipse transform="translate(367.6,589.1) rotate(11)" rx="2.1" ry="1.4"/>
<ellipse transform="translate(398.5,588.7) rotate(81)" rx="2.7" ry="1.8"/>
<ellipse transform="translate(325.6,593.3) rotate(61)" rx="2.1" ry="1.4"/>
<ellipse transform="translate(331.3,592.4) rotate(82)" rx="2.6" ry="1.8"/>
<ellipse transform="translate(346.1,594.7) rotate(30)" rx="2.5" ry="1.7"/>
<ellipse transform="translate(359.5,592.4) rotate(124)" rx="2.5" ry="1.7"/>
<ellipse transform="translate(380.1,592.3) rotate(152)" rx="2.4" ry="1.6"/>
<ellipse transform="translate(322.7,597.9) rotate(4)" rx="2.3" ry="1.6"/>
<ellipse transform="translate(332.9,597) rotate(147)" rx="2.6" ry="1.8"/>
<ellipse transform="translate(346.9,597.2) rotate(20)" rx="2.7" ry="1.8"/>
<ellipse transform="translate(357.8,599.1) rotate(120)" rx="2.7" ry="1.8"/>
<ellipse transform="translate(363.2,596.2) rotate(81)" rx="2.5" ry="1.7"/>
<ellipse transform="translate(290.5,600.6) rotate(15)" rx="2.4" ry="1.6"/>
<ellipse transform="translate(294.7,602) rotate(126)" rx="2.6" ry="1.8"/>
<ellipse transform="translate(364.3,600.6) rotate(65)" rx="2.6" ry="1.8"/>
<ellipse transform="translate(371.1,603.1) rotate(126)" rx="2.3" ry="1.6"/>
<ellipse transform="translate(389.5,601.8) rotate(159)" rx="2.4" ry="1.6"/>
<ellipse transform="translate(307.4,605.9) rotate(43)" rx="2.5" ry="1.7"/>
<ellipse transform="translate(341.8,605.6) rotate(43)" rx="2.1" ry="1.4"/>
<ellipse transform="translate(358.3,605.1) rotate(121)" rx="2.4" ry="1.7"/>
<ellipse transform="translate(378.3,607.2) rotate(131)" rx="2.6" ry="1.8"/>
<ellipse transform="translate(387.3,605.3) rotate(177)" rx="2.3" ry="1.6"/>
<ellipse transform="translate(392.7,605.2) rotate(139)" rx="2.2" ry="1.5"/>
<ellipse transform="translate(329.1,610.6) rotate(74)" rx="2.3" ry="1.6"/>
<ellipse transform="translate(335.7,610.7) rotate(38)" rx="2.1" ry="1.4"/>
<ellipse transform="translate(312.2,613.5) rotate(106)" rx="2.7" ry="1.8"/>
<ellipse transform="translate(323.4,613.3) rotate(12)" rx="2.3" ry="1.6"/>
<ellipse transform="translate(328.8,615) rotate(2)" rx="2.3" ry="1.5"/>
<ellipse transform="translate(334,614.5) rotate(21)" rx="2.8" ry="1.9"/>
<ellipse transform="translate(349.1,615.1) rotate(58)" rx="2.1" ry="1.4"/>
<ellipse transform="translate(356.8,614.9) rotate(98)" rx="2.3" ry="1.6"/>
<ellipse transform="translate(386.6,614.8) rotate(102)" rx="2.7" ry="1.8"/>
<ellipse transform="translate(397.3,614.4) rotate(146)" rx="2.6" ry="1.8"/>
<ellipse transform="translate(325.2,619) rotate(132)" rx="2.2" ry="1.5"/>
<ellipse transform="translate(336.3,619.8) rotate(74)" rx="2.2" ry="1.5"/>
<ellipse transform="translate(350.4,617.5) rotate(106)" rx="2.7" ry="1.9"/>
<ellipse transform="translate(375.3,618.5) rotate(87)" rx="2.3" ry="1.6"/>
<ellipse transform="translate(380.5,619.3) rotate(93)" rx="2.5" ry="1.7"/>
<ellipse transform="translate(389.9,620.8) rotate(153)" rx="2.5" ry="1.7"/>
<ellipse transform="translate(312.8,624.6) rotate(104)" rx="2.6" ry="1.8"/>
<ellipse transform="translate(327.4,624.3) rotate(73)" rx="2.1" ry="1.5"/>
<ellipse transform="translate(341.8,623.7) rotate(41)" rx="2.6" ry="1.8"/>
<ellipse transform="translate(372.5,624.7) rotate(94)" rx="2.3" ry="1.6"/>
<ellipse transform="translate(382.2,623.3) rotate(155)" rx="2.1" ry="1.4"/>
<ellipse transform="translate(391.5,623.8) rotate(47)" rx="2.2" ry="1.5"/>
<ellipse transform="translate(290.3,628.7) rotate(141)" rx="2.1" ry="1.4"/>
<ellipse transform="translate(344.6,628.7) rotate(45)" rx="2.3" ry="1.6"/>
<ellipse transform="translate(360,626) rotate(178)" rx="2.6" ry="1.7"/>
<ellipse transform="translate(365.3,628.5) rotate(164)" rx="2.3" ry="1.6"/>
<ellipse transform="translate(374.6,627.2) rotate(85)" rx="2.7" ry="1.8"/>
<ellipse transform="translate(391.1,627.6) rotate(109)" rx="2.1" ry="1.4"/>
<ellipse transform="translate(395.3,626.1) rotate(50)" rx="2.1" ry="1.4"/>
<ellipse transform="translate(297.5,632.1) rotate(164)" rx="2.5" ry="1.7"/>
<ellipse transform="translate(328.5,634.2) rotate(135)" rx="2.6" ry="1.8"/>
<ellipse transform="translate(333.2,631.2) rotate(72)" rx="2.5" ry="1.7"/>
<ellipse transform="translate(342.7,633) rotate(101)" rx="2.3" ry="1.5"/>
<ellipse transform="translate(367.1,631.8) rotate(143)" rx="2.8" ry="1.9"/>
<ellipse transform="translate(378.2,631.9) rotate(158)" rx="2.3" ry="1.6"/>
<ellipse transform="translate(392.5,631.6) rotate(2)" rx="2.7" ry="1.9"/>
<ellipse transform="translate(305.1,637.1) rotate(72)" rx="2.7" ry="1.8"/>
<ellipse transform="translate(326.1,638) rotate(16)" rx="2.7" ry="1.8"/>
<ellipse transform="translate(339.1,636.5) rotate(158)" rx="2.5" ry="1.7"/>
<ellipse transform="translate(370.9,636.7) rotate(85)" rx="2.3" ry="1.6"/>
<ellipse transform="translate(374.1,637.3) rotate(73)" rx="2.5" ry="1.7"/>
<ellipse transform="translate(386.4,635.8) rotate(166)" rx="2.6" ry="1.8"/>
<ellipse transform="translate(357.1,642.7) rotate(134)" rx="2.4" ry="1.7"/>
<ellipse transform="translate(361.8,641.1) rotate(71)" rx="2.6" ry="1.8"/>
<ellipse transform="translate(386.6,641.7) rotate(168)" rx="2.7" ry="1.8"/>
</g>
<g fill="#4048bc" fill-opacity="0.65">
<ellipse transform="translate(298.8,548.3) rotate(127)" rx="2.1" ry="1.4"/>
<ellipse transform="translate(315.5,550.2) rotate(94)" rx="2.6" ry="1.8"/>
<ellipse transform="translate(345,550.3) rotate(55)" rx="2.6" ry="1.8"/>
<ellipse transform="translate(366.8,549.3) rotate(113)" rx="2.7" ry="1.9"/>
<ellipse transform="translate(379,549.1) rotate(61)" rx="2.5" ry="1.7"/>
<ellipse transform="translate(307.4,554.8) rotate(156)" rx="2.6" ry="1.8"/>
<ellipse transform="translate(323.4,555.1) rotate(138)" rx="2.3" ry="1.6"/>
<ellipse transform="translate(329.4,552.5) rotate(69)" rx="2.6" ry="1.8"/>
<ellipse transform="translate(358.7,554.1) rotate(81)" rx="2.3" ry="1.6"/>
<ellipse transform="translate(388.1,553.4) rotate(120)" rx="2.7" ry="1.9"/>
<ellipse transform="translate(335.4,559.5) rotate(92)" rx="2.7" ry="1.9"/>
<ellipse transform="translate(288.6,562.8) rotate(171)" rx="2.7" ry="1.9"/>
<ellipse transform="translate(307.4,562.5) rotate(118)" rx="2.5" ry="1.7"/>
<ellipse transform="translate(323.8,562.8) rotate(50)" rx="2.2" ry="1.5"/>
<ellipse transform="translate(337.4,561.7) rotate(75)" rx="2.7" ry="1.8"/>
<ellipse transform="translate(342.7,562) rotate(39)" rx="2.5" ry="1.7"/>
<ellipse transform="translate(347.8,562.2) rotate(79)" rx="2.7" ry="1.8"/>
<ellipse transform="translate(367,562.6) rotate(165)" rx="2.5" ry="1.7"/>
<ellipse transform="translate(374.5,561.7) rotate(18)" rx="2.5" ry="1.7"/>
<ellipse transform="translate(378.9,563.9) rotate(169)" rx="2.4" ry="1.6"/>
<ellipse transform="translate(310.8,568.2) rotate(52)" rx="2.5" ry="1.7"/>
<ellipse transform="translate(350.8,566.5) rotate(172)" rx="2.2" ry="1.5"/>
<ellipse transform="translate(359.3,567.9) rotate(166)" rx="2.1" ry="1.4"/>
<ellipse transform="translate(373.6,565.3) rotate(179)" rx="2.7" ry="1.9"/>
<ellipse transform="translate(379.9,568.1) rotate(162)" rx="2.4" ry="1.7"/>
<ellipse transform="translate(353.8,570.1) rotate(52)" rx="2.7" ry="1.8"/>
<ellipse transform="translate(363.9,570.5) rotate(9)" rx="2.2" ry="1.5"/>
<ellipse transform="translate(392.6,572.4) rotate(111)" rx="2.4" ry="1.6"/>
<ellipse transform="translate(349.5,576) rotate(11)" rx="2.4" ry="1.6"/>
<ellipse transform="translate(395.8,575) rotate(104)" rx="2.5" ry="1.7"/>
<ellipse transform="translate(339.5,580.6) rotate(55)" rx="2.3" ry="1.6"/>
<ellipse transform="translate(347.9,580) rotate(123)" rx="2.7" ry="1.8"/>
<ellipse transform="translate(358.4,580.5) rotate(107)" rx="2.6" ry="1.8"/>
<ellipse transform="translate(362.8,578.3) rotate(76)" rx="2.7" ry="1.9"/>
<ellipse transform="translate(398.3,579.7) rotate(110)" rx="2.5" ry="1.7"/>
<ellipse transform="translate(329.8,584.9) rotate(107)" rx="2.3" ry="1.6"/>
<ellipse transform="translate(341.1,585.4) rotate(90)" rx="2.3" ry="1.6"/>
<ellipse transform="translate(349.3,585) rotate(41)" rx="2.7" ry="1.9"/>
<ellipse transform="translate(375,583.9) rotate(11)" rx="2.1" ry="1.4"/>
<ellipse transform="translate(380.1,583.7) rotate(4)" rx="2.5" ry="1.7"/>
<ellipse transform="translate(391.5,583.8) rotate(90)" rx="2.2" ry="1.5"/>
<ellipse transform="translate(307.4,587.7) rotate(30)" rx="2.2" ry="1.5"/>
<ellipse transform="translate(311.7,588.6) rotate(169)" rx="2.7" ry="1.8"/>
<ellipse transform="translate(318.5,587.2) rotate(112)" rx="2.3" ry="1.5"/>
<ellipse transform="translate(346.5,588.8) rotate(173)" rx="2.3" ry="1.6"/>
<ellipse transform="translate(351.3,590.6) rotate(100)" rx="2.5" ry="1.7"/>
<ellipse transform="translate(363.6,589.3) rotate(162)" rx="2.3" ry="1.5"/>
<ellipse transform="translate(378.9,587.8) rotate(16)" rx="2.1" ry="1.4"/>
<ellipse transform="translate(387.1,587.7) rotate(67)" rx="2.2" ry="1.5"/>
<ellipse transform="translate(350.3,593) rotate(105)" rx="2.7" ry="1.8"/>
<ellipse transform="translate(375.1,593) rotate(123)" rx="2.3" ry="1.5"/>
<ellipse transform="translate(390.7,593.7) rotate(128)" rx="2.8" ry="1.9"/>
<ellipse transform="translate(394.6,592.4) rotate(91)" rx="2.6" ry="1.8"/>
<ellipse transform="translate(343.6,598.4) rotate(41)" rx="2.2" ry="1.5"/>
<ellipse transform="translate(353.1,598.1) rotate(121)" rx="2.1" ry="1.5"/>
<ellipse transform="translate(378.3,597.5) rotate(151)" rx="2.2" ry="1.5"/>
<ellipse transform="translate(387.1,596.7) rotate(176)" rx="2.1" ry="1.4"/>
<ellipse transform="translate(300.8,601.4) rotate(29)" rx="2.1" ry="1.4"/>
<ellipse transform="translate(335.1,602) rotate(135)" rx="2.5" ry="1.7"/>
<ellipse transform="translate(340,601.8) rotate(139)" rx="2.5" ry="1.7"/>
<ellipse transform="translate(374.5,602.2) rotate(126)" rx="2.2" ry="1.5"/>
<ellipse transform="translate(330.4,606.5) rotate(51)" rx="2.4" ry="1.7"/>
<ellipse transform="translate(333.2,606.5) rotate(74)" rx="2.7" ry="1.9"/>
<ellipse transform="translate(352.2,606.1) rotate(92)" rx="2.3" ry="1.6"/>
<ellipse transform="translate(398.4,606.4) rotate(63)" rx="2.2" ry="1.5"/>
<ellipse transform="translate(299.9,609.6) rotate(128)" rx="2.7" ry="1.8"/>
<ellipse transform="translate(324,610.9) rotate(115)" rx="2.6" ry="1.7"/>
<ellipse transform="translate(341.4,609.8) rotate(153)" rx="2.7" ry="1.9"/>
<ellipse transform="translate(357.5,610.5) rotate(133)" rx="2.3" ry="1.6"/>
<ellipse transform="translate(378.9,611.6) rotate(69)" rx="2.7" ry="1.8"/>
<ellipse transform="translate(395.7,610.7) rotate(57)" rx="2.4" ry="1.6"/>
<ellipse transform="translate(341.6,614.3) rotate(173)" rx="2.2" ry="1.5"/>
<ellipse transform="translate(352.8,614.8) rotate(46)" rx="2.1" ry="1.5"/>
<ellipse transform="translate(363.6,614.9) rotate(54)" rx="2.5" ry="1.7"/>
<ellipse transform="translate(366.8,615.3) rotate(55)" rx="2.2" ry="1.5"/>
<ellipse transform="translate(373.5,615.4) rotate(73)" rx="2.4" ry="1.6"/>
<ellipse transform="translate(322.8,618.9) rotate(27)" rx="2.4" ry="1.6"/>
<ellipse transform="translate(339.5,619.8) rotate(87)" rx="2.3" ry="1.5"/>
<ellipse transform="translate(359.7,619.9) rotate(92)" rx="2.1" ry="1.4"/>
<ellipse transform="translate(395.8,619.3) rotate(13)" rx="2.7" ry="1.8"/>
<ellipse transform="translate(331.9,623.9) rotate(156)" rx="2.1" ry="1.5"/>
<ellipse transform="translate(320,628.5) rotate(116)" rx="2.3" ry="1.5"/>
<ellipse transform="translate(326.9,627.4) rotate(8)" rx="2.4" ry="1.6"/>
<ellipse transform="translate(385,629) rotate(88)" rx="2.6" ry="1.7"/>
<ellipse transform="translate(338.3,632.3) rotate(168)" rx="2.6" ry="1.8"/>
<ellipse transform="translate(346.3,632.8) rotate(171)" rx="2.7" ry="1.8"/>
<ellipse transform="translate(353.3,632.9) rotate(158)" rx="2.6" ry="1.8"/>
<ellipse transform="translate(357.9,631.8) rotate(33)" rx="2.1" ry="1.5"/>
<ellipse transform="translate(362.3,633.3) rotate(81)" rx="2.3" ry="1.6"/>
<ellipse transform="translate(387.8,631.6) rotate(6)" rx="2.4" ry="1.7"/>
<ellipse transform="translate(346.5,637.8) rotate(21)" rx="2.5" ry="1.7"/>
<ellipse transform="translate(391.6,635.4) rotate(174)" rx="2.1" ry="1.5"/>
<ellipse transform="translate(308.9,640.6) rotate(104)" rx="2.6" ry="1.8"/>
<ellipse transform="translate(337.2,640.8) rotate(29)" rx="2.3" ry="1.6"/>
</g>
</g>
<g filter="url(#fb1)">
<ellipse cx="373.2" cy="579.6" rx="4" ry="4" fill="#f02848" fill-opacity="0.95"/>
<ellipse cx="317.2" cy="613.6" rx="2.5" ry="2.5" fill="#f02848" fill-opacity="0.70"/>
<ellipse cx="339.2" cy="620.6" rx="3.5" ry="2.5" fill="#f02848" fill-opacity="0.75"/>
<ellipse cx="295.2" cy="610.6" rx="3" ry="2" fill="#f02848" fill-opacity="0.60"/>
<ellipse cx="363.2" cy="572.6" rx="2.5" ry="2.5" fill="#f02848" fill-opacity="0.60"/>
<ellipse cx="386.2" cy="598.6" rx="2.5" ry="2.5" fill="#f02848" fill-opacity="0.60"/>
<ellipse cx="329.2" cy="603.6" rx="2.5" ry="2.5" fill="#b0102c" fill-opacity="0.50"/>
<ellipse cx="378.2" cy="582.6" rx="5" ry="4" fill="#5a8ae0" fill-opacity="0.70"/>
</g>
</g>
<line x1="276.2" y1="639.4" x2="310.2" y2="639.4" stroke="#9a9a9a" stroke-width="0.5" stroke-opacity="0.8"/>
<clipPath id="cf3"><rect x="20.2" y="646" width="124.9" height="93.6"/></clipPath>
<rect x="20.2" y="646" width="124.9" height="93.6" fill="#050309"/>
<g clip-path="url(#cf3)">
<g filter="url(#fb3)">
<ellipse cx="40.2" cy="710" rx="12" ry="12" fill="#901030" fill-opacity="0.50"/>
<ellipse cx="54.2" cy="719" rx="8" ry="5" fill="#901030" fill-opacity="0.40"/>
<ellipse cx="33.2" cy="697" rx="6" ry="5" fill="#901030" fill-opacity="0.40"/>
<ellipse cx="64.2" cy="650" rx="5" ry="4" fill="#901030" fill-opacity="0.45"/>
<ellipse cx="80.2" cy="686" rx="40" ry="30" fill="#200a30" fill-opacity="0.35"/>
<ellipse cx="115.2" cy="701" rx="25" ry="30" fill="#1a0a30" fill-opacity="0.30"/>
</g>
<g filter="url(#fb0)">
</g>
<g filter="url(#fb1)">
<ellipse cx="63.2" cy="650" rx="5" ry="2.6" fill="#d8203c" fill-opacity="0.72"/>
<ellipse cx="44.2" cy="657" rx="4.6" ry="2.4" fill="#d8203c" fill-opacity="0.32"/>
<ellipse cx="40.9" cy="658.1" rx="2.9" ry="1.1" fill="#c01838" fill-opacity="0.24"/>
<ellipse cx="35.2" cy="677" rx="5" ry="2.6" fill="#d8203c" fill-opacity="0.41"/>
<ellipse cx="53.2" cy="672" rx="4.6" ry="2.4" fill="#d8203c" fill-opacity="0.41"/>
<ellipse cx="55.3" cy="669.2" rx="2.9" ry="1.1" fill="#c01838" fill-opacity="0.32"/>
<ellipse cx="75.2" cy="677" rx="4.2" ry="2.2" fill="#d8203c" fill-opacity="0.32"/>
<ellipse cx="73.6" cy="679.7" rx="2.6" ry="1" fill="#c01838" fill-opacity="0.24"/>
<ellipse cx="33.2" cy="697" rx="5.9" ry="3.1" fill="#d8203c" fill-opacity="0.68"/>
<ellipse cx="37.2" cy="707" rx="6.7" ry="3.5" fill="#d8203c" fill-opacity="0.77"/>
<ellipse cx="43.2" cy="714" rx="6.3" ry="3.3" fill="#d8203c" fill-opacity="0.77"/>
<ellipse cx="39.7" cy="717.2" rx="3.9" ry="1.5" fill="#c01838" fill-opacity="0.59"/>
<ellipse cx="54.2" cy="719" rx="6.3" ry="3.3" fill="#d8203c" fill-opacity="0.72"/>
<ellipse cx="59" cy="719.6" rx="3.9" ry="1.5" fill="#c01838" fill-opacity="0.56"/>
<ellipse cx="66.2" cy="692" rx="4.6" ry="2.4" fill="#d8203c" fill-opacity="0.27"/>
<ellipse cx="64.2" cy="706" rx="5" ry="2.6" fill="#d8203c" fill-opacity="0.32"/>
<ellipse cx="79.2" cy="706" rx="4.6" ry="2.4" fill="#d8203c" fill-opacity="0.32"/>
<ellipse cx="91.2" cy="695" rx="4.6" ry="2.4" fill="#d8203c" fill-opacity="0.45"/>
<ellipse cx="102.2" cy="716" rx="4.6" ry="2.4" fill="#d8203c" fill-opacity="0.27"/>
<ellipse cx="105.2" cy="683" rx="4.6" ry="2.4" fill="#d8203c" fill-opacity="0.27"/>
<ellipse cx="112.2" cy="667" rx="5" ry="2.6" fill="#d8203c" fill-opacity="0.45"/>
<ellipse cx="111.1" cy="663.3" rx="3.1" ry="1.2" fill="#c01838" fill-opacity="0.35"/>
<ellipse cx="117.2" cy="706" rx="4.6" ry="2.4" fill="#d8203c" fill-opacity="0.27"/>
<ellipse cx="114.7" cy="708.4" rx="2.9" ry="1.1" fill="#c01838" fill-opacity="0.21"/>
<ellipse cx="120.2" cy="721" rx="4.6" ry="2.4" fill="#d8203c" fill-opacity="0.32"/>
<ellipse cx="121.5" cy="724.3" rx="2.9" ry="1.1" fill="#c01838" fill-opacity="0.24"/>
<ellipse cx="131.2" cy="675" rx="4.6" ry="2.4" fill="#d8203c" fill-opacity="0.27"/>
<ellipse cx="133.6" cy="672.4" rx="2.9" ry="1.1" fill="#c01838" fill-opacity="0.21"/>
<ellipse cx="129.2" cy="687" rx="4.6" ry="2.4" fill="#d8203c" fill-opacity="0.27"/>
<ellipse cx="132.7" cy="686.6" rx="2.9" ry="1.1" fill="#c01838" fill-opacity="0.21"/>
<ellipse cx="76.2" cy="733" rx="4.6" ry="2.4" fill="#d8203c" fill-opacity="0.32"/>
<ellipse cx="112.2" cy="730" rx="4.6" ry="2.4" fill="#d8203c" fill-opacity="0.32"/>
<ellipse cx="133.2" cy="667" rx="4.6" ry="2.4" fill="#d8203c" fill-opacity="0.45"/>
<ellipse cx="138.2" cy="724" rx="4.6" ry="2.4" fill="#d8203c" fill-opacity="0.36"/>
<ellipse cx="108" cy="722.1" rx="4.1" ry="2.1" fill="#d8203c" fill-opacity="0.45"/>
<ellipse cx="107.5" cy="725.1" rx="2.5" ry="1" fill="#c01838" fill-opacity="0.35"/>
<ellipse cx="103" cy="657" rx="5.1" ry="2.6" fill="#d8203c" fill-opacity="0.26"/>
<ellipse cx="101.2" cy="660.4" rx="3.1" ry="1.2" fill="#c01838" fill-opacity="0.20"/>
<ellipse cx="109.4" cy="715.6" rx="4.5" ry="2.4" fill="#d8203c" fill-opacity="0.42"/>
<ellipse cx="112.8" cy="716.3" rx="2.8" ry="1.1" fill="#c01838" fill-opacity="0.33"/>
<ellipse cx="37" cy="694" rx="5.4" ry="2.8" fill="#d8203c" fill-opacity="0.39"/>
<ellipse cx="59.4" cy="731.9" rx="3.9" ry="2.1" fill="#d8203c" fill-opacity="0.40"/>
<ellipse cx="62.1" cy="733.3" rx="2.4" ry="0.9" fill="#c01838" fill-opacity="0.31"/>
<ellipse cx="42" cy="677.4" rx="4.3" ry="2.2" fill="#d8203c" fill-opacity="0.35"/>
<ellipse cx="38.9" cy="678.5" rx="2.7" ry="1" fill="#c01838" fill-opacity="0.27"/>
<ellipse cx="129.5" cy="729.4" rx="4.3" ry="2.3" fill="#d8203c" fill-opacity="0.43"/>
<ellipse cx="132.8" cy="730.1" rx="2.7" ry="1" fill="#c01838" fill-opacity="0.33"/>
<ellipse cx="34.7" cy="706.9" rx="5.1" ry="2.7" fill="#d8203c" fill-opacity="0.41"/>
<ellipse cx="125.5" cy="672.2" rx="5" ry="2.6" fill="#d8203c" fill-opacity="0.43"/>
<ellipse cx="82" cy="662.4" rx="4" ry="2.1" fill="#d8203c" fill-opacity="0.33"/>
<ellipse cx="84" cy="664.8" rx="2.5" ry="1" fill="#c01838" fill-opacity="0.26"/>
<ellipse cx="139.1" cy="660.4" rx="4.6" ry="2.4" fill="#d8203c" fill-opacity="0.45"/>
<ellipse cx="136.4" cy="658.2" rx="2.9" ry="1.1" fill="#c01838" fill-opacity="0.35"/>
<ellipse cx="86.5" cy="670.1" rx="4.8" ry="2.5" fill="#d8203c" fill-opacity="0.28"/>
<ellipse cx="100.4" cy="683" rx="5.1" ry="2.7" fill="#d8203c" fill-opacity="0.32"/>
<ellipse cx="122.2" cy="670.8" rx="4.1" ry="2.1" fill="#d8203c" fill-opacity="0.35"/>
<ellipse cx="124.8" cy="669.2" rx="2.5" ry="1" fill="#c01838" fill-opacity="0.28"/>
</g>
<g filter="url(#fb0)">
<ellipse transform="translate(64,650.2) rotate(63)" rx="2.8" ry="1.8" fill="#5060c8" fill-opacity="0.50"/>
<ellipse transform="translate(44.2,656.9) rotate(179)" rx="2.5" ry="1.7" fill="#5060c8" fill-opacity="0.70"/>
<ellipse transform="translate(35.4,676.5) rotate(83)" rx="2.8" ry="1.8" fill="#6a78e0" fill-opacity="0.75"/>
<ellipse transform="translate(53.4,671.7) rotate(147)" rx="2.5" ry="1.7" fill="#5060c8" fill-opacity="0.70"/>
<ellipse transform="translate(75.8,676.6) rotate(95)" rx="2.3" ry="1.5" fill="#6a78e0" fill-opacity="0.75"/>
<ellipse transform="translate(34,696.5) rotate(164)" rx="3.2" ry="2.1" fill="#6a78e0" fill-opacity="0.80"/>
<ellipse transform="translate(36.7,707.3) rotate(3)" rx="3.7" ry="2.4" fill="#6a78e0" fill-opacity="0.90"/>
<ellipse transform="translate(43.2,713.7) rotate(74)" rx="3.4" ry="2.2" fill="#6a78e0" fill-opacity="0.90"/>
<ellipse transform="translate(54.1,719) rotate(2)" rx="3.4" ry="2.2" fill="#6a78e0" fill-opacity="0.85"/>
<ellipse transform="translate(65.4,691.8) rotate(59)" rx="2.5" ry="1.7" fill="#5060c8" fill-opacity="0.70"/>
<ellipse transform="translate(64.7,706.6) rotate(54)" rx="2.8" ry="1.8" fill="#6a78e0" fill-opacity="0.80"/>
<ellipse transform="translate(80.1,706.3) rotate(28)" rx="2.5" ry="1.7" fill="#5060c8" fill-opacity="0.70"/>
<ellipse transform="translate(90.9,695) rotate(142)" rx="2.5" ry="1.7" fill="#5060c8" fill-opacity="0.70"/>
<ellipse transform="translate(102.4,716.2) rotate(85)" rx="2.5" ry="1.7" fill="#5060c8" fill-opacity="0.70"/>
<ellipse transform="translate(105.3,682.5) rotate(36)" rx="2.5" ry="1.7" fill="#6a78e0" fill-opacity="0.75"/>
<ellipse transform="translate(112.2,667.6) rotate(133)" rx="2.8" ry="1.8" fill="#5060c8" fill-opacity="0.70"/>
<ellipse transform="translate(117.7,705.7) rotate(116)" rx="2.5" ry="1.7" fill="#5060c8" fill-opacity="0.70"/>
<ellipse transform="translate(120.3,721.2) rotate(39)" rx="2.5" ry="1.7" fill="#5060c8" fill-opacity="0.65"/>
<ellipse transform="translate(131.3,675.6) rotate(87)" rx="2.5" ry="1.7" fill="#5060c8" fill-opacity="0.60"/>
<ellipse transform="translate(128.8,686.6) rotate(63)" rx="2.5" ry="1.7" fill="#5060c8" fill-opacity="0.65"/>
<ellipse transform="translate(75.9,733.1) rotate(60)" rx="2.5" ry="1.7" fill="#5060c8" fill-opacity="0.60"/>
<ellipse transform="translate(111.8,729.8) rotate(96)" rx="2.5" ry="1.7" fill="#5060c8" fill-opacity="0.55"/>
<ellipse transform="translate(132.4,667.2) rotate(87)" rx="2.5" ry="1.7" fill="#5060c8" fill-opacity="0.40"/>
<ellipse transform="translate(138.3,724.2) rotate(11)" rx="2.5" ry="1.7" fill="#5060c8" fill-opacity="0.50"/>
<ellipse transform="translate(107.4,722.1) rotate(57)" rx="2.2" ry="1.5" fill="#5060c8" fill-opacity="0.52"/>
<ellipse transform="translate(103.1,657.9) rotate(148)" rx="2.8" ry="1.8" fill="#5060c8" fill-opacity="0.70"/>
<ellipse transform="translate(109.1,716.1) rotate(141)" rx="2.5" ry="1.6" fill="#6a78e0" fill-opacity="0.80"/>
<ellipse transform="translate(36.8,694.2) rotate(75)" rx="3" ry="1.9" fill="#5060c8" fill-opacity="0.61"/>
<ellipse transform="translate(59,732.5) rotate(130)" rx="2.1" ry="1.4" fill="#6a78e0" fill-opacity="0.75"/>
<ellipse transform="translate(41.7,677.3) rotate(115)" rx="2.4" ry="1.5" fill="#5060c8" fill-opacity="0.58"/>
<ellipse transform="translate(129.6,728.8) rotate(27)" rx="2.4" ry="1.5" fill="#5060c8" fill-opacity="0.47"/>
<ellipse transform="translate(35,706.4) rotate(162)" rx="2.8" ry="1.8" fill="#6a78e0" fill-opacity="0.80"/>
<ellipse transform="translate(126.1,671.8) rotate(92)" rx="2.8" ry="1.8" fill="#5060c8" fill-opacity="0.48"/>
<ellipse transform="translate(82.6,662.9) rotate(155)" rx="2.2" ry="1.4" fill="#5060c8" fill-opacity="0.68"/>
<ellipse transform="translate(139,660.2) rotate(54)" rx="2.5" ry="1.7" fill="#6a78e0" fill-opacity="0.72"/>
<ellipse transform="translate(86.3,670.9) rotate(132)" rx="2.7" ry="1.7" fill="#5060c8" fill-opacity="0.68"/>
<ellipse transform="translate(100.7,683.5) rotate(72)" rx="2.8" ry="1.8" fill="#5060c8" fill-opacity="0.61"/>
<ellipse transform="translate(122.2,671.5) rotate(19)" rx="2.2" ry="1.5" fill="#5060c8" fill-opacity="0.60"/>
</g>
</g>
<line x1="22.2" y1="737" x2="56.2" y2="737" stroke="#9a9a9a" stroke-width="0.5" stroke-opacity="0.8"/>
<clipPath id="cf4"><rect x="147.1" y="646" width="124.8" height="93.6"/></clipPath>
<rect x="147.1" y="646" width="124.8" height="93.6" fill="#050309"/>
<g clip-path="url(#cf4)">
<g filter="url(#fb3)">
<ellipse cx="187.1" cy="706" rx="35" ry="28" fill="#1a0a2a" fill-opacity="0.35"/>
<ellipse cx="177.1" cy="698" rx="10" ry="8" fill="#901030" fill-opacity="0.45"/>
<ellipse cx="161.1" cy="701" rx="6" ry="4" fill="#901030" fill-opacity="0.40"/>
<ellipse cx="191.1" cy="701" rx="6" ry="4" fill="#901030" fill-opacity="0.40"/>
<ellipse cx="215.1" cy="702" rx="6" ry="8" fill="#901030" fill-opacity="0.40"/>
<ellipse cx="183.1" cy="736" rx="7" ry="4" fill="#901030" fill-opacity="0.45"/>
<ellipse cx="152.1" cy="716" rx="6" ry="7" fill="#901030" fill-opacity="0.40"/>
</g>
<g filter="url(#fb0)">
</g>
<g filter="url(#fb1)">
<ellipse cx="154.1" cy="664" rx="4.2" ry="2.2" fill="#d8203c" fill-opacity="0.18"/>
<ellipse cx="155.3" cy="667" rx="2.6" ry="1" fill="#c01838" fill-opacity="0.14"/>
<ellipse cx="187.1" cy="670" rx="5" ry="2.6" fill="#d8203c" fill-opacity="0.32"/>
<ellipse cx="196.1" cy="684" rx="4.2" ry="2.2" fill="#d8203c" fill-opacity="0.36"/>
<ellipse cx="193.7" cy="681.8" rx="2.6" ry="1" fill="#c01838" fill-opacity="0.28"/>
<ellipse cx="199.1" cy="663" rx="4.6" ry="2.4" fill="#d8203c" fill-opacity="0.41"/>
<ellipse cx="195.6" cy="663.1" rx="2.9" ry="1.1" fill="#c01838" fill-opacity="0.32"/>
<ellipse cx="176.1" cy="696" rx="7.1" ry="3.7" fill="#d8203c" fill-opacity="0.63"/>
<ellipse cx="181.5" cy="695.5" rx="4.4" ry="1.7" fill="#c01838" fill-opacity="0.49"/>
<ellipse cx="161.1" cy="701" rx="5.5" ry="2.9" fill="#d8203c" fill-opacity="0.50"/>
<ellipse cx="165.2" cy="701.7" rx="3.4" ry="1.3" fill="#c01838" fill-opacity="0.39"/>
<ellipse cx="191.1" cy="701" rx="5.5" ry="2.9" fill="#d8203c" fill-opacity="0.41"/>
<ellipse cx="193" cy="704.7" rx="3.4" ry="1.3" fill="#c01838" fill-opacity="0.32"/>
<ellipse cx="215.1" cy="701" rx="6.3" ry="3.3" fill="#d8203c" fill-opacity="0.45"/>
<ellipse cx="219.8" cy="702" rx="3.9" ry="1.5" fill="#c01838" fill-opacity="0.35"/>
<ellipse cx="207.1" cy="684" rx="4.2" ry="2.2" fill="#d8203c" fill-opacity="0.50"/>
<ellipse cx="210.1" cy="682.8" rx="2.6" ry="1" fill="#c01838" fill-opacity="0.39"/>
<ellipse cx="218.1" cy="689" rx="4.2" ry="2.2" fill="#d8203c" fill-opacity="0.50"/>
<ellipse cx="204.1" cy="724" rx="4.6" ry="2.4" fill="#d8203c" fill-opacity="0.72"/>
<ellipse cx="203.6" cy="727.5" rx="2.9" ry="1.1" fill="#c01838" fill-opacity="0.56"/>
<ellipse cx="184.1" cy="736" rx="6.3" ry="3.3" fill="#d8203c" fill-opacity="0.63"/>
<ellipse cx="188.8" cy="735" rx="3.9" ry="1.5" fill="#c01838" fill-opacity="0.49"/>
<ellipse cx="262.1" cy="703" rx="5" ry="2.6" fill="#d8203c" fill-opacity="0.50"/>
<ellipse cx="259.2" cy="700.5" rx="3.1" ry="1.2" fill="#c01838" fill-opacity="0.39"/>
<ellipse cx="152.1" cy="716" rx="6.3" ry="3.3" fill="#d8203c" fill-opacity="0.50"/>
<ellipse cx="217.1" cy="716" rx="4.6" ry="2.4" fill="#d8203c" fill-opacity="0.36"/>
<ellipse cx="220.6" cy="716.6" rx="2.9" ry="1.1" fill="#c01838" fill-opacity="0.28"/>
<ellipse cx="155.1" cy="723" rx="4.6" ry="2.4" fill="#d8203c" fill-opacity="0.36"/>
<ellipse cx="154.6" cy="726.5" rx="2.9" ry="1.1" fill="#c01838" fill-opacity="0.28"/>
<ellipse cx="174.1" cy="719" rx="4.6" ry="2.4" fill="#d8203c" fill-opacity="0.32"/>
<ellipse cx="172.9" cy="722.3" rx="2.9" ry="1.1" fill="#c01838" fill-opacity="0.24"/>
<ellipse cx="185.1" cy="716" rx="4.6" ry="2.4" fill="#d8203c" fill-opacity="0.36"/>
<ellipse cx="227.1" cy="713" rx="4.6" ry="2.4" fill="#d8203c" fill-opacity="0.54"/>
<ellipse cx="223.8" cy="714.1" rx="2.9" ry="1.1" fill="#c01838" fill-opacity="0.42"/>
<ellipse cx="224.1" cy="728" rx="5" ry="2.6" fill="#d8203c" fill-opacity="0.50"/>
<ellipse cx="227.4" cy="726" rx="3.1" ry="1.2" fill="#c01838" fill-opacity="0.39"/>
<ellipse cx="233.1" cy="731" rx="4.6" ry="2.4" fill="#d8203c" fill-opacity="0.27"/>
<ellipse cx="231" cy="728.1" rx="2.9" ry="1.1" fill="#c01838" fill-opacity="0.21"/>
<ellipse cx="165.1" cy="732" rx="5" ry="2.6" fill="#d8203c" fill-opacity="0.41"/>
<ellipse cx="167.7" cy="734.8" rx="3.1" ry="1.2" fill="#c01838" fill-opacity="0.32"/>
<ellipse cx="199.1" cy="721" rx="4.6" ry="2.4" fill="#d8203c" fill-opacity="0.32"/>
<ellipse cx="202" cy="719" rx="2.9" ry="1.1" fill="#c01838" fill-opacity="0.24"/>
<ellipse cx="195" cy="729.6" rx="5.2" ry="2.7" fill="#d8203c" fill-opacity="0.22"/>
<ellipse cx="192.2" cy="732.4" rx="3.2" ry="1.2" fill="#c01838" fill-opacity="0.17"/>
<ellipse cx="225.8" cy="652.7" rx="5.4" ry="2.8" fill="#d8203c" fill-opacity="0.23"/>
<ellipse cx="200.6" cy="700.2" rx="4" ry="2.1" fill="#d8203c" fill-opacity="0.30"/>
<ellipse cx="203.5" cy="699.6" rx="2.5" ry="0.9" fill="#c01838" fill-opacity="0.24"/>
<ellipse cx="211.1" cy="718.1" rx="4.8" ry="2.5" fill="#d8203c" fill-opacity="0.33"/>
<ellipse cx="212.7" cy="721.4" rx="3" ry="1.1" fill="#c01838" fill-opacity="0.26"/>
<ellipse cx="192.8" cy="689.8" rx="4" ry="2.1" fill="#d8203c" fill-opacity="0.36"/>
<ellipse cx="161.8" cy="699.7" rx="4.5" ry="2.3" fill="#d8203c" fill-opacity="0.21"/>
<ellipse cx="164.3" cy="702" rx="2.8" ry="1.1" fill="#c01838" fill-opacity="0.17"/>
<ellipse cx="204.9" cy="655.1" rx="4.7" ry="2.5" fill="#d8203c" fill-opacity="0.27"/>
<ellipse cx="201.4" cy="654.3" rx="2.9" ry="1.1" fill="#c01838" fill-opacity="0.21"/>
<ellipse cx="254.2" cy="652.5" rx="4.1" ry="2.1" fill="#d8203c" fill-opacity="0.33"/>
<ellipse cx="200.6" cy="697.7" rx="4.5" ry="2.4" fill="#d8203c" fill-opacity="0.27"/>
<ellipse cx="201.4" cy="694.4" rx="2.8" ry="1.1" fill="#c01838" fill-opacity="0.21"/>
<ellipse cx="207.5" cy="654" rx="5.2" ry="2.7" fill="#d8203c" fill-opacity="0.23"/>
<ellipse cx="204" cy="655.7" rx="3.2" ry="1.2" fill="#c01838" fill-opacity="0.18"/>
<ellipse cx="198.7" cy="719.9" rx="4.8" ry="2.5" fill="#d8203c" fill-opacity="0.26"/>
<ellipse cx="197.3" cy="723.3" rx="3" ry="1.2" fill="#c01838" fill-opacity="0.20"/>
<ellipse cx="176.2" cy="702.8" rx="4.4" ry="2.3" fill="#d8203c" fill-opacity="0.19"/>
<ellipse cx="179.5" cy="703.6" rx="2.7" ry="1" fill="#c01838" fill-opacity="0.15"/>
</g>
<g filter="url(#fb0)">
<ellipse transform="translate(154,663.8) rotate(23)" rx="2.3" ry="1.5" fill="#5060c8" fill-opacity="0.45"/>
<ellipse transform="translate(187.1,669.7) rotate(37)" rx="2.8" ry="1.8" fill="#6a78e0" fill-opacity="0.80"/>
<ellipse transform="translate(195.7,683.9) rotate(161)" rx="2.3" ry="1.5" fill="#6a78e0" fill-opacity="0.85"/>
<ellipse transform="translate(198.7,663.1) rotate(77)" rx="2.5" ry="1.7" fill="#5060c8" fill-opacity="0.40"/>
<ellipse transform="translate(176.6,696.4) rotate(96)" rx="3.9" ry="2.5" fill="#6a78e0" fill-opacity="0.90"/>
<ellipse transform="translate(161.8,700.9) rotate(106)" rx="3" ry="2" fill="#6a78e0" fill-opacity="0.80"/>
<ellipse transform="translate(190.8,700.7) rotate(58)" rx="3" ry="2" fill="#6a78e0" fill-opacity="0.80"/>
<ellipse transform="translate(214.9,701) rotate(66)" rx="3.4" ry="2.2" fill="#6a78e0" fill-opacity="0.80"/>
<ellipse transform="translate(207,683.9) rotate(8)" rx="2.3" ry="1.5" fill="#5060c8" fill-opacity="0.40"/>
<ellipse transform="translate(217.6,688.7) rotate(104)" rx="2.3" ry="1.5" fill="#5060c8" fill-opacity="0.50"/>
<ellipse transform="translate(204.5,724.3) rotate(139)" rx="2.5" ry="1.7" fill="#5060c8" fill-opacity="0.50"/>
<ellipse transform="translate(183.9,735.5) rotate(177)" rx="3.4" ry="2.2" fill="#5060c8" fill-opacity="0.50"/>
<ellipse transform="translate(262.7,703.1) rotate(43)" rx="2.8" ry="1.8" fill="#5060c8" fill-opacity="0.65"/>
<ellipse transform="translate(152,716.6) rotate(128)" rx="3.4" ry="2.2" fill="#5060c8" fill-opacity="0.70"/>
<ellipse transform="translate(216.5,715.6) rotate(176)" rx="2.5" ry="1.7" fill="#6a78e0" fill-opacity="0.75"/>
<ellipse transform="translate(155.3,722.7) rotate(93)" rx="2.5" ry="1.7" fill="#5060c8" fill-opacity="0.65"/>
<ellipse transform="translate(174.2,718.9) rotate(111)" rx="2.5" ry="1.7" fill="#5060c8" fill-opacity="0.65"/>
<ellipse transform="translate(184.9,716.4) rotate(154)" rx="2.5" ry="1.7" fill="#5060c8" fill-opacity="0.65"/>
<ellipse transform="translate(227.2,712.9) rotate(14)" rx="2.5" ry="1.7" fill="#5060c8" fill-opacity="0.40"/>
<ellipse transform="translate(224.2,727.6) rotate(114)" rx="2.8" ry="1.8" fill="#5060c8" fill-opacity="0.45"/>
<ellipse transform="translate(233.8,730.7) rotate(17)" rx="2.5" ry="1.7" fill="#5060c8" fill-opacity="0.45"/>
<ellipse transform="translate(165.5,731.6) rotate(100)" rx="2.8" ry="1.8" fill="#5060c8" fill-opacity="0.40"/>
<ellipse transform="translate(200,720.9) rotate(161)" rx="2.5" ry="1.7" fill="#5060c8" fill-opacity="0.60"/>
<ellipse transform="translate(195.2,729.6) rotate(11)" rx="2.8" ry="1.9" fill="#5060c8" fill-opacity="0.56"/>
<ellipse transform="translate(226.5,652.8) rotate(143)" rx="2.9" ry="1.9" fill="#5060c8" fill-opacity="0.39"/>
<ellipse transform="translate(200.7,700.3) rotate(127)" rx="2.2" ry="1.4" fill="#5060c8" fill-opacity="0.55"/>
<ellipse transform="translate(210.6,718.5) rotate(16)" rx="2.6" ry="1.7" fill="#5060c8" fill-opacity="0.35"/>
<ellipse transform="translate(192.8,689.6) rotate(68)" rx="2.2" ry="1.4" fill="#5060c8" fill-opacity="0.49"/>
<ellipse transform="translate(162.1,699.7) rotate(178)" rx="2.5" ry="1.6" fill="#5060c8" fill-opacity="0.35"/>
<ellipse transform="translate(205.1,655.5) rotate(128)" rx="2.6" ry="1.7" fill="#5060c8" fill-opacity="0.34"/>
<ellipse transform="translate(254.8,652.8) rotate(25)" rx="2.2" ry="1.5" fill="#5060c8" fill-opacity="0.37"/>
<ellipse transform="translate(201,697.6) rotate(56)" rx="2.5" ry="1.6" fill="#5060c8" fill-opacity="0.45"/>
<ellipse transform="translate(207.7,654) rotate(72)" rx="2.8" ry="1.8" fill="#5060c8" fill-opacity="0.31"/>
<ellipse transform="translate(197.9,721) rotate(118)" rx="2.6" ry="1.7" fill="#5060c8" fill-opacity="0.44"/>
<ellipse transform="translate(175.6,702.8) rotate(41)" rx="2.4" ry="1.6" fill="#5060c8" fill-opacity="0.34"/>
</g>
</g>
<line x1="149.1" y1="737" x2="183.1" y2="737" stroke="#9a9a9a" stroke-width="0.5" stroke-opacity="0.8"/>
<clipPath id="cf5"><rect x="274.2" y="646" width="125.1" height="93.6"/></clipPath>
<rect x="274.2" y="646" width="125.1" height="93.6" fill="#050309"/>
<g clip-path="url(#cf5)">
<g filter="url(#fb3)">
<ellipse cx="309.2" cy="701" rx="30" ry="30" fill="#1a0a2a" fill-opacity="0.35"/>
<ellipse cx="285.2" cy="658" rx="6" ry="7" fill="#901030" fill-opacity="0.45"/>
<ellipse cx="307.2" cy="686" rx="5" ry="5" fill="#901030" fill-opacity="0.40"/>
<ellipse cx="282.2" cy="728" rx="7" ry="5" fill="#901030" fill-opacity="0.45"/>
<ellipse cx="308.2" cy="712" rx="6" ry="4" fill="#901030" fill-opacity="0.40"/>
<ellipse cx="358.2" cy="692" rx="3" ry="3" fill="#901030" fill-opacity="0.45"/>
</g>
<g filter="url(#fb0)">
</g>
<g filter="url(#fb1)">
<ellipse cx="285.2" cy="658" rx="5.9" ry="3.1" fill="#d8203c" fill-opacity="0.54"/>
<ellipse cx="289.5" cy="659.1" rx="3.6" ry="1.4" fill="#c01838" fill-opacity="0.42"/>
<ellipse cx="324.2" cy="666" rx="4.6" ry="2.4" fill="#d8203c" fill-opacity="0.41"/>
<ellipse cx="337.2" cy="657" rx="4.2" ry="2.2" fill="#d8203c" fill-opacity="0.45"/>
<ellipse cx="283.2" cy="683" rx="5.5" ry="2.9" fill="#d8203c" fill-opacity="0.27"/>
<ellipse cx="279.9" cy="680.5" rx="3.4" ry="1.3" fill="#c01838" fill-opacity="0.21"/>
<ellipse cx="300.2" cy="692" rx="5.5" ry="2.9" fill="#d8203c" fill-opacity="0.36"/>
<ellipse cx="296.1" cy="691.4" rx="3.4" ry="1.3" fill="#c01838" fill-opacity="0.28"/>
<ellipse cx="307.2" cy="686" rx="5" ry="2.6" fill="#d8203c" fill-opacity="0.50"/>
<ellipse cx="303.9" cy="684.1" rx="3.1" ry="1.2" fill="#c01838" fill-opacity="0.39"/>
<ellipse cx="312.2" cy="699" rx="4.6" ry="2.4" fill="#d8203c" fill-opacity="0.32"/>
<ellipse cx="291.2" cy="704" rx="4.6" ry="2.4" fill="#d8203c" fill-opacity="0.54"/>
<ellipse cx="292.9" cy="707.1" rx="2.9" ry="1.1" fill="#c01838" fill-opacity="0.42"/>
<ellipse cx="307.2" cy="712" rx="6.7" ry="3.5" fill="#d8203c" fill-opacity="0.41"/>
<ellipse cx="326.2" cy="706" rx="5.5" ry="2.9" fill="#d8203c" fill-opacity="0.36"/>
<ellipse cx="330.1" cy="704.5" rx="3.4" ry="1.3" fill="#c01838" fill-opacity="0.28"/>
<ellipse cx="332.2" cy="718" rx="4.6" ry="2.4" fill="#d8203c" fill-opacity="0.32"/>
<ellipse cx="282.2" cy="729" rx="6.3" ry="3.3" fill="#d8203c" fill-opacity="0.54"/>
<ellipse cx="320.2" cy="737" rx="4.6" ry="2.4" fill="#d8203c" fill-opacity="0.32"/>
<ellipse cx="358.2" cy="692" rx="4.6" ry="2.4" fill="#d8203c" fill-opacity="0.54"/>
<ellipse cx="344.2" cy="701" rx="4.6" ry="2.4" fill="#d8203c" fill-opacity="0.36"/>
<ellipse cx="346.2" cy="703.9" rx="2.9" ry="1.1" fill="#c01838" fill-opacity="0.28"/>
<ellipse cx="373.2" cy="675" rx="4.6" ry="2.4" fill="#d8203c" fill-opacity="0.27"/>
<ellipse cx="376.4" cy="676.4" rx="2.9" ry="1.1" fill="#c01838" fill-opacity="0.21"/>
<ellipse cx="301.2" cy="726" rx="4.6" ry="2.4" fill="#d8203c" fill-opacity="0.32"/>
<ellipse cx="314.2" cy="722" rx="4.2" ry="2.2" fill="#d8203c" fill-opacity="0.32"/>
<ellipse cx="314.9" cy="725.1" rx="2.6" ry="1" fill="#c01838" fill-opacity="0.24"/>
<ellipse cx="298.2" cy="674" rx="4.6" ry="2.4" fill="#d8203c" fill-opacity="0.36"/>
<ellipse cx="295.7" cy="671.6" rx="2.9" ry="1.1" fill="#c01838" fill-opacity="0.28"/>
<ellipse cx="317.2" cy="676" rx="4.2" ry="2.2" fill="#d8203c" fill-opacity="0.32"/>
<ellipse cx="288.2" cy="712" rx="5" ry="2.6" fill="#d8203c" fill-opacity="0.41"/>
<ellipse cx="284.9" cy="713.9" rx="3.1" ry="1.2" fill="#c01838" fill-opacity="0.32"/>
<ellipse cx="386.2" cy="695" rx="4.2" ry="2.2" fill="#d8203c" fill-opacity="0.27"/>
<ellipse cx="389.4" cy="695.3" rx="2.6" ry="1" fill="#c01838" fill-opacity="0.21"/>
<ellipse cx="370.2" cy="708" rx="4.2" ry="2.2" fill="#d8203c" fill-opacity="0.27"/>
<ellipse cx="367.4" cy="706.4" rx="2.6" ry="1" fill="#c01838" fill-opacity="0.21"/>
<ellipse cx="366.1" cy="666.6" rx="4.1" ry="2.2" fill="#d8203c" fill-opacity="0.29"/>
<ellipse cx="369.6" cy="715.5" rx="3.9" ry="2" fill="#d8203c" fill-opacity="0.30"/>
<ellipse cx="352.8" cy="732" rx="5.4" ry="2.8" fill="#d8203c" fill-opacity="0.25"/>
<ellipse cx="370.8" cy="733.5" rx="3.8" ry="2" fill="#d8203c" fill-opacity="0.35"/>
<ellipse cx="371.1" cy="736.4" rx="2.4" ry="0.9" fill="#c01838" fill-opacity="0.27"/>
<ellipse cx="292.6" cy="701" rx="5.2" ry="2.7" fill="#d8203c" fill-opacity="0.35"/>
<ellipse cx="375.7" cy="651.7" rx="5.4" ry="2.8" fill="#d8203c" fill-opacity="0.23"/>
<ellipse cx="379.1" cy="654" rx="3.3" ry="1.3" fill="#c01838" fill-opacity="0.18"/>
<ellipse cx="292" cy="652.8" rx="3.8" ry="2" fill="#d8203c" fill-opacity="0.29"/>
<ellipse cx="374.3" cy="723" rx="4.5" ry="2.4" fill="#d8203c" fill-opacity="0.33"/>
<ellipse cx="382" cy="670.8" rx="5.4" ry="2.8" fill="#d8203c" fill-opacity="0.25"/>
<ellipse cx="380.3" cy="667.1" rx="3.3" ry="1.3" fill="#c01838" fill-opacity="0.19"/>
<ellipse cx="338.9" cy="654.1" rx="3.9" ry="2" fill="#d8203c" fill-opacity="0.28"/>
<ellipse cx="282.5" cy="684.4" rx="4.4" ry="2.3" fill="#d8203c" fill-opacity="0.32"/>
<ellipse cx="288" cy="696.3" rx="4" ry="2.1" fill="#d8203c" fill-opacity="0.32"/>
<ellipse cx="290.4" cy="698.1" rx="2.4" ry="0.9" fill="#c01838" fill-opacity="0.25"/>
</g>
<g filter="url(#fb0)">
<ellipse transform="translate(285.4,658.2) rotate(117)" rx="3.2" ry="2.1" fill="#6a78e0" fill-opacity="0.75"/>
<ellipse transform="translate(324.1,665.7) rotate(20)" rx="2.5" ry="1.7" fill="#5060c8" fill-opacity="0.70"/>
<ellipse transform="translate(337.7,656.7) rotate(154)" rx="2.3" ry="1.5" fill="#5060c8" fill-opacity="0.50"/>
<ellipse transform="translate(282.9,682) rotate(88)" rx="3" ry="2" fill="#6a78e0" fill-opacity="0.80"/>
<ellipse transform="translate(300.7,691.9) rotate(38)" rx="3" ry="2" fill="#6a78e0" fill-opacity="0.85"/>
<ellipse transform="translate(307.2,685.9) rotate(176)" rx="2.8" ry="1.8" fill="#6a78e0" fill-opacity="0.75"/>
<ellipse transform="translate(313.2,699.3) rotate(4)" rx="2.5" ry="1.7" fill="#6a78e0" fill-opacity="0.75"/>
<ellipse transform="translate(291.6,704.3) rotate(41)" rx="2.5" ry="1.7" fill="#5060c8" fill-opacity="0.50"/>
<ellipse transform="translate(307.7,711.3) rotate(8)" rx="3.7" ry="2.4" fill="#6a78e0" fill-opacity="0.85"/>
<ellipse transform="translate(325.3,706.1) rotate(139)" rx="3" ry="2" fill="#6a78e0" fill-opacity="0.75"/>
<ellipse transform="translate(332.2,717.9) rotate(166)" rx="2.5" ry="1.7" fill="#5060c8" fill-opacity="0.70"/>
<ellipse transform="translate(281.9,729.1) rotate(28)" rx="3.4" ry="2.2" fill="#5060c8" fill-opacity="0.60"/>
<ellipse transform="translate(319.8,737) rotate(37)" rx="2.5" ry="1.7" fill="#5060c8" fill-opacity="0.50"/>
<ellipse transform="translate(358.1,691.5) rotate(159)" rx="2.5" ry="1.7" fill="#5060c8" fill-opacity="0.50"/>
<ellipse transform="translate(344.2,700.9) rotate(167)" rx="2.5" ry="1.7" fill="#5060c8" fill-opacity="0.55"/>
<ellipse transform="translate(373.1,675.4) rotate(101)" rx="2.5" ry="1.7" fill="#5060c8" fill-opacity="0.50"/>
<ellipse transform="translate(301.2,726.5) rotate(55)" rx="2.5" ry="1.7" fill="#5060c8" fill-opacity="0.60"/>
<ellipse transform="translate(314.2,721.8) rotate(25)" rx="2.3" ry="1.5" fill="#5060c8" fill-opacity="0.55"/>
<ellipse transform="translate(298,673.5) rotate(34)" rx="2.5" ry="1.7" fill="#5060c8" fill-opacity="0.65"/>
<ellipse transform="translate(317.3,676) rotate(42)" rx="2.3" ry="1.5" fill="#5060c8" fill-opacity="0.65"/>
<ellipse transform="translate(288.2,711.6) rotate(124)" rx="2.8" ry="1.8" fill="#6a78e0" fill-opacity="0.75"/>
<ellipse transform="translate(386.2,695.3) rotate(59)" rx="2.3" ry="1.5" fill="#5060c8" fill-opacity="0.40"/>
<ellipse transform="translate(369.2,708) rotate(134)" rx="2.3" ry="1.5" fill="#5060c8" fill-opacity="0.40"/>
<ellipse transform="translate(365.9,667.4) rotate(70)" rx="2.3" ry="1.5" fill="#5060c8" fill-opacity="0.32"/>
<ellipse transform="translate(369.8,715.2) rotate(121)" rx="2.1" ry="1.4" fill="#5060c8" fill-opacity="0.45"/>
<ellipse transform="translate(353.5,732) rotate(14)" rx="3" ry="1.9" fill="#5060c8" fill-opacity="0.55"/>
<ellipse transform="translate(370.8,733.8) rotate(47)" rx="2.1" ry="1.4" fill="#5060c8" fill-opacity="0.37"/>
<ellipse transform="translate(293.2,701.1) rotate(107)" rx="2.8" ry="1.9" fill="#5060c8" fill-opacity="0.41"/>
<ellipse transform="translate(376.8,651.8) rotate(53)" rx="3" ry="1.9" fill="#5060c8" fill-opacity="0.46"/>
<ellipse transform="translate(292.4,652.3) rotate(25)" rx="2.1" ry="1.4" fill="#5060c8" fill-opacity="0.47"/>
<ellipse transform="translate(374.4,722.1) rotate(175)" rx="2.5" ry="1.6" fill="#5060c8" fill-opacity="0.36"/>
<ellipse transform="translate(382.2,670.7) rotate(18)" rx="2.9" ry="1.9" fill="#5060c8" fill-opacity="0.43"/>
<ellipse transform="translate(339.2,654.4) rotate(179)" rx="2.1" ry="1.4" fill="#5060c8" fill-opacity="0.51"/>
<ellipse transform="translate(282.6,684.1) rotate(164)" rx="2.4" ry="1.6" fill="#5060c8" fill-opacity="0.60"/>
<ellipse transform="translate(288.2,695.8) rotate(152)" rx="2.2" ry="1.4" fill="#5060c8" fill-opacity="0.58"/>
</g>
</g>
<line x1="276.2" y1="737" x2="310.2" y2="737" stroke="#9a9a9a" stroke-width="0.5" stroke-opacity="0.8"/>
<text x="82.7" y="544.6" text-anchor="middle" font-size="8.5" fill="#111" stroke="#111" stroke-width="0.18" textLength="18.4" lengthAdjust="spacingAndGlyphs">SCR</text>
<text x="208.8" y="544.6" text-anchor="middle" font-size="8.5" fill="#111" stroke="#111" stroke-width="0.18" textLength="46.9" lengthAdjust="spacingAndGlyphs">JMJD6 KO1</text>
<text x="336" y="544.6" text-anchor="middle" font-size="8.5" fill="#111" stroke="#111" stroke-width="0.18" textLength="47.4" lengthAdjust="spacingAndGlyphs">JMJD6 KO2</text>
<text transform="translate(16.6,594.6) rotate(-90)" text-anchor="middle" font-size="8.5" fill="#111" stroke="#111" stroke-width="0.18" textLength="25.2" lengthAdjust="spacingAndGlyphs">MCF7</text>
<text transform="translate(16.6,689.6) rotate(-90)" text-anchor="middle" font-size="8.5" fill="#111" stroke="#111" stroke-width="0.18" textLength="43" lengthAdjust="spacingAndGlyphs">MDA-MB231</text>
</svg>
</body></html>
